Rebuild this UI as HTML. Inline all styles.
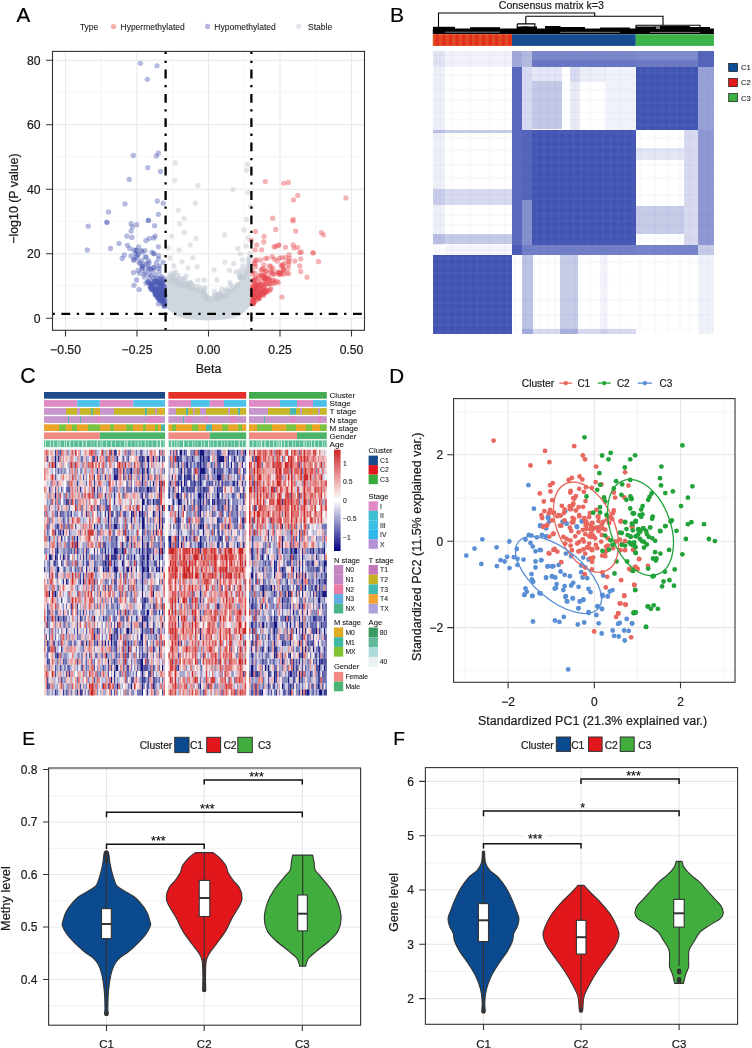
<!DOCTYPE html>
<html><head><meta charset="utf-8"><style>
html,body{margin:0;padding:0;background:#fff;width:752px;height:1048px;overflow:hidden}
svg{display:block;will-change:transform}
</style></head><body>
<svg width="752" height="1048" viewBox="0 0 752 1048" font-family="Liberation Sans, sans-serif">
<rect width="752" height="1048" fill="#fff"/>
<text x="16.4" y="21.5" font-size="20.6" text-anchor="start" fill="#000" stroke="#000" stroke-width="0.2" >A</text>
<text x="389.9" y="21.8" font-size="21" text-anchor="start" fill="#000" stroke="#000" stroke-width="0.2" >B</text>
<text x="20.2" y="382.9" font-size="21.3" text-anchor="start" fill="#000" stroke="#000" stroke-width="0.2" >C</text>
<text x="389.2" y="383" font-size="20.6" text-anchor="start" fill="#000" stroke="#000" stroke-width="0.2" >D</text>
<text x="22.2" y="745.4" font-size="19.2" text-anchor="start" fill="#000" stroke="#000" stroke-width="0.2" >E</text>
<text x="393.2" y="745.4" font-size="19.2" text-anchor="start" fill="#000" stroke="#000" stroke-width="0.2" >F</text>
<path d="M101.2 51.4V330.3M172.8 51.4V330.3M244.2 51.4V330.3M315.8 51.4V330.3M52.5 285.9H364.5M52.5 221.4H364.5M52.5 156.9H364.5M52.5 92.4H364.5" stroke="#efefef" stroke-width="0.6" fill="none"/>
<path d="M65.5 51.4V330.3M137 51.4V330.3M208.5 51.4V330.3M280 51.4V330.3M351.5 51.4V330.3M52.5 318.2H364.5M52.5 253.7H364.5M52.5 189.2H364.5M52.5 124.7H364.5M52.5 60.2H364.5" stroke="#e8e8e8" stroke-width="1.1" fill="none"/>
<text x="79.9" y="29.9" font-size="8.5" text-anchor="start" fill="#1a1a1a" stroke="#1a1a1a" stroke-width="0.08" >Type</text>
<circle cx="113.6" cy="26.6" r="2.6" fill="#f4b0aa"/>
<text x="120.5" y="29.9" font-size="8.5" text-anchor="start" fill="#1a1a1a" stroke="#1a1a1a" stroke-width="0.08" >Hypermethylated</text>
<circle cx="207.6" cy="26.4" r="2.6" fill="#b2b6e0"/>
<text x="214.3" y="29.9" font-size="8.5" text-anchor="start" fill="#1a1a1a" stroke="#1a1a1a" stroke-width="0.08" >Hypomethylated</text>
<circle cx="298.7" cy="26.4" r="2.6" fill="#e2e6ec"/>
<text x="308.1" y="29.9" font-size="8.5" text-anchor="start" fill="#1a1a1a" stroke="#1a1a1a" stroke-width="0.08" >Stable</text>
<clipPath id="clipA"><rect x="52.5" y="51.4" width="312.0" height="278.90000000000003"/></clipPath>
<g clip-path="url(#clipA)">
<polygon points="166,276 175,281 190,286 200,290 208,299 216,298 226,294 236,285 245,273 250.5,258 250.5,306 240,316 225,319.5 208,320.5 190,319.5 176,316 166,308" fill="#cfd6dd"/>
<g fill="#c3ccd6" fill-opacity="0.5"><circle cx="204.5" cy="287.6" r="2.65"/><circle cx="205.6" cy="294.6" r="2.65"/><circle cx="209.2" cy="298.4" r="2.65"/><circle cx="209.5" cy="299.3" r="2.65"/><circle cx="219.3" cy="298.2" r="2.65"/><circle cx="192.2" cy="286.9" r="2.65"/><circle cx="174.5" cy="280.2" r="2.65"/><circle cx="170.5" cy="274" r="2.65"/><circle cx="248.5" cy="259" r="2.65"/><circle cx="218.1" cy="297.7" r="2.65"/><circle cx="180.1" cy="279.2" r="2.65"/><circle cx="171.9" cy="280.8" r="2.65"/><circle cx="182.8" cy="285.5" r="2.65"/><circle cx="205.5" cy="297.1" r="2.65"/><circle cx="203.6" cy="293" r="2.65"/><circle cx="220.1" cy="293.8" r="2.65"/><circle cx="208.5" cy="298.3" r="2.65"/><circle cx="190.1" cy="283.8" r="2.65"/><circle cx="249.8" cy="253.3" r="2.65"/><circle cx="225.7" cy="295.9" r="2.65"/><circle cx="193.2" cy="288.8" r="2.65"/><circle cx="172.8" cy="278.1" r="2.65"/><circle cx="230.6" cy="284.8" r="2.65"/><circle cx="199.1" cy="286.5" r="2.65"/><circle cx="246.5" cy="270.8" r="2.65"/><circle cx="184.4" cy="286" r="2.65"/><circle cx="242.6" cy="265.9" r="2.65"/><circle cx="200" cy="289.6" r="2.65"/><circle cx="173.1" cy="276.6" r="2.65"/><circle cx="189.4" cy="282.1" r="2.65"/><circle cx="174.2" cy="276.8" r="2.65"/><circle cx="229.9" cy="282.4" r="2.65"/><circle cx="176.8" cy="283.6" r="2.65"/><circle cx="172" cy="279.2" r="2.65"/><circle cx="233.2" cy="287" r="2.65"/><circle cx="204.1" cy="291.5" r="2.65"/><circle cx="182.8" cy="285.3" r="2.65"/><circle cx="220.4" cy="295.9" r="2.65"/><circle cx="176.7" cy="280.8" r="2.65"/><circle cx="189.4" cy="286.3" r="2.65"/><circle cx="247.6" cy="266.7" r="2.65"/><circle cx="240.4" cy="277.5" r="2.65"/><circle cx="184.5" cy="279.2" r="2.65"/><circle cx="220.3" cy="292.8" r="2.65"/><circle cx="175.3" cy="280" r="2.65"/><circle cx="188.4" cy="287.3" r="2.65"/><circle cx="231.1" cy="289.6" r="2.65"/><circle cx="173.1" cy="278.6" r="2.65"/><circle cx="174.5" cy="279.8" r="2.65"/><circle cx="216.9" cy="298" r="2.65"/><circle cx="197.9" cy="280.2" r="2.65"/><circle cx="207.1" cy="296.7" r="2.65"/><circle cx="214.7" cy="298.3" r="2.65"/><circle cx="179.8" cy="282.5" r="2.65"/><circle cx="242.4" cy="277.1" r="2.65"/><circle cx="182.8" cy="282.5" r="2.65"/><circle cx="228.4" cy="291.1" r="2.65"/><circle cx="245.9" cy="271.6" r="2.65"/><circle cx="240.2" cy="277.6" r="2.65"/><circle cx="175.6" cy="280.4" r="2.65"/><circle cx="170.2" cy="277.1" r="2.65"/><circle cx="225.5" cy="295.4" r="2.65"/><circle cx="188.3" cy="284.7" r="2.65"/><circle cx="191.4" cy="283.1" r="2.65"/><circle cx="181.6" cy="284.9" r="2.65"/><circle cx="186" cy="285" r="2.65"/><circle cx="213.4" cy="296.6" r="2.65"/><circle cx="190.3" cy="283.1" r="2.65"/><circle cx="243.1" cy="277.2" r="2.65"/><circle cx="189.3" cy="287" r="2.65"/><circle cx="204" cy="293.9" r="2.65"/><circle cx="197.6" cy="290" r="2.65"/><circle cx="214.5" cy="297.3" r="2.65"/><circle cx="240.9" cy="277.3" r="2.65"/><circle cx="248.4" cy="262" r="2.65"/><circle cx="215.5" cy="294.3" r="2.65"/><circle cx="178.6" cy="283.4" r="2.65"/><circle cx="242.5" cy="278.1" r="2.65"/><circle cx="225.2" cy="295.4" r="2.65"/><circle cx="219.8" cy="298.3" r="2.65"/><circle cx="207" cy="299.4" r="2.65"/><circle cx="249.9" cy="257.6" r="2.65"/><circle cx="173.2" cy="275" r="2.65"/><circle cx="241.7" cy="277.3" r="2.65"/><circle cx="228.2" cy="291.7" r="2.65"/><circle cx="242.9" cy="270.1" r="2.65"/><circle cx="196.2" cy="286.6" r="2.65"/><circle cx="239.3" cy="273.7" r="2.65"/><circle cx="201.6" cy="291.6" r="2.65"/><circle cx="214.5" cy="291.5" r="2.65"/><circle cx="218.9" cy="294.5" r="2.65"/><circle cx="217.5" cy="295.4" r="2.65"/><circle cx="173.7" cy="273.1" r="2.65"/><circle cx="240" cy="270.7" r="2.65"/><circle cx="227.4" cy="289.1" r="2.65"/><circle cx="215.2" cy="295.4" r="2.65"/><circle cx="203.6" cy="295" r="2.65"/><circle cx="229.3" cy="291.5" r="2.65"/><circle cx="169.5" cy="275.8" r="2.65"/><circle cx="186.1" cy="283.6" r="2.65"/><circle cx="225" cy="290.2" r="2.65"/><circle cx="243.4" cy="277" r="2.65"/><circle cx="188.2" cy="283.6" r="2.65"/><circle cx="223.3" cy="296.8" r="2.65"/><circle cx="183.8" cy="281.2" r="2.65"/><circle cx="221.8" cy="289.1" r="2.65"/><circle cx="203.7" cy="293" r="2.65"/><circle cx="222.3" cy="295" r="2.65"/><circle cx="183.5" cy="278.4" r="2.65"/><circle cx="242.9" cy="274.4" r="2.65"/><circle cx="240.1" cy="277.1" r="2.65"/><circle cx="193.3" cy="285.4" r="2.65"/><circle cx="178.3" cy="275.5" r="2.65"/><circle cx="237.4" cy="284.9" r="2.65"/><circle cx="226" cy="292.5" r="2.65"/><circle cx="181" cy="283.9" r="2.65"/><circle cx="204.4" cy="296.5" r="2.65"/><circle cx="201.4" cy="290.4" r="2.65"/><circle cx="218.9" cy="294.9" r="2.65"/><circle cx="236.6" cy="286" r="2.65"/><circle cx="248.5" cy="263.7" r="2.65"/><circle cx="169.6" cy="279.5" r="2.65"/><circle cx="239.4" cy="275.6" r="2.65"/><circle cx="214.4" cy="298.4" r="2.65"/><circle cx="192.6" cy="288.8" r="2.65"/><circle cx="178.3" cy="283.2" r="2.65"/><circle cx="204.8" cy="289" r="2.65"/><circle cx="186.7" cy="285.6" r="2.65"/><circle cx="178.7" cy="278.2" r="2.65"/><circle cx="204.1" cy="294.7" r="2.65"/><circle cx="175.3" cy="162.9" r="2.65"/><circle cx="174.8" cy="180.5" r="2.65"/><circle cx="197.9" cy="185.5" r="2.65"/><circle cx="233" cy="189.6" r="2.65"/><circle cx="195.4" cy="203.1" r="2.65"/><circle cx="178.3" cy="210.2" r="2.65"/><circle cx="184" cy="218.3" r="2.65"/><circle cx="179.8" cy="223.7" r="2.65"/><circle cx="184.4" cy="232.4" r="2.65"/><circle cx="171.5" cy="236.2" r="2.65"/><circle cx="195.9" cy="238.5" r="2.65"/><circle cx="190.2" cy="245" r="2.65"/><circle cx="179.1" cy="249.9" r="2.65"/><circle cx="224.6" cy="235" r="2.65"/><circle cx="237.9" cy="248.4" r="2.65"/><circle cx="246.7" cy="219.4" r="2.65"/><circle cx="247.8" cy="164.4" r="2.65"/><circle cx="246.7" cy="170.2" r="2.65"/><circle cx="248.2" cy="192.7" r="2.65"/><circle cx="250.8" cy="206.4" r="2.65"/><circle cx="192.8" cy="257.6" r="2.65"/><circle cx="197.1" cy="266.7" r="2.65"/><circle cx="224.9" cy="262.1" r="2.65"/><circle cx="233.7" cy="263.4" r="2.65"/><circle cx="229.5" cy="270.5" r="2.65"/><circle cx="242.4" cy="259.8" r="2.65"/><circle cx="174" cy="266" r="2.65"/><circle cx="182" cy="262" r="2.65"/><circle cx="188" cy="268" r="2.65"/><circle cx="170" cy="258" r="2.65"/><circle cx="168" cy="248" r="2.65"/><circle cx="214" cy="270" r="2.65"/><circle cx="240" cy="254" r="2.65"/><circle cx="246" cy="246" r="2.65"/><circle cx="244" cy="230" r="2.65"/><circle cx="236" cy="272" r="2.65"/><circle cx="186" cy="276" r="2.65"/><circle cx="204" cy="280" r="2.65"/><circle cx="217" cy="280" r="2.65"/><circle cx="176" cy="272" r="2.65"/><circle cx="248" cy="238" r="2.65"/></g>
<g fill="#4d5bb4" fill-opacity="0.42"><circle cx="133.3" cy="155.5" r="2.65"/><circle cx="156.3" cy="156" r="2.65"/><circle cx="158.4" cy="153.2" r="2.65"/><circle cx="147.7" cy="167.7" r="2.65"/><circle cx="160.5" cy="171.5" r="2.65"/><circle cx="129.2" cy="179.4" r="2.65"/><circle cx="125" cy="203.8" r="2.65"/><circle cx="157.3" cy="201" r="2.65"/><circle cx="163.3" cy="203.2" r="2.65"/><circle cx="108.6" cy="211.9" r="2.65"/><circle cx="158.4" cy="214.3" r="2.65"/><circle cx="106.9" cy="222.3" r="2.65"/><circle cx="106.9" cy="222.3" r="2.65"/><circle cx="88.2" cy="226.2" r="2.65"/><circle cx="148.4" cy="220.4" r="2.65"/><circle cx="148.4" cy="220.4" r="2.65"/><circle cx="131.1" cy="223.6" r="2.65"/><circle cx="136.7" cy="224.7" r="2.65"/><circle cx="154.6" cy="225.7" r="2.65"/><circle cx="132.4" cy="226.8" r="2.65"/><circle cx="131.1" cy="231.1" r="2.65"/><circle cx="126.9" cy="236.2" r="2.65"/><circle cx="149.2" cy="238.5" r="2.65"/><circle cx="153.7" cy="237.9" r="2.65"/><circle cx="155.2" cy="236.2" r="2.65"/><circle cx="119" cy="243.4" r="2.65"/><circle cx="127.5" cy="245.3" r="2.65"/><circle cx="158.4" cy="246.8" r="2.65"/><circle cx="87.3" cy="250" r="2.65"/><circle cx="110.5" cy="248.5" r="2.65"/><circle cx="129.7" cy="248.5" r="2.65"/><circle cx="133.9" cy="250" r="2.65"/><circle cx="141.4" cy="250.6" r="2.65"/><circle cx="145" cy="250.6" r="2.65"/><circle cx="152" cy="252.1" r="2.65"/><circle cx="154.1" cy="253.8" r="2.65"/><circle cx="124.3" cy="254.9" r="2.65"/><circle cx="122.2" cy="258.5" r="2.65"/><circle cx="131.1" cy="256" r="2.65"/><circle cx="137.1" cy="257.7" r="2.65"/><circle cx="145.2" cy="256.8" r="2.65"/><circle cx="133.9" cy="260.2" r="2.65"/><circle cx="139.2" cy="262.3" r="2.65"/><circle cx="146.7" cy="263.4" r="2.65"/><circle cx="156.3" cy="263" r="2.65"/><circle cx="163.1" cy="262.3" r="2.65"/><circle cx="133.5" cy="272.6" r="2.65"/><circle cx="136.5" cy="280" r="2.65"/><circle cx="133.9" cy="285.3" r="2.65"/><circle cx="139.2" cy="289.6" r="2.65"/><circle cx="158.4" cy="303.8" r="2.65"/><circle cx="155.8" cy="294.4" r="2.65"/><circle cx="138.6" cy="247" r="2.65"/><circle cx="152.4" cy="288.3" r="2.65"/><circle cx="159" cy="298" r="2.65"/><circle cx="138.5" cy="254.6" r="2.65"/><circle cx="163.6" cy="278.7" r="2.65"/><circle cx="158.9" cy="299.3" r="2.65"/><circle cx="156.9" cy="277.8" r="2.65"/><circle cx="164.6" cy="304.2" r="2.65"/><circle cx="142" cy="266.5" r="2.65"/><circle cx="151.5" cy="275.6" r="2.65"/><circle cx="163.4" cy="281.9" r="2.65"/><circle cx="155.9" cy="295.4" r="2.65"/><circle cx="146" cy="283" r="2.65"/><circle cx="162.6" cy="294.8" r="2.65"/><circle cx="145.9" cy="240.6" r="2.65"/><circle cx="161.6" cy="284.3" r="2.65"/><circle cx="154.4" cy="289.4" r="2.65"/><circle cx="162.6" cy="282.2" r="2.65"/><circle cx="133.6" cy="259.7" r="2.65"/><circle cx="144.2" cy="277" r="2.65"/><circle cx="163.1" cy="290.9" r="2.65"/><circle cx="163.3" cy="293.1" r="2.65"/><circle cx="156.3" cy="291.2" r="2.65"/><circle cx="164.7" cy="300.7" r="2.65"/><circle cx="161.3" cy="290.1" r="2.65"/><circle cx="149.1" cy="274.2" r="2.65"/><circle cx="158.7" cy="297.8" r="2.65"/><circle cx="153.6" cy="253.7" r="2.65"/><circle cx="164.5" cy="291.9" r="2.65"/><circle cx="152.1" cy="289.5" r="2.65"/><circle cx="150.6" cy="286.9" r="2.65"/><circle cx="160.6" cy="299.9" r="2.65"/><circle cx="164.3" cy="305.4" r="2.65"/><circle cx="162.9" cy="294.8" r="2.65"/><circle cx="151.8" cy="288.1" r="2.65"/><circle cx="140.4" cy="263.5" r="2.65"/><circle cx="160.7" cy="296.9" r="2.65"/><circle cx="157.9" cy="297.3" r="2.65"/><circle cx="152.1" cy="283.9" r="2.65"/><circle cx="150.1" cy="286.1" r="2.65"/><circle cx="138.1" cy="270.6" r="2.65"/><circle cx="163.9" cy="294.3" r="2.65"/><circle cx="141.8" cy="260.6" r="2.65"/><circle cx="160.9" cy="284.9" r="2.65"/><circle cx="161.3" cy="293.8" r="2.65"/><circle cx="161.3" cy="299.8" r="2.65"/><circle cx="163.3" cy="299.5" r="2.65"/><circle cx="154" cy="284.5" r="2.65"/><circle cx="164.3" cy="306.2" r="2.65"/><circle cx="162.3" cy="300.5" r="2.65"/><circle cx="156.5" cy="288.8" r="2.65"/><circle cx="159.7" cy="285.5" r="2.65"/><circle cx="164.2" cy="302.8" r="2.65"/><circle cx="158.5" cy="297.2" r="2.65"/><circle cx="148.1" cy="269.1" r="2.65"/><circle cx="137.4" cy="254.6" r="2.65"/><circle cx="155.6" cy="293.9" r="2.65"/><circle cx="159.5" cy="293.3" r="2.65"/><circle cx="163.3" cy="297.8" r="2.65"/><circle cx="159.2" cy="289.3" r="2.65"/><circle cx="159.2" cy="266.2" r="2.65"/><circle cx="158.6" cy="297" r="2.65"/><circle cx="161.6" cy="285.5" r="2.65"/><circle cx="160" cy="291.9" r="2.65"/><circle cx="135.3" cy="257.7" r="2.65"/><circle cx="161" cy="289.2" r="2.65"/><circle cx="163.9" cy="302.1" r="2.65"/><circle cx="146.3" cy="257.2" r="2.65"/><circle cx="160.6" cy="295.8" r="2.65"/><circle cx="153.9" cy="267.4" r="2.65"/><circle cx="154.8" cy="293.6" r="2.65"/><circle cx="153.6" cy="278.4" r="2.65"/><circle cx="161.7" cy="276.7" r="2.65"/><circle cx="154" cy="291.2" r="2.65"/><circle cx="161.6" cy="281.8" r="2.65"/><circle cx="156.8" cy="289.5" r="2.65"/><circle cx="164.6" cy="295.5" r="2.65"/><circle cx="154.5" cy="290.8" r="2.65"/><circle cx="159.1" cy="290.8" r="2.65"/><circle cx="150.1" cy="268.4" r="2.65"/><circle cx="160.8" cy="286.4" r="2.65"/><circle cx="148.6" cy="267" r="2.65"/><circle cx="160.8" cy="284.8" r="2.65"/><circle cx="154.1" cy="267.6" r="2.65"/><circle cx="157.8" cy="293.3" r="2.65"/><circle cx="163.1" cy="286" r="2.65"/><circle cx="158.8" cy="268.4" r="2.65"/><circle cx="154" cy="288.8" r="2.65"/><circle cx="163" cy="280.2" r="2.65"/><circle cx="150.9" cy="269.7" r="2.65"/><circle cx="159.7" cy="289.6" r="2.65"/><circle cx="155.8" cy="292.4" r="2.65"/><circle cx="153.1" cy="270.7" r="2.65"/><circle cx="164.5" cy="297.6" r="2.65"/><circle cx="155.1" cy="280.9" r="2.65"/><circle cx="162.5" cy="295.5" r="2.65"/><circle cx="164.4" cy="286.3" r="2.65"/><circle cx="158.9" cy="298.9" r="2.65"/><circle cx="163.4" cy="300.2" r="2.65"/><circle cx="161.2" cy="298.3" r="2.65"/><circle cx="164.4" cy="297.3" r="2.65"/><circle cx="159" cy="284.3" r="2.65"/><circle cx="156.6" cy="282.2" r="2.65"/><circle cx="162.3" cy="303.4" r="2.65"/><circle cx="160" cy="300.7" r="2.65"/><circle cx="161.8" cy="296.7" r="2.65"/><circle cx="148.5" cy="282.6" r="2.65"/><circle cx="160.5" cy="280.8" r="2.65"/><circle cx="163.8" cy="301" r="2.65"/><circle cx="157.5" cy="287.1" r="2.65"/><circle cx="135.7" cy="253.6" r="2.65"/><circle cx="149.1" cy="262.8" r="2.65"/><circle cx="155.3" cy="281.4" r="2.65"/><circle cx="160.5" cy="288.6" r="2.65"/><circle cx="157.1" cy="281.3" r="2.65"/><circle cx="135.9" cy="250.4" r="2.65"/><circle cx="160.8" cy="297.8" r="2.65"/><circle cx="144.2" cy="274.1" r="2.65"/><circle cx="157.1" cy="297.4" r="2.65"/><circle cx="156" cy="282.2" r="2.65"/><circle cx="144.4" cy="264.9" r="2.65"/><circle cx="160.4" cy="291.5" r="2.65"/><circle cx="161.6" cy="298.4" r="2.65"/><circle cx="131.9" cy="237.4" r="2.65"/><circle cx="142.3" cy="252" r="2.65"/><circle cx="156.5" cy="293.9" r="2.65"/><circle cx="158.5" cy="255.6" r="2.65"/><circle cx="159.8" cy="282" r="2.65"/><circle cx="158.5" cy="258.8" r="2.65"/><circle cx="161.7" cy="295.3" r="2.65"/><circle cx="155.8" cy="294.7" r="2.65"/><circle cx="159.4" cy="293" r="2.65"/><circle cx="148.7" cy="261" r="2.65"/><circle cx="164.6" cy="294.6" r="2.65"/><circle cx="139.7" cy="273.3" r="2.65"/><circle cx="150.8" cy="289.3" r="2.65"/><circle cx="163.2" cy="292.8" r="2.65"/><circle cx="158.9" cy="279.2" r="2.65"/><circle cx="155.3" cy="274.9" r="2.65"/><circle cx="163.6" cy="290" r="2.65"/><circle cx="151.7" cy="284.7" r="2.65"/><circle cx="161" cy="284.1" r="2.65"/><circle cx="161.5" cy="285.9" r="2.65"/><circle cx="160.6" cy="298.6" r="2.65"/><circle cx="152.2" cy="287.9" r="2.65"/><circle cx="162.1" cy="301.3" r="2.65"/><circle cx="159.2" cy="272" r="2.65"/><circle cx="157.5" cy="281.7" r="2.65"/><circle cx="164.6" cy="303.8" r="2.65"/><circle cx="156.9" cy="281.1" r="2.65"/><circle cx="153.5" cy="281" r="2.65"/><circle cx="142.5" cy="266.2" r="2.65"/><circle cx="160.3" cy="277.8" r="2.65"/><circle cx="162.7" cy="285.4" r="2.65"/><circle cx="161.5" cy="300.2" r="2.65"/><circle cx="148.2" cy="281.4" r="2.65"/><circle cx="153.9" cy="281.8" r="2.65"/><circle cx="150.9" cy="284.5" r="2.65"/><circle cx="142.6" cy="268.5" r="2.65"/><circle cx="157.5" cy="284.1" r="2.65"/><circle cx="158.4" cy="294.8" r="2.65"/><circle cx="156.7" cy="289.1" r="2.65"/><circle cx="149.5" cy="277.8" r="2.65"/><circle cx="149.1" cy="282.8" r="2.65"/><circle cx="150.4" cy="287.3" r="2.65"/><circle cx="153" cy="289.3" r="2.65"/><circle cx="164.3" cy="306.1" r="2.65"/><circle cx="147.9" cy="281.7" r="2.65"/><circle cx="136.9" cy="250.5" r="2.65"/><circle cx="153.3" cy="284.2" r="2.65"/><circle cx="141.9" cy="268.9" r="2.65"/><circle cx="163.3" cy="292.8" r="2.65"/><circle cx="163.1" cy="294.7" r="2.65"/><circle cx="155.8" cy="288.7" r="2.65"/><circle cx="160.4" cy="299.5" r="2.65"/><circle cx="164.1" cy="287.1" r="2.65"/><circle cx="152.3" cy="284.4" r="2.65"/><circle cx="145.5" cy="272.1" r="2.65"/><circle cx="140.5" cy="63.3" r="2.65"/><circle cx="157" cy="65.8" r="2.65"/><circle cx="147.3" cy="79.3" r="2.65"/></g>
<g fill="#e84a52" fill-opacity="0.42"><circle cx="265.3" cy="181.6" r="2.65"/><circle cx="283.7" cy="183.3" r="2.65"/><circle cx="288.2" cy="182.4" r="2.65"/><circle cx="297.8" cy="195.4" r="2.65"/><circle cx="293.5" cy="199.9" r="2.65"/><circle cx="345.9" cy="197.9" r="2.65"/><circle cx="272.7" cy="218.2" r="2.65"/><circle cx="293.2" cy="219.5" r="2.65"/><circle cx="255.5" cy="231.5" r="2.65"/><circle cx="275.7" cy="229.5" r="2.65"/><circle cx="295.7" cy="231.1" r="2.65"/><circle cx="321.4" cy="232.6" r="2.65"/><circle cx="323.6" cy="234.8" r="2.65"/><circle cx="264.1" cy="236.5" r="2.65"/><circle cx="251.3" cy="240.3" r="2.65"/><circle cx="263.8" cy="242" r="2.65"/><circle cx="293.2" cy="244.8" r="2.65"/><circle cx="255" cy="249.8" r="2.65"/><circle cx="261.6" cy="249.8" r="2.65"/><circle cx="275.4" cy="246.4" r="2.65"/><circle cx="278.2" cy="245.6" r="2.65"/><circle cx="313.1" cy="252.8" r="2.65"/><circle cx="313.1" cy="252.8" r="2.65"/><circle cx="260.4" cy="260.1" r="2.65"/><circle cx="267.4" cy="258.1" r="2.65"/><circle cx="279.4" cy="258.1" r="2.65"/><circle cx="289" cy="254.7" r="2.65"/><circle cx="289.5" cy="258.1" r="2.65"/><circle cx="294.9" cy="261.1" r="2.65"/><circle cx="318.6" cy="261.7" r="2.65"/><circle cx="299.8" cy="266" r="2.65"/><circle cx="282.4" cy="266" r="2.65"/><circle cx="300.7" cy="271.4" r="2.65"/><circle cx="307" cy="277.2" r="2.65"/><circle cx="282" cy="297.1" r="2.65"/><circle cx="261.1" cy="291.6" r="2.65"/><circle cx="281.1" cy="274.6" r="2.65"/><circle cx="252.4" cy="270.8" r="2.65"/><circle cx="253.5" cy="303.7" r="2.65"/><circle cx="263.8" cy="292.1" r="2.65"/><circle cx="259.1" cy="296.4" r="2.65"/><circle cx="269.6" cy="265.9" r="2.65"/><circle cx="254.7" cy="295.5" r="2.65"/><circle cx="256.1" cy="287.3" r="2.65"/><circle cx="289.1" cy="261.9" r="2.65"/><circle cx="265" cy="292.1" r="2.65"/><circle cx="271.9" cy="273" r="2.65"/><circle cx="253.8" cy="297.8" r="2.65"/><circle cx="270.8" cy="266.3" r="2.65"/><circle cx="260.1" cy="287.9" r="2.65"/><circle cx="255.6" cy="295.8" r="2.65"/><circle cx="257" cy="297.4" r="2.65"/><circle cx="283.4" cy="269" r="2.65"/><circle cx="282.5" cy="264.9" r="2.65"/><circle cx="261.9" cy="291.8" r="2.65"/><circle cx="252.6" cy="273.8" r="2.65"/><circle cx="254" cy="287.9" r="2.65"/><circle cx="265.2" cy="279" r="2.65"/><circle cx="284.5" cy="263.4" r="2.65"/><circle cx="255.5" cy="295.8" r="2.65"/><circle cx="263.4" cy="295.6" r="2.65"/><circle cx="252.5" cy="288.8" r="2.65"/><circle cx="288.5" cy="265" r="2.65"/><circle cx="260.1" cy="280.3" r="2.65"/><circle cx="253.7" cy="290.4" r="2.65"/><circle cx="264.7" cy="284.5" r="2.65"/><circle cx="297.7" cy="247.3" r="2.65"/><circle cx="253.1" cy="283.9" r="2.65"/><circle cx="254.6" cy="295.9" r="2.65"/><circle cx="256.7" cy="244.8" r="2.65"/><circle cx="254.1" cy="301.9" r="2.65"/><circle cx="269.7" cy="279.2" r="2.65"/><circle cx="265.8" cy="290.3" r="2.65"/><circle cx="252.9" cy="288.7" r="2.65"/><circle cx="265" cy="276.5" r="2.65"/><circle cx="273.6" cy="274.5" r="2.65"/><circle cx="280.8" cy="273.4" r="2.65"/><circle cx="264.8" cy="279.1" r="2.65"/><circle cx="264.5" cy="290" r="2.65"/><circle cx="252.5" cy="300.7" r="2.65"/><circle cx="260.4" cy="284.7" r="2.65"/><circle cx="255.7" cy="289" r="2.65"/><circle cx="253.6" cy="299.3" r="2.65"/><circle cx="266.5" cy="270.8" r="2.65"/><circle cx="252.6" cy="288" r="2.65"/><circle cx="274" cy="280.3" r="2.65"/><circle cx="269.9" cy="272.7" r="2.65"/><circle cx="256.3" cy="300.5" r="2.65"/><circle cx="256" cy="285.2" r="2.65"/><circle cx="299.8" cy="252.4" r="2.65"/><circle cx="280.4" cy="272.4" r="2.65"/><circle cx="258.9" cy="294.8" r="2.65"/><circle cx="278.8" cy="274.3" r="2.65"/><circle cx="256.5" cy="260" r="2.65"/><circle cx="255" cy="289.3" r="2.65"/><circle cx="294.1" cy="247.9" r="2.65"/><circle cx="252.4" cy="303.2" r="2.65"/><circle cx="253.2" cy="300.4" r="2.65"/><circle cx="265.8" cy="278.4" r="2.65"/><circle cx="300.8" cy="258.8" r="2.65"/><circle cx="264.1" cy="288.3" r="2.65"/><circle cx="254.4" cy="285.9" r="2.65"/><circle cx="269.3" cy="280.3" r="2.65"/><circle cx="253.2" cy="280.5" r="2.65"/><circle cx="272.9" cy="280.3" r="2.65"/><circle cx="259.2" cy="292" r="2.65"/><circle cx="270.2" cy="283.7" r="2.65"/><circle cx="273.4" cy="273.7" r="2.65"/><circle cx="253.8" cy="291.2" r="2.65"/><circle cx="253" cy="294.9" r="2.65"/><circle cx="266.5" cy="291.5" r="2.65"/><circle cx="253.5" cy="302.1" r="2.65"/><circle cx="252.4" cy="293.9" r="2.65"/><circle cx="255" cy="283.1" r="2.65"/><circle cx="259.3" cy="293.8" r="2.65"/><circle cx="255" cy="264.2" r="2.65"/><circle cx="263.2" cy="291.6" r="2.65"/><circle cx="292.8" cy="220.9" r="2.65"/><circle cx="283.7" cy="269.6" r="2.65"/><circle cx="263.5" cy="276" r="2.65"/><circle cx="286.6" cy="273.3" r="2.65"/><circle cx="253.2" cy="291.9" r="2.65"/><circle cx="257.4" cy="285.2" r="2.65"/><circle cx="270.7" cy="288.3" r="2.65"/><circle cx="269.5" cy="283.4" r="2.65"/><circle cx="260.9" cy="275.1" r="2.65"/><circle cx="253" cy="303.2" r="2.65"/><circle cx="265.5" cy="271" r="2.65"/><circle cx="256" cy="278.4" r="2.65"/><circle cx="277" cy="281.5" r="2.65"/><circle cx="282.1" cy="257.7" r="2.65"/><circle cx="252.8" cy="286.6" r="2.65"/><circle cx="268.5" cy="278.9" r="2.65"/><circle cx="259.7" cy="289.5" r="2.65"/><circle cx="265.7" cy="289.6" r="2.65"/><circle cx="255.1" cy="289" r="2.65"/><circle cx="261.3" cy="291.6" r="2.65"/><circle cx="263.2" cy="268.5" r="2.65"/><circle cx="258.1" cy="295.9" r="2.65"/><circle cx="274.1" cy="246.9" r="2.65"/><circle cx="265" cy="292.4" r="2.65"/><circle cx="277.8" cy="271.9" r="2.65"/><circle cx="256" cy="292.9" r="2.65"/><circle cx="273.9" cy="282.9" r="2.65"/><circle cx="253.9" cy="293.2" r="2.65"/><circle cx="254.1" cy="263" r="2.65"/><circle cx="258.9" cy="283" r="2.65"/><circle cx="271.6" cy="269.8" r="2.65"/><circle cx="258.9" cy="295.8" r="2.65"/><circle cx="266.7" cy="292" r="2.65"/><circle cx="262.7" cy="284.1" r="2.65"/><circle cx="255.4" cy="266.7" r="2.65"/><circle cx="252.6" cy="290.6" r="2.65"/><circle cx="253.8" cy="302.3" r="2.65"/><circle cx="256.4" cy="296.5" r="2.65"/><circle cx="279.5" cy="273.2" r="2.65"/><circle cx="253.1" cy="297.6" r="2.65"/><circle cx="256.9" cy="292.4" r="2.65"/><circle cx="274.3" cy="259.1" r="2.65"/><circle cx="285.4" cy="247.3" r="2.65"/><circle cx="288.4" cy="260.8" r="2.65"/><circle cx="301.3" cy="252.2" r="2.65"/><circle cx="256.3" cy="294" r="2.65"/><circle cx="265.5" cy="279.2" r="2.65"/><circle cx="278.2" cy="282.6" r="2.65"/><circle cx="259.5" cy="295.8" r="2.65"/><circle cx="261.1" cy="285.3" r="2.65"/><circle cx="265.7" cy="278.1" r="2.65"/><circle cx="255.2" cy="295.6" r="2.65"/><circle cx="259.6" cy="294.6" r="2.65"/><circle cx="263.5" cy="287" r="2.65"/><circle cx="255.2" cy="297.1" r="2.65"/><circle cx="254.4" cy="280.5" r="2.65"/><circle cx="266.3" cy="284.2" r="2.65"/><circle cx="265.6" cy="279.1" r="2.65"/><circle cx="272.8" cy="268.4" r="2.65"/><circle cx="255.7" cy="284.9" r="2.65"/><circle cx="263.4" cy="294.2" r="2.65"/><circle cx="263.8" cy="292.9" r="2.65"/><circle cx="261.4" cy="288" r="2.65"/><circle cx="277.9" cy="273" r="2.65"/><circle cx="262.6" cy="275.8" r="2.65"/><circle cx="257" cy="286.3" r="2.65"/><circle cx="263.2" cy="293.9" r="2.65"/><circle cx="288.6" cy="273.6" r="2.65"/><circle cx="252.9" cy="299.1" r="2.65"/><circle cx="253.7" cy="296.3" r="2.65"/><circle cx="277.1" cy="261" r="2.65"/><circle cx="259.5" cy="298.5" r="2.65"/><circle cx="283.6" cy="270.1" r="2.65"/><circle cx="269" cy="290.8" r="2.65"/><circle cx="258.6" cy="298.2" r="2.65"/><circle cx="259.2" cy="285.4" r="2.65"/><circle cx="255.1" cy="278.2" r="2.65"/><circle cx="264.4" cy="274" r="2.65"/><circle cx="252.4" cy="303.9" r="2.65"/><circle cx="261.6" cy="294.4" r="2.65"/><circle cx="281" cy="265.4" r="2.65"/><circle cx="272.3" cy="256.7" r="2.65"/><circle cx="256.8" cy="290.5" r="2.65"/><circle cx="268.5" cy="277.7" r="2.65"/><circle cx="256" cy="289.1" r="2.65"/><circle cx="258.4" cy="276.8" r="2.65"/><circle cx="265.4" cy="258.6" r="2.65"/><circle cx="252.6" cy="294.5" r="2.65"/><circle cx="255.2" cy="298.5" r="2.65"/><circle cx="253.7" cy="280.5" r="2.65"/><circle cx="254.3" cy="298.6" r="2.65"/><circle cx="285.5" cy="257.6" r="2.65"/><circle cx="255.7" cy="295.2" r="2.65"/><circle cx="260.1" cy="275.2" r="2.65"/><circle cx="279.1" cy="244.8" r="2.65"/><circle cx="270.2" cy="289.8" r="2.65"/><circle cx="262.1" cy="269.8" r="2.65"/><circle cx="259.5" cy="288.2" r="2.65"/><circle cx="261.2" cy="269.7" r="2.65"/><circle cx="263.9" cy="264.8" r="2.65"/><circle cx="288" cy="268.5" r="2.65"/><circle cx="258.5" cy="298.5" r="2.65"/><circle cx="283.6" cy="274.1" r="2.65"/><circle cx="255.2" cy="260.5" r="2.65"/><circle cx="263.1" cy="277.8" r="2.65"/><circle cx="268.1" cy="283.7" r="2.65"/><circle cx="255" cy="273.3" r="2.65"/><circle cx="264.7" cy="283.8" r="2.65"/><circle cx="255.5" cy="296.1" r="2.65"/><circle cx="254.2" cy="292.2" r="2.65"/><circle cx="257.3" cy="285" r="2.65"/><circle cx="273.9" cy="283.3" r="2.65"/><circle cx="260.9" cy="293.4" r="2.65"/></g>
<path d="M165.6 330.3V51.4M251.4 330.3V51.4" stroke="#000" stroke-width="2.3" stroke-dasharray="2.3 6.6 8.8 6.6" fill="none"/>
<path d="M52.5 313.9H364.5" stroke="#000" stroke-width="2.3" stroke-dasharray="2.3 6.6 8.8 6.6" fill="none"/>
</g>
<rect x="52.5" y="51.4" width="312" height="278.9" fill="none" stroke="#333" stroke-width="1.1"/>
<path d="M46 318.2H52.5M46 253.7H52.5M46 189.2H52.5M46 124.7H52.5M46 60.2H52.5M65.5 330.3V336.5M137 330.3V336.5M208.5 330.3V336.5M280 330.3V336.5M351.5 330.3V336.5" stroke="#333" stroke-width="1.1" fill="none"/>
<text x="40.5" y="322.6" font-size="12.2" text-anchor="end" fill="#1a1a1a" stroke="#1a1a1a" stroke-width="0.2" >0</text>
<text x="40.5" y="258.1" font-size="12.2" text-anchor="end" fill="#1a1a1a" stroke="#1a1a1a" stroke-width="0.2" >20</text>
<text x="40.5" y="193.6" font-size="12.2" text-anchor="end" fill="#1a1a1a" stroke="#1a1a1a" stroke-width="0.2" >40</text>
<text x="40.5" y="129.1" font-size="12.2" text-anchor="end" fill="#1a1a1a" stroke="#1a1a1a" stroke-width="0.2" >60</text>
<text x="40.5" y="64.6" font-size="12.2" text-anchor="end" fill="#1a1a1a" stroke="#1a1a1a" stroke-width="0.2" >80</text>
<text x="65.5" y="353.9" font-size="12.2" text-anchor="middle" fill="#1a1a1a" stroke="#1a1a1a" stroke-width="0.2" >−0.50</text>
<text x="137" y="353.9" font-size="12.2" text-anchor="middle" fill="#1a1a1a" stroke="#1a1a1a" stroke-width="0.2" >−0.25</text>
<text x="208.5" y="353.9" font-size="12.2" text-anchor="middle" fill="#1a1a1a" stroke="#1a1a1a" stroke-width="0.2" >0.00</text>
<text x="280" y="353.9" font-size="12.2" text-anchor="middle" fill="#1a1a1a" stroke="#1a1a1a" stroke-width="0.2" >0.25</text>
<text x="351.5" y="353.9" font-size="12.2" text-anchor="middle" fill="#1a1a1a" stroke="#1a1a1a" stroke-width="0.2" >0.50</text>
<text x="208.5" y="372.6" font-size="12.5" text-anchor="middle" fill="#1a1a1a" stroke="#1a1a1a" stroke-width="0.2" >Beta</text>
<text transform="translate(17.6 198.6) rotate(-90)" font-size="12.4" text-anchor="middle" fill="#1a1a1a" stroke="#1a1a1a" stroke-width="0.22">−log10 (P value)</text>
<text x="498.8" y="9.2" font-size="10.6" text-anchor="start" fill="#1a1a1a" stroke="#1a1a1a" stroke-width="0.2" >Consensus matrix k=3</text>
<rect x="432.8" y="34.2" width="79.2" height="11.7" fill="#e04a22"/>
<g fill="#e61c1c" opacity="0.6"><rect x="435.8" y="34.2" width="3" height="11.7"/><rect x="442.4" y="34.2" width="3" height="11.7"/><rect x="449" y="34.2" width="3" height="11.7"/><rect x="455.6" y="34.2" width="3" height="11.7"/><rect x="462.2" y="34.2" width="3" height="11.7"/><rect x="468.8" y="34.2" width="3" height="11.7"/><rect x="475.4" y="34.2" width="3" height="11.7"/><rect x="482" y="34.2" width="3" height="11.7"/><rect x="488.6" y="34.2" width="3" height="11.7"/><rect x="495.2" y="34.2" width="3" height="11.7"/><rect x="501.8" y="34.2" width="3" height="11.7"/><rect x="508.4" y="34.2" width="3" height="11.7"/></g>
<rect x="512" y="34.2" width="123.8" height="11.7" fill="#174d90"/>
<rect x="635.8" y="34.2" width="78.1" height="11.7" fill="#3db34a"/>
<g fill="#4354b4" shape-rendering="crispEdges"><rect x="433" y="255" width="79" height="79" fill-opacity="1.0"/><rect x="532" y="130" width="104" height="115" fill-opacity="1.0"/><rect x="522" y="130" width="10" height="70" fill-opacity="0.9"/><rect x="522" y="200" width="10" height="45" fill-opacity="0.65"/><rect x="636" y="67" width="62" height="63" fill-opacity="1.0"/><rect x="512" y="67" width="10" height="178" fill-opacity="0.88"/><rect x="512" y="51" width="10" height="16" fill-opacity="0.5"/><rect x="522" y="51" width="10" height="16" fill-opacity="0.4"/><rect x="532" y="51" width="104" height="9" fill-opacity="0.7"/><rect x="532" y="60" width="104" height="7" fill-opacity="0.8"/><rect x="636" y="51" width="62" height="9" fill-opacity="0.68"/><rect x="636" y="60" width="62" height="7" fill-opacity="0.78"/><rect x="698" y="51" width="16" height="16" fill-opacity="0.9"/><rect x="698" y="67" width="16" height="63" fill-opacity="0.55"/><rect x="698" y="130" width="16" height="115" fill-opacity="0.6"/><rect x="698" y="245" width="16" height="10" fill-opacity="0.3"/><rect x="512" y="245" width="10" height="10" fill-opacity="0.95"/><rect x="522" y="245" width="114" height="10" fill-opacity="0.75"/><rect x="636" y="245" width="62" height="10" fill-opacity="0.72"/><rect x="433" y="130" width="79" height="3" fill-opacity="0.3"/><rect x="532" y="81" width="30" height="48" fill-opacity="0.32"/><rect x="532" y="67" width="30" height="14" fill-opacity="0.15"/><rect x="522" y="67" width="10" height="63" fill-opacity="0.22"/><rect x="570" y="67" width="10" height="63" fill-opacity="0.12"/><rect x="606" y="67" width="30" height="63" fill-opacity="0.08"/><rect x="570" y="67" width="36" height="15" fill-opacity="0.1"/><rect x="636" y="206" width="48" height="28" fill-opacity="0.3"/><rect x="636" y="148" width="48" height="12" fill-opacity="0.15"/><rect x="684" y="130" width="14" height="115" fill-opacity="0.22"/><rect x="433" y="51" width="12" height="194" fill-opacity="0.09"/><rect x="433" y="189" width="79" height="16" fill-opacity="0.22"/><rect x="433" y="234" width="79" height="10" fill-opacity="0.3"/><rect x="522" y="255" width="11" height="79" fill-opacity="0.35"/><rect x="560" y="255" width="18" height="79" fill-opacity="0.3"/><rect x="522" y="329" width="114" height="5" fill-opacity="0.22"/><rect x="433" y="51" width="79" height="16" fill-opacity="0.07"/><rect x="445" y="245" width="67" height="10" fill-opacity="0.05"/><rect x="698" y="255" width="16" height="79" fill-opacity="0.08"/><rect x="600" y="255" width="8" height="79" fill-opacity="0.06"/></g>
<pattern id="gridB" width="7.4" height="7.4" patternUnits="userSpaceOnUse" x="433" y="51"><rect width="7.4" height="7.4" fill="#6a74c4" fill-opacity="0.2"/><rect x="1.2" y="1.2" width="5" height="5" fill="#2a46a6" fill-opacity="0.35"/></pattern>
<rect x="433" y="255" width="79" height="79" fill="url(#gridB)"/>
<rect x="532" y="130" width="104" height="115" fill="url(#gridB)"/>
<rect x="636" y="67" width="62" height="63" fill="url(#gridB)"/>
<path d="M436 51V334M440 51V334M452 51V334M470 51V334M490 51V334M505 51V334M515 51V334M525 51V334M540 51V334M548 51V334M555 51V334M575 51V334M590 51V334M605 51V334M620 51V334M640 51V334M655 51V334M668 51V334M680 51V334M690 51V334M702 51V334M708 51V334M433 55H714M433 62H714M433 75H714M433 90H714M433 100H714M433 112H714M433 120H714M433 138H714M433 150H714M433 165H714M433 178H714M433 195H714M433 215H714M433 225H714M433 238H714M433 250H714M433 262H714M433 280H714M433 300H714M433 315H714M433 328H714" stroke="#4354b4" stroke-opacity="0.07" stroke-width="0.8" fill="none"/>
<path d="M438.5 29V13.05H594.7V16.3M525.8 16.3H663V25.2M525.8 16.3V23.9M517.2 23.9H534.9V29M517.2 23.9V29M635.9 25.2H700V29M635.9 25.2V29M522 27H528V29M545 26.5H560V29M655 27H676V29M690 27.5H708V29" stroke="#000" stroke-width="1.1" fill="none"/>
<rect x="432.8" y="28.5" width="281.1" height="5.5" fill="#000"/>
<path d="M445 32.2H500M560 32.3H620M650 32.4H700" stroke="#fff" stroke-width="0.8" stroke-opacity="0.6"/>
<g fill="#000"><rect x="433" y="26.8" width="22" height="2.2"/><rect x="470" y="27.2" width="30" height="1.8"/><rect x="517" y="26.5" width="20" height="2.5"/><rect x="545" y="27" width="40" height="2"/><rect x="600" y="27.5" width="30" height="1.5"/><rect x="636" y="26.5" width="20" height="2.5"/><rect x="660" y="26" width="30" height="3"/><rect x="690" y="27" width="20" height="2"/></g>
<rect x="728.7" y="63.4" width="8.8" height="8.1" fill="#0a4c96" stroke="#111" stroke-width="0.7"/>
<text x="741" y="70.3" font-size="7.6" text-anchor="start" fill="#1a1a1a" stroke="#1a1a1a" stroke-width="0.08" >C1</text>
<rect x="728.7" y="78.5" width="8.8" height="8.1" fill="#e41a1c" stroke="#111" stroke-width="0.7"/>
<text x="741" y="85.4" font-size="7.6" text-anchor="start" fill="#1a1a1a" stroke="#1a1a1a" stroke-width="0.08" >C2</text>
<rect x="728.7" y="93.6" width="8.8" height="8.1" fill="#3cb043" stroke="#111" stroke-width="0.7"/>
<text x="741" y="100.5" font-size="7.6" text-anchor="start" fill="#1a1a1a" stroke="#1a1a1a" stroke-width="0.08" >C3</text>
<g transform="translate(44.0 449.65) scale(1.55128 6.14625)"><path fill="#161880" d="M62 0h1v1h-1zM7 1h1v1h-1zM63 1h1v1h-1zM66 1h2v1h-2zM70 1h1v1h-1zM74 1h1v1h-1zM7 2h1v1h-1zM51 3h1v1h-1zM56 3h1v1h-1zM63 3h1v1h-1zM66 3h1v1h-1zM45 4h2v1h-2zM63 4h1v1h-1zM63 5h1v1h-1zM70 5h1v1h-1zM32 6h1v1h-1zM66 6h2v1h-2zM74 6h1v1h-1zM7 7h1v1h-1zM45 7h1v1h-1zM63 7h1v1h-1zM15 8h1v1h-1zM63 8h2v1h-2zM70 8h1v1h-1zM63 9h1v1h-1zM76 9h1v1h-1zM17 10h1v1h-1zM41 10h1v1h-1zM56 10h1v1h-1zM61 10h1v1h-1zM63 10h1v1h-1zM70 10h1v1h-1zM74 10h1v1h-1zM41 11h1v1h-1zM56 11h1v1h-1zM63 11h2v1h-2zM74 11h1v1h-1zM32 12h1v1h-1zM45 12h2v1h-2zM63 12h2v1h-2zM74 12h1v1h-1zM76 12h1v1h-1zM12 13h1v1h-1zM11 14h1v1h-1zM21 14h1v1h-1zM46 14h1v1h-1zM63 14h1v1h-1zM21 15h1v1h-1zM50 15h1v1h-1zM63 15h1v1h-1zM66 15h1v1h-1zM8 16h1v1h-1zM39 16h1v1h-1zM45 16h2v1h-2zM50 16h1v1h-1zM61 16h1v1h-1zM63 16h1v1h-1zM66 16h1v1h-1zM74 16h1v1h-1zM76 16h1v1h-1zM3 17h2v1h-2zM7 17h1v1h-1zM12 17h1v1h-1zM15 17h1v1h-1zM41 17h1v1h-1zM44 17h1v1h-1zM58 17h1v1h-1zM66 17h2v1h-2zM70 17h1v1h-1zM74 17h1v1h-1zM6 18h1v1h-1zM39 18h1v1h-1zM45 18h1v1h-1zM50 18h1v1h-1zM63 18h1v1h-1zM66 18h1v1h-1zM71 18h1v1h-1zM9 19h1v1h-1zM27 19h1v1h-1zM32 19h1v1h-1zM38 19h1v1h-1zM41 19h1v1h-1zM45 19h2v1h-2zM53 19h2v1h-2zM56 19h1v1h-1zM63 19h2v1h-2zM66 19h2v1h-2zM72 19h1v1h-1zM74 19h1v1h-1zM76 19h1v1h-1zM46 20h1v1h-1zM63 20h1v1h-1zM14 21h1v1h-1zM25 21h1v1h-1zM63 21h1v1h-1zM63 22h1v1h-1zM3 23h1v1h-1zM7 23h1v1h-1zM63 23h1v1h-1zM70 23h1v1h-1zM63 25h1v1h-1zM64 26h1v1h-1zM66 26h2v1h-2zM2 27h1v1h-1zM9 27h1v1h-1zM32 27h1v1h-1zM53 27h1v1h-1zM63 27h1v1h-1zM66 27h1v1h-1zM63 28h1v1h-1zM66 28h1v1h-1zM46 29h1v1h-1zM53 29h2v1h-2zM63 29h1v1h-1zM70 29h1v1h-1zM32 30h1v1h-1zM43 30h1v1h-1zM62 30h2v1h-2zM2 31h1v1h-1zM6 31h1v1h-1zM24 31h1v1h-1zM39 31h1v1h-1zM43 31h1v1h-1zM46 31h1v1h-1zM63 31h1v1h-1zM11 32h1v1h-1zM46 32h1v1h-1zM54 32h1v1h-1zM8 33h1v1h-1zM40 33h1v1h-1zM66 33h1v1h-1zM2 34h1v1h-1zM41 34h1v1h-1zM62 34h2v1h-2zM24 35h1v1h-1zM46 35h2v1h-2zM62 35h2v1h-2zM76 35h1v1h-1zM45 36h1v1h-1zM63 36h1v1h-1zM43 37h1v1h-1zM64 37h1v1h-1zM2 38h1v1h-1zM47 38h1v1h-1zM56 38h1v1h-1zM63 38h1v1h-1zM70 38h1v1h-1zM24 39h1v1h-1zM63 39h1v1h-1zM66 39h1v1h-1z"/><path fill="#333590" d="M7 0h1v1h-1zM45 0h2v1h-2zM2 1h1v1h-1zM9 1h1v1h-1zM24 1h1v1h-1zM34 1h1v1h-1zM47 1h1v1h-1zM64 1h1v1h-1zM62 2h1v1h-1zM67 2h1v1h-1zM34 3h1v1h-1zM45 3h1v1h-1zM47 3h1v1h-1zM55 3h1v1h-1zM64 3h1v1h-1zM32 4h1v1h-1zM39 4h1v1h-1zM47 4h1v1h-1zM51 4h1v1h-1zM67 4h1v1h-1zM71 4h1v1h-1zM21 5h1v1h-1zM32 5h1v1h-1zM53 5h1v1h-1zM74 5h1v1h-1zM3 6h1v1h-1zM15 6h1v1h-1zM23 6h1v1h-1zM53 6h1v1h-1zM62 6h1v1h-1zM39 7h1v1h-1zM74 7h1v1h-1zM14 8h1v1h-1zM45 8h1v1h-1zM66 8h1v1h-1zM34 9h1v1h-1zM8 10h1v1h-1zM15 10h1v1h-1zM24 10h1v1h-1zM27 10h1v1h-1zM39 10h1v1h-1zM57 10h1v1h-1zM15 11h1v1h-1zM76 11h1v1h-1zM8 12h1v1h-1zM34 12h1v1h-1zM53 12h1v1h-1zM7 13h1v1h-1zM10 13h1v1h-1zM51 13h1v1h-1zM63 13h1v1h-1zM72 13h1v1h-1zM3 14h1v1h-1zM53 14h2v1h-2zM71 14h1v1h-1zM8 15h1v1h-1zM46 15h1v1h-1zM53 15h1v1h-1zM56 15h1v1h-1zM21 16h1v1h-1zM27 16h1v1h-1zM32 16h1v1h-1zM47 16h1v1h-1zM51 16h1v1h-1zM8 17h1v1h-1zM25 17h1v1h-1zM27 17h1v1h-1zM40 17h1v1h-1zM43 17h1v1h-1zM45 17h2v1h-2zM51 17h1v1h-1zM63 17h2v1h-2zM76 17h1v1h-1zM11 18h1v1h-1zM41 18h1v1h-1zM51 18h1v1h-1zM74 18h1v1h-1zM0 19h1v1h-1zM8 19h1v1h-1zM13 19h1v1h-1zM24 19h1v1h-1zM40 19h1v1h-1zM47 19h1v1h-1zM51 19h1v1h-1zM59 19h1v1h-1zM8 20h1v1h-1zM25 20h1v1h-1zM51 20h1v1h-1zM67 20h1v1h-1zM12 21h1v1h-1zM23 21h1v1h-1zM32 21h1v1h-1zM11 24h1v1h-1zM64 24h2v1h-2zM2 25h1v1h-1zM17 25h1v1h-1zM21 25h1v1h-1zM64 25h1v1h-1zM71 25h1v1h-1zM2 26h1v1h-1zM25 26h1v1h-1zM74 26h1v1h-1zM76 26h1v1h-1zM12 27h1v1h-1zM23 27h1v1h-1zM38 27h1v1h-1zM59 27h1v1h-1zM64 27h2v1h-2zM2 28h1v1h-1zM47 28h1v1h-1zM56 28h1v1h-1zM76 28h1v1h-1zM14 29h1v1h-1zM21 29h1v1h-1zM34 29h1v1h-1zM56 29h1v1h-1zM47 30h1v1h-1zM27 31h1v1h-1zM34 31h1v1h-1zM37 31h1v1h-1zM41 31h1v1h-1zM45 31h1v1h-1zM51 31h1v1h-1zM54 31h1v1h-1zM66 31h1v1h-1zM70 32h1v1h-1zM74 32h1v1h-1zM33 33h1v1h-1zM46 33h1v1h-1zM51 33h1v1h-1zM53 33h1v1h-1zM63 33h1v1h-1zM45 34h1v1h-1zM15 35h1v1h-1zM16 36h1v1h-1zM2 37h1v1h-1zM11 37h1v1h-1zM45 37h1v1h-1zM63 37h1v1h-1zM7 39h1v1h-1zM12 39h1v1h-1zM21 39h1v1h-1zM23 39h1v1h-1zM71 39h1v1h-1z"/><path fill="#5052a0" d="M10 0h1v1h-1zM43 0h1v1h-1zM55 0h1v1h-1zM74 0h1v1h-1zM31 1h2v1h-2zM40 1h1v1h-1zM51 1h1v1h-1zM54 1h1v1h-1zM61 1h2v1h-2zM76 1h1v1h-1zM63 2h1v1h-1zM9 3h1v1h-1zM46 3h1v1h-1zM53 3h1v1h-1zM67 3h1v1h-1zM7 4h1v1h-1zM25 4h1v1h-1zM54 4h1v1h-1zM56 4h1v1h-1zM15 5h1v1h-1zM46 5h1v1h-1zM76 5h1v1h-1zM7 6h1v1h-1zM11 6h1v1h-1zM16 6h1v1h-1zM34 6h1v1h-1zM45 6h1v1h-1zM51 6h1v1h-1zM56 6h1v1h-1zM59 6h1v1h-1zM61 6h1v1h-1zM68 6h2v1h-2zM24 7h1v1h-1zM34 7h1v1h-1zM51 7h1v1h-1zM62 7h1v1h-1zM66 7h1v1h-1zM4 8h1v1h-1zM17 8h1v1h-1zM20 8h1v1h-1zM40 8h1v1h-1zM67 8h1v1h-1zM72 8h3v1h-3zM24 9h1v1h-1zM35 9h1v1h-1zM40 9h2v1h-2zM49 9h1v1h-1zM74 9h1v1h-1zM10 10h1v1h-1zM43 10h2v1h-2zM47 10h1v1h-1zM51 10h2v1h-2zM62 10h1v1h-1zM64 10h1v1h-1zM71 10h1v1h-1zM12 11h1v1h-1zM45 11h1v1h-1zM47 11h1v1h-1zM61 11h1v1h-1zM2 12h1v1h-1zM9 12h1v1h-1zM15 12h1v1h-1zM20 12h1v1h-1zM41 12h1v1h-1zM72 12h1v1h-1zM2 13h1v1h-1zM9 13h1v1h-1zM16 13h1v1h-1zM64 13h1v1h-1zM70 13h1v1h-1zM19 14h1v1h-1zM60 14h1v1h-1zM76 14h1v1h-1zM15 15h1v1h-1zM38 15h2v1h-2zM44 15h1v1h-1zM67 15h1v1h-1zM77 15h1v1h-1zM7 16h1v1h-1zM15 16h1v1h-1zM17 16h1v1h-1zM19 16h1v1h-1zM37 16h1v1h-1zM41 16h1v1h-1zM64 16h1v1h-1zM67 16h2v1h-2zM70 16h1v1h-1zM13 17h1v1h-1zM32 17h1v1h-1zM39 17h1v1h-1zM49 17h1v1h-1zM54 17h1v1h-1zM56 17h1v1h-1zM62 17h1v1h-1zM3 18h1v1h-1zM7 18h1v1h-1zM15 18h1v1h-1zM21 18h1v1h-1zM25 18h1v1h-1zM27 18h2v1h-2zM38 18h1v1h-1zM40 18h1v1h-1zM43 18h1v1h-1zM59 18h1v1h-1zM62 18h1v1h-1zM64 18h1v1h-1zM67 18h1v1h-1zM72 18h1v1h-1zM3 19h1v1h-1zM17 19h1v1h-1zM20 19h1v1h-1zM22 19h1v1h-1zM73 19h1v1h-1zM3 20h1v1h-1zM23 20h1v1h-1zM33 20h1v1h-1zM53 20h1v1h-1zM66 20h1v1h-1zM15 21h1v1h-1zM45 21h2v1h-2zM59 21h1v1h-1zM76 21h1v1h-1zM39 22h1v1h-1zM41 22h1v1h-1zM46 22h1v1h-1zM54 22h1v1h-1zM73 22h1v1h-1zM6 23h1v1h-1zM36 23h1v1h-1zM53 23h1v1h-1zM56 23h1v1h-1zM43 24h1v1h-1zM63 24h1v1h-1zM66 24h1v1h-1zM44 25h1v1h-1zM47 25h1v1h-1zM70 25h1v1h-1zM76 25h1v1h-1zM3 26h1v1h-1zM12 26h1v1h-1zM15 26h1v1h-1zM17 26h1v1h-1zM21 26h1v1h-1zM47 26h1v1h-1zM49 26h1v1h-1zM54 26h1v1h-1zM7 27h1v1h-1zM13 27h1v1h-1zM24 27h1v1h-1zM26 27h1v1h-1zM40 27h1v1h-1zM45 27h1v1h-1zM51 27h1v1h-1zM56 27h1v1h-1zM13 28h1v1h-1zM21 28h1v1h-1zM45 28h1v1h-1zM62 28h1v1h-1zM70 28h1v1h-1zM27 29h1v1h-1zM35 29h1v1h-1zM45 29h1v1h-1zM47 29h1v1h-1zM49 29h1v1h-1zM68 29h1v1h-1zM74 29h1v1h-1zM1 30h1v1h-1zM3 30h1v1h-1zM45 30h1v1h-1zM72 30h1v1h-1zM17 31h1v1h-1zM32 31h1v1h-1zM56 31h1v1h-1zM61 31h2v1h-2zM70 31h1v1h-1zM2 32h2v1h-2zM7 32h1v1h-1zM51 32h1v1h-1zM63 32h1v1h-1zM66 32h1v1h-1zM71 32h1v1h-1zM2 33h1v1h-1zM7 33h1v1h-1zM22 33h1v1h-1zM24 33h1v1h-1zM27 33h1v1h-1zM29 33h1v1h-1zM37 33h1v1h-1zM54 33h1v1h-1zM61 33h1v1h-1zM64 33h1v1h-1zM74 33h1v1h-1zM3 34h1v1h-1zM12 34h1v1h-1zM21 34h1v1h-1zM24 34h1v1h-1zM51 34h1v1h-1zM66 34h1v1h-1zM7 35h1v1h-1zM10 35h1v1h-1zM13 35h1v1h-1zM32 35h1v1h-1zM38 35h1v1h-1zM41 35h1v1h-1zM43 35h1v1h-1zM51 35h1v1h-1zM53 35h2v1h-2zM60 35h1v1h-1zM64 35h3v1h-3zM70 35h1v1h-1zM7 36h1v1h-1zM14 36h1v1h-1zM41 36h1v1h-1zM59 36h1v1h-1zM67 36h2v1h-2zM32 37h1v1h-1zM53 37h1v1h-1zM56 37h2v1h-2zM67 37h1v1h-1zM70 37h2v1h-2zM3 38h1v1h-1zM23 38h1v1h-1zM41 38h1v1h-1zM66 38h2v1h-2zM71 38h1v1h-1zM14 39h1v1h-1zM43 39h1v1h-1zM45 39h1v1h-1zM60 39h1v1h-1zM76 39h1v1h-1z"/><path fill="#6d6fb0" d="M9 0h1v1h-1zM15 0h1v1h-1zM33 0h1v1h-1zM54 0h1v1h-1zM59 0h1v1h-1zM76 0h1v1h-1zM46 1h1v1h-1zM53 1h1v1h-1zM77 1h1v1h-1zM11 3h1v1h-1zM13 3h1v1h-1zM37 3h1v1h-1zM61 3h1v1h-1zM71 3h1v1h-1zM77 3h1v1h-1zM36 4h1v1h-1zM64 4h1v1h-1zM74 4h1v1h-1zM4 5h1v1h-1zM8 5h1v1h-1zM27 5h1v1h-1zM41 5h1v1h-1zM56 5h1v1h-1zM68 5h1v1h-1zM14 6h1v1h-1zM36 6h1v1h-1zM44 6h1v1h-1zM54 6h2v1h-2zM58 6h1v1h-1zM63 6h2v1h-2zM71 6h1v1h-1zM13 7h1v1h-1zM16 7h1v1h-1zM32 7h1v1h-1zM65 7h1v1h-1zM2 8h1v1h-1zM7 8h1v1h-1zM13 8h1v1h-1zM36 8h1v1h-1zM39 8h1v1h-1zM68 8h1v1h-1zM71 8h1v1h-1zM3 9h1v1h-1zM16 9h1v1h-1zM32 9h1v1h-1zM39 9h1v1h-1zM46 9h1v1h-1zM59 9h1v1h-1zM7 10h1v1h-1zM11 10h2v1h-2zM34 10h1v1h-1zM36 10h1v1h-1zM46 10h1v1h-1zM48 10h1v1h-1zM66 10h1v1h-1zM76 10h1v1h-1zM3 11h1v1h-1zM13 11h1v1h-1zM36 11h1v1h-1zM46 11h1v1h-1zM66 11h1v1h-1zM68 11h1v1h-1zM70 11h1v1h-1zM77 11h1v1h-1zM3 12h1v1h-1zM7 12h1v1h-1zM12 12h2v1h-2zM16 12h1v1h-1zM40 12h1v1h-1zM43 12h1v1h-1zM47 12h1v1h-1zM51 12h1v1h-1zM57 12h1v1h-1zM23 13h1v1h-1zM34 13h2v1h-2zM44 13h2v1h-2zM54 13h1v1h-1zM66 13h2v1h-2zM76 13h1v1h-1zM8 14h1v1h-1zM13 14h1v1h-1zM15 14h2v1h-2zM34 14h1v1h-1zM43 14h2v1h-2zM56 14h1v1h-1zM67 14h1v1h-1zM16 15h1v1h-1zM19 15h1v1h-1zM33 15h1v1h-1zM36 15h1v1h-1zM43 15h1v1h-1zM64 15h1v1h-1zM71 15h1v1h-1zM73 15h2v1h-2zM13 16h1v1h-1zM16 16h1v1h-1zM22 16h1v1h-1zM25 16h1v1h-1zM28 16h1v1h-1zM34 16h1v1h-1zM36 16h1v1h-1zM43 16h1v1h-1zM59 16h1v1h-1zM10 17h1v1h-1zM21 17h1v1h-1zM23 17h1v1h-1zM30 17h2v1h-2zM34 17h1v1h-1zM37 17h1v1h-1zM53 17h1v1h-1zM2 18h1v1h-1zM8 18h1v1h-1zM32 18h2v1h-2zM37 18h1v1h-1zM55 18h2v1h-2zM33 19h2v1h-2zM39 19h1v1h-1zM44 19h1v1h-1zM65 19h1v1h-1zM7 20h1v1h-1zM13 20h1v1h-1zM27 20h1v1h-1zM68 20h1v1h-1zM71 20h1v1h-1zM2 21h1v1h-1zM22 21h1v1h-1zM34 21h1v1h-1zM39 21h2v1h-2zM43 21h1v1h-1zM51 21h1v1h-1zM74 21h1v1h-1zM9 22h1v1h-1zM21 22h1v1h-1zM32 22h1v1h-1zM45 22h1v1h-1zM70 22h1v1h-1zM72 22h1v1h-1zM15 23h1v1h-1zM21 23h1v1h-1zM48 23h1v1h-1zM50 23h1v1h-1zM15 24h1v1h-1zM37 24h1v1h-1zM45 24h3v1h-3zM55 24h1v1h-1zM76 24h1v1h-1zM14 25h1v1h-1zM32 25h1v1h-1zM34 25h1v1h-1zM36 25h1v1h-1zM40 25h1v1h-1zM43 25h1v1h-1zM68 25h1v1h-1zM7 26h2v1h-2zM23 26h1v1h-1zM29 26h1v1h-1zM31 26h1v1h-1zM45 26h1v1h-1zM53 26h1v1h-1zM57 26h1v1h-1zM62 26h2v1h-2zM70 26h3v1h-3zM14 27h1v1h-1zM21 27h1v1h-1zM44 27h1v1h-1zM46 27h1v1h-1zM49 27h2v1h-2zM60 27h1v1h-1zM77 27h1v1h-1zM43 28h1v1h-1zM51 28h1v1h-1zM61 28h1v1h-1zM71 28h1v1h-1zM3 29h1v1h-1zM11 29h1v1h-1zM19 29h1v1h-1zM32 29h1v1h-1zM65 29h3v1h-3zM73 29h1v1h-1zM7 30h1v1h-1zM21 30h1v1h-1zM37 30h1v1h-1zM44 30h1v1h-1zM46 30h1v1h-1zM51 30h1v1h-1zM53 30h1v1h-1zM60 30h1v1h-1zM71 30h1v1h-1zM9 31h1v1h-1zM16 31h1v1h-1zM19 31h2v1h-2zM25 31h1v1h-1zM33 31h1v1h-1zM53 31h1v1h-1zM74 31h1v1h-1zM76 31h1v1h-1zM25 32h1v1h-1zM43 32h1v1h-1zM45 32h1v1h-1zM59 32h1v1h-1zM61 32h1v1h-1zM9 33h1v1h-1zM13 33h1v1h-1zM48 33h1v1h-1zM70 33h1v1h-1zM8 34h1v1h-1zM13 34h2v1h-2zM27 34h1v1h-1zM32 34h1v1h-1zM44 34h1v1h-1zM46 34h1v1h-1zM53 34h1v1h-1zM56 34h1v1h-1zM60 34h2v1h-2zM67 34h1v1h-1zM3 35h1v1h-1zM16 35h1v1h-1zM27 35h1v1h-1zM56 35h1v1h-1zM68 35h1v1h-1zM71 35h1v1h-1zM74 35h1v1h-1zM34 36h1v1h-1zM36 36h1v1h-1zM49 36h1v1h-1zM53 36h2v1h-2zM70 36h1v1h-1zM13 37h1v1h-1zM21 37h1v1h-1zM62 37h1v1h-1zM65 37h1v1h-1zM72 37h1v1h-1zM74 37h1v1h-1zM76 37h1v1h-1zM15 38h1v1h-1zM37 38h1v1h-1zM54 38h1v1h-1zM64 38h1v1h-1zM2 39h1v1h-1zM8 39h1v1h-1zM15 39h1v1h-1zM17 39h1v1h-1zM26 39h1v1h-1zM28 39h1v1h-1zM53 39h1v1h-1zM61 39h2v1h-2z"/><path fill="#8a8cc0" d="M23 0h1v1h-1zM38 0h1v1h-1zM53 0h1v1h-1zM63 0h1v1h-1zM66 0h1v1h-1zM27 1h1v1h-1zM39 1h1v1h-1zM45 1h1v1h-1zM50 1h1v1h-1zM73 1h1v1h-1zM19 2h1v1h-1zM24 2h1v1h-1zM40 2h1v1h-1zM51 2h1v1h-1zM56 2h1v1h-1zM64 2h1v1h-1zM7 3h1v1h-1zM16 3h1v1h-1zM21 3h1v1h-1zM23 3h2v1h-2zM44 3h1v1h-1zM54 3h1v1h-1zM62 3h1v1h-1zM76 3h1v1h-1zM27 4h1v1h-1zM60 4h2v1h-2zM66 4h1v1h-1zM40 5h1v1h-1zM62 5h1v1h-1zM64 5h1v1h-1zM66 5h1v1h-1zM4 6h1v1h-1zM9 6h1v1h-1zM21 6h1v1h-1zM40 6h1v1h-1zM46 6h2v1h-2zM65 6h1v1h-1zM70 6h1v1h-1zM4 7h1v1h-1zM9 7h1v1h-1zM43 7h1v1h-1zM50 7h1v1h-1zM9 8h2v1h-2zM21 8h1v1h-1zM27 8h1v1h-1zM38 8h1v1h-1zM56 8h1v1h-1zM7 9h1v1h-1zM11 9h1v1h-1zM21 9h1v1h-1zM27 9h1v1h-1zM65 9h2v1h-2zM0 10h1v1h-1zM2 10h1v1h-1zM13 10h1v1h-1zM19 10h1v1h-1zM59 10h1v1h-1zM4 11h1v1h-1zM25 11h1v1h-1zM43 11h1v1h-1zM51 11h1v1h-1zM53 11h1v1h-1zM36 12h2v1h-2zM39 12h1v1h-1zM44 12h1v1h-1zM48 12h1v1h-1zM61 12h1v1h-1zM66 12h1v1h-1zM70 12h1v1h-1zM11 13h1v1h-1zM53 13h1v1h-1zM59 13h1v1h-1zM68 13h1v1h-1zM2 14h1v1h-1zM38 14h1v1h-1zM40 14h1v1h-1zM45 14h1v1h-1zM47 14h1v1h-1zM61 14h1v1h-1zM68 14h1v1h-1zM73 14h2v1h-2zM77 14h1v1h-1zM3 15h1v1h-1zM14 15h1v1h-1zM25 15h1v1h-1zM27 15h1v1h-1zM41 15h1v1h-1zM45 15h1v1h-1zM51 15h1v1h-1zM70 15h1v1h-1zM72 15h1v1h-1zM76 15h1v1h-1zM0 16h2v1h-2zM3 16h1v1h-1zM9 16h1v1h-1zM12 16h1v1h-1zM24 16h1v1h-1zM44 16h1v1h-1zM48 16h2v1h-2zM55 16h2v1h-2zM69 16h1v1h-1zM77 16h1v1h-1zM5 17h1v1h-1zM16 17h1v1h-1zM47 17h1v1h-1zM55 17h1v1h-1zM75 17h1v1h-1zM0 18h1v1h-1zM12 18h1v1h-1zM16 18h2v1h-2zM34 18h1v1h-1zM36 18h1v1h-1zM46 18h2v1h-2zM2 19h1v1h-1zM12 19h1v1h-1zM16 19h1v1h-1zM21 19h1v1h-1zM62 19h1v1h-1zM69 19h2v1h-2zM45 20h1v1h-1zM48 20h1v1h-1zM56 20h1v1h-1zM64 20h1v1h-1zM8 21h1v1h-1zM41 21h1v1h-1zM54 21h1v1h-1zM62 21h1v1h-1zM64 21h1v1h-1zM66 21h1v1h-1zM4 22h1v1h-1zM8 22h1v1h-1zM27 22h1v1h-1zM30 22h1v1h-1zM34 22h1v1h-1zM51 22h1v1h-1zM56 22h1v1h-1zM59 22h1v1h-1zM67 22h1v1h-1zM71 22h1v1h-1zM8 23h1v1h-1zM34 23h1v1h-1zM45 23h1v1h-1zM55 23h1v1h-1zM8 24h1v1h-1zM16 24h1v1h-1zM32 24h1v1h-1zM39 24h1v1h-1zM56 24h2v1h-2zM62 24h1v1h-1zM67 24h1v1h-1zM70 24h1v1h-1zM8 25h1v1h-1zM12 25h1v1h-1zM41 25h1v1h-1zM46 25h1v1h-1zM48 25h1v1h-1zM53 25h1v1h-1zM65 25h1v1h-1zM27 26h1v1h-1zM36 26h1v1h-1zM40 26h3v1h-3zM44 26h1v1h-1zM51 26h1v1h-1zM55 26h1v1h-1zM58 26h2v1h-2zM3 27h2v1h-2zM8 27h1v1h-1zM10 27h2v1h-2zM30 27h1v1h-1zM35 27h1v1h-1zM39 27h1v1h-1zM41 27h1v1h-1zM70 27h1v1h-1zM3 28h1v1h-1zM7 28h1v1h-1zM12 28h1v1h-1zM15 28h2v1h-2zM27 28h1v1h-1zM37 28h1v1h-1zM67 28h1v1h-1zM0 29h1v1h-1zM4 29h1v1h-1zM7 29h1v1h-1zM9 29h1v1h-1zM33 29h1v1h-1zM39 29h1v1h-1zM44 29h1v1h-1zM55 29h1v1h-1zM62 29h1v1h-1zM64 29h1v1h-1zM77 29h1v1h-1zM10 30h1v1h-1zM14 30h1v1h-1zM16 30h1v1h-1zM22 30h2v1h-2zM40 30h1v1h-1zM67 30h1v1h-1zM69 30h1v1h-1zM74 30h1v1h-1zM0 31h1v1h-1zM3 31h1v1h-1zM10 31h1v1h-1zM15 31h1v1h-1zM44 31h1v1h-1zM55 31h1v1h-1zM60 31h1v1h-1zM15 32h1v1h-1zM24 32h1v1h-1zM32 32h1v1h-1zM44 32h1v1h-1zM53 32h1v1h-1zM56 32h1v1h-1zM62 32h1v1h-1zM1 33h1v1h-1zM11 33h1v1h-1zM14 33h1v1h-1zM34 33h1v1h-1zM43 33h1v1h-1zM47 33h1v1h-1zM57 33h1v1h-1zM59 33h1v1h-1zM65 33h1v1h-1zM31 34h1v1h-1zM37 34h1v1h-1zM43 34h1v1h-1zM76 34h1v1h-1zM2 35h1v1h-1zM8 35h1v1h-1zM11 35h1v1h-1zM21 35h1v1h-1zM28 35h1v1h-1zM34 35h1v1h-1zM37 35h1v1h-1zM39 35h1v1h-1zM45 35h1v1h-1zM58 35h1v1h-1zM67 35h1v1h-1zM27 36h1v1h-1zM35 36h1v1h-1zM48 36h1v1h-1zM55 36h1v1h-1zM57 36h1v1h-1zM62 36h1v1h-1zM64 36h1v1h-1zM9 37h1v1h-1zM28 37h1v1h-1zM47 37h1v1h-1zM66 37h1v1h-1zM73 37h1v1h-1zM6 38h1v1h-1zM8 38h1v1h-1zM12 38h1v1h-1zM17 38h1v1h-1zM25 38h1v1h-1zM27 38h1v1h-1zM34 38h1v1h-1zM45 38h2v1h-2zM55 38h1v1h-1zM62 38h1v1h-1zM5 39h1v1h-1zM20 39h1v1h-1zM34 39h1v1h-1zM47 39h1v1h-1zM51 39h1v1h-1zM54 39h1v1h-1zM56 39h2v1h-2z"/><path fill="#a8a8cf" d="M39 0h1v1h-1zM51 0h1v1h-1zM6 1h1v1h-1zM8 1h1v1h-1zM21 1h1v1h-1zM23 1h1v1h-1zM28 1h1v1h-1zM43 1h1v1h-1zM71 1h1v1h-1zM4 2h1v1h-1zM12 2h1v1h-1zM15 2h2v1h-2zM27 2h1v1h-1zM39 2h1v1h-1zM45 2h1v1h-1zM66 2h1v1h-1zM70 2h1v1h-1zM5 3h1v1h-1zM8 3h1v1h-1zM10 3h1v1h-1zM12 3h1v1h-1zM19 3h1v1h-1zM27 3h1v1h-1zM29 3h1v1h-1zM33 3h1v1h-1zM36 3h1v1h-1zM41 3h1v1h-1zM57 3h1v1h-1zM59 3h1v1h-1zM68 3h1v1h-1zM73 3h1v1h-1zM19 4h1v1h-1zM22 4h1v1h-1zM37 4h1v1h-1zM41 4h1v1h-1zM44 4h1v1h-1zM53 4h1v1h-1zM2 5h1v1h-1zM22 5h1v1h-1zM54 5h1v1h-1zM58 5h1v1h-1zM71 5h1v1h-1zM24 6h1v1h-1zM30 6h1v1h-1zM35 6h1v1h-1zM37 6h1v1h-1zM49 6h2v1h-2zM60 6h1v1h-1zM76 6h1v1h-1zM2 7h1v1h-1zM12 7h1v1h-1zM15 7h1v1h-1zM33 7h1v1h-1zM41 7h1v1h-1zM67 7h1v1h-1zM71 7h1v1h-1zM12 8h1v1h-1zM37 8h1v1h-1zM60 8h1v1h-1zM2 9h1v1h-1zM8 9h1v1h-1zM15 9h1v1h-1zM44 9h2v1h-2zM47 9h1v1h-1zM70 9h1v1h-1zM6 10h1v1h-1zM14 10h1v1h-1zM16 10h1v1h-1zM20 10h2v1h-2zM29 10h2v1h-2zM35 10h1v1h-1zM53 10h2v1h-2zM73 10h1v1h-1zM8 11h1v1h-1zM11 11h1v1h-1zM23 11h1v1h-1zM40 11h1v1h-1zM55 11h1v1h-1zM62 11h1v1h-1zM69 11h1v1h-1zM24 12h1v1h-1zM33 12h1v1h-1zM50 12h1v1h-1zM58 12h1v1h-1zM67 12h2v1h-2zM3 13h1v1h-1zM17 13h1v1h-1zM38 13h1v1h-1zM41 13h1v1h-1zM56 13h2v1h-2zM4 14h1v1h-1zM17 14h1v1h-1zM20 14h1v1h-1zM32 14h1v1h-1zM39 14h1v1h-1zM41 14h1v1h-1zM50 14h1v1h-1zM64 14h3v1h-3zM9 15h1v1h-1zM11 15h1v1h-1zM26 15h1v1h-1zM40 15h1v1h-1zM42 15h1v1h-1zM47 15h1v1h-1zM54 15h1v1h-1zM57 15h1v1h-1zM2 16h1v1h-1zM11 16h1v1h-1zM14 16h1v1h-1zM18 16h1v1h-1zM38 16h1v1h-1zM54 16h1v1h-1zM60 16h1v1h-1zM62 16h1v1h-1zM65 16h1v1h-1zM73 16h1v1h-1zM19 17h1v1h-1zM28 17h1v1h-1zM33 17h1v1h-1zM35 17h2v1h-2zM57 17h1v1h-1zM61 17h1v1h-1zM65 17h1v1h-1zM68 17h1v1h-1zM19 18h1v1h-1zM22 18h1v1h-1zM24 18h1v1h-1zM35 18h1v1h-1zM44 18h1v1h-1zM57 18h1v1h-1zM61 18h1v1h-1zM65 18h1v1h-1zM68 18h3v1h-3zM76 18h2v1h-2zM7 19h1v1h-1zM19 19h1v1h-1zM29 19h1v1h-1zM50 19h1v1h-1zM61 19h1v1h-1zM17 20h1v1h-1zM21 20h1v1h-1zM59 20h1v1h-1zM62 20h1v1h-1zM65 20h1v1h-1zM27 21h1v1h-1zM38 21h1v1h-1zM53 21h1v1h-1zM71 21h1v1h-1zM3 22h1v1h-1zM20 22h1v1h-1zM22 22h1v1h-1zM37 22h1v1h-1zM60 22h1v1h-1zM64 22h1v1h-1zM66 22h1v1h-1zM74 22h1v1h-1zM12 23h1v1h-1zM24 23h2v1h-2zM32 23h1v1h-1zM60 23h1v1h-1zM65 23h1v1h-1zM24 24h1v1h-1zM34 24h1v1h-1zM41 24h1v1h-1zM59 24h1v1h-1zM71 24h1v1h-1zM23 25h1v1h-1zM25 25h1v1h-1zM45 25h1v1h-1zM57 25h2v1h-2zM67 25h1v1h-1zM22 26h1v1h-1zM38 26h1v1h-1zM43 26h1v1h-1zM60 26h1v1h-1zM16 27h1v1h-1zM29 27h1v1h-1zM67 27h2v1h-2zM71 27h1v1h-1zM74 27h1v1h-1zM31 28h1v1h-1zM34 28h1v1h-1zM39 28h1v1h-1zM41 28h1v1h-1zM50 28h1v1h-1zM53 28h1v1h-1zM55 28h1v1h-1zM73 28h1v1h-1zM15 29h1v1h-1zM25 29h1v1h-1zM37 29h1v1h-1zM41 29h1v1h-1zM50 29h1v1h-1zM58 29h1v1h-1zM60 29h1v1h-1zM71 29h1v1h-1zM76 29h1v1h-1zM13 30h1v1h-1zM19 30h1v1h-1zM26 30h2v1h-2zM34 30h1v1h-1zM54 30h1v1h-1zM57 30h1v1h-1zM68 30h1v1h-1zM70 30h1v1h-1zM8 31h1v1h-1zM13 31h1v1h-1zM28 31h1v1h-1zM57 31h1v1h-1zM68 31h1v1h-1zM23 32h1v1h-1zM39 32h1v1h-1zM48 32h1v1h-1zM67 32h1v1h-1zM12 33h1v1h-1zM15 33h1v1h-1zM21 33h1v1h-1zM36 33h1v1h-1zM41 33h2v1h-2zM45 33h1v1h-1zM56 33h1v1h-1zM62 33h1v1h-1zM72 33h1v1h-1zM77 33h1v1h-1zM7 34h1v1h-1zM10 34h1v1h-1zM15 34h1v1h-1zM26 34h1v1h-1zM47 34h1v1h-1zM59 34h1v1h-1zM70 34h1v1h-1zM74 34h1v1h-1zM17 35h1v1h-1zM26 35h1v1h-1zM36 35h1v1h-1zM61 35h1v1h-1zM12 36h1v1h-1zM26 36h1v1h-1zM43 36h1v1h-1zM51 36h1v1h-1zM72 36h1v1h-1zM6 37h1v1h-1zM12 37h1v1h-1zM24 37h1v1h-1zM29 37h1v1h-1zM33 37h1v1h-1zM37 37h1v1h-1zM39 37h1v1h-1zM41 37h1v1h-1zM61 37h1v1h-1zM14 38h1v1h-1zM21 38h1v1h-1zM26 38h1v1h-1zM32 38h1v1h-1zM50 38h1v1h-1zM72 38h1v1h-1zM74 38h1v1h-1zM76 38h1v1h-1zM3 39h1v1h-1zM13 39h1v1h-1zM36 39h1v1h-1zM38 39h2v1h-2zM72 39h1v1h-1z"/><path fill="#c5c5df" d="M13 0h1v1h-1zM16 0h1v1h-1zM19 0h1v1h-1zM34 0h2v1h-2zM41 0h1v1h-1zM50 0h1v1h-1zM58 0h1v1h-1zM60 0h2v1h-2zM64 0h1v1h-1zM4 1h1v1h-1zM11 1h1v1h-1zM16 1h1v1h-1zM20 1h1v1h-1zM25 1h1v1h-1zM2 2h1v1h-1zM8 2h1v1h-1zM23 2h1v1h-1zM44 2h1v1h-1zM53 2h1v1h-1zM57 2h1v1h-1zM72 2h1v1h-1zM74 2h1v1h-1zM4 3h1v1h-1zM14 3h1v1h-1zM28 3h1v1h-1zM32 3h1v1h-1zM40 3h1v1h-1zM70 3h1v1h-1zM74 3h1v1h-1zM8 4h1v1h-1zM10 4h1v1h-1zM17 4h1v1h-1zM21 4h1v1h-1zM43 4h1v1h-1zM58 4h1v1h-1zM76 4h1v1h-1zM14 5h1v1h-1zM19 5h1v1h-1zM25 5h2v1h-2zM34 5h1v1h-1zM38 5h2v1h-2zM12 6h1v1h-1zM19 6h1v1h-1zM28 6h1v1h-1zM41 6h1v1h-1zM21 7h1v1h-1zM44 7h1v1h-1zM46 7h1v1h-1zM56 7h1v1h-1zM61 7h1v1h-1zM77 7h1v1h-1zM3 8h1v1h-1zM41 8h1v1h-1zM44 8h1v1h-1zM50 8h1v1h-1zM69 8h1v1h-1zM6 9h1v1h-1zM37 9h1v1h-1zM48 9h1v1h-1zM54 9h1v1h-1zM71 9h1v1h-1zM3 10h1v1h-1zM37 10h1v1h-1zM50 10h1v1h-1zM77 10h1v1h-1zM7 11h1v1h-1zM17 11h1v1h-1zM24 11h1v1h-1zM26 11h2v1h-2zM30 11h1v1h-1zM37 11h2v1h-2zM44 11h1v1h-1zM50 11h1v1h-1zM54 11h1v1h-1zM57 11h1v1h-1zM59 11h2v1h-2zM6 12h1v1h-1zM28 12h1v1h-1zM35 12h1v1h-1zM59 12h1v1h-1zM62 12h1v1h-1zM65 12h1v1h-1zM69 12h1v1h-1zM1 13h1v1h-1zM8 13h1v1h-1zM18 13h3v1h-3zM27 13h1v1h-1zM32 13h1v1h-1zM55 13h1v1h-1zM5 14h1v1h-1zM7 14h1v1h-1zM22 14h1v1h-1zM37 14h1v1h-1zM7 15h1v1h-1zM12 15h1v1h-1zM24 15h1v1h-1zM52 15h1v1h-1zM59 15h1v1h-1zM10 16h1v1h-1zM23 16h1v1h-1zM29 16h1v1h-1zM40 16h1v1h-1zM42 16h1v1h-1zM53 16h1v1h-1zM57 16h2v1h-2zM22 17h1v1h-1zM26 17h1v1h-1zM50 17h1v1h-1zM59 17h1v1h-1zM71 17h3v1h-3zM4 18h1v1h-1zM26 18h1v1h-1zM30 18h1v1h-1zM60 18h1v1h-1zM1 19h1v1h-1zM6 19h1v1h-1zM14 19h2v1h-2zM25 19h1v1h-1zM30 19h1v1h-1zM37 19h1v1h-1zM43 19h1v1h-1zM49 19h1v1h-1zM52 19h1v1h-1zM71 19h1v1h-1zM1 20h1v1h-1zM11 20h1v1h-1zM19 20h1v1h-1zM24 20h1v1h-1zM32 20h1v1h-1zM34 20h2v1h-2zM41 20h1v1h-1zM43 20h1v1h-1zM70 20h1v1h-1zM74 20h1v1h-1zM11 21h1v1h-1zM24 21h1v1h-1zM60 21h2v1h-2zM7 22h1v1h-1zM24 22h1v1h-1zM33 22h1v1h-1zM44 22h1v1h-1zM47 22h1v1h-1zM53 22h1v1h-1zM61 22h2v1h-2zM75 22h1v1h-1zM18 23h1v1h-1zM47 23h1v1h-1zM54 23h1v1h-1zM57 23h1v1h-1zM66 23h1v1h-1zM76 23h1v1h-1zM9 24h1v1h-1zM53 24h1v1h-1zM3 25h1v1h-1zM11 25h1v1h-1zM19 25h1v1h-1zM27 25h1v1h-1zM39 25h1v1h-1zM59 25h1v1h-1zM66 25h1v1h-1zM74 25h1v1h-1zM6 26h1v1h-1zM24 26h1v1h-1zM30 26h1v1h-1zM32 26h1v1h-1zM65 26h1v1h-1zM73 26h1v1h-1zM1 27h1v1h-1zM15 27h1v1h-1zM19 27h2v1h-2zM25 27h1v1h-1zM33 27h1v1h-1zM36 27h2v1h-2zM57 27h1v1h-1zM72 27h1v1h-1zM0 28h1v1h-1zM11 28h1v1h-1zM17 28h1v1h-1zM65 28h1v1h-1zM2 29h1v1h-1zM6 29h1v1h-1zM8 29h1v1h-1zM17 29h1v1h-1zM23 29h2v1h-2zM48 29h1v1h-1zM51 29h1v1h-1zM72 29h1v1h-1zM6 30h1v1h-1zM9 30h1v1h-1zM39 30h1v1h-1zM66 30h1v1h-1zM7 31h1v1h-1zM21 31h1v1h-1zM47 31h1v1h-1zM71 31h1v1h-1zM8 32h2v1h-2zM12 32h1v1h-1zM22 32h1v1h-1zM35 32h1v1h-1zM64 32h1v1h-1zM72 32h1v1h-1zM6 33h1v1h-1zM19 33h2v1h-2zM23 33h1v1h-1zM32 33h1v1h-1zM68 33h1v1h-1zM1 34h1v1h-1zM34 34h1v1h-1zM49 34h1v1h-1zM54 34h1v1h-1zM57 34h1v1h-1zM9 35h1v1h-1zM12 35h1v1h-1zM14 35h1v1h-1zM20 35h1v1h-1zM23 35h1v1h-1zM40 35h1v1h-1zM77 35h1v1h-1zM8 36h1v1h-1zM11 36h1v1h-1zM19 36h1v1h-1zM21 36h1v1h-1zM32 36h1v1h-1zM39 36h1v1h-1zM46 36h1v1h-1zM56 36h1v1h-1zM73 36h1v1h-1zM4 37h1v1h-1zM7 37h1v1h-1zM16 37h1v1h-1zM18 37h1v1h-1zM38 37h1v1h-1zM46 37h1v1h-1zM48 37h1v1h-1zM51 37h1v1h-1zM55 37h1v1h-1zM7 38h1v1h-1zM13 38h1v1h-1zM49 38h1v1h-1zM53 38h1v1h-1zM68 38h1v1h-1zM73 38h1v1h-1zM1 39h1v1h-1zM4 39h1v1h-1zM6 39h1v1h-1zM9 39h1v1h-1zM18 39h1v1h-1zM49 39h1v1h-1zM58 39h1v1h-1zM67 39h1v1h-1z"/><path fill="#e2e2ef" d="M6 0h1v1h-1zM24 0h2v1h-2zM65 0h1v1h-1zM67 0h1v1h-1zM19 1h1v1h-1zM56 1h1v1h-1zM75 1h1v1h-1zM1 2h1v1h-1zM75 2h1v1h-1zM3 3h1v1h-1zM15 3h1v1h-1zM22 3h1v1h-1zM25 3h1v1h-1zM39 3h1v1h-1zM3 4h1v1h-1zM15 4h1v1h-1zM24 4h1v1h-1zM3 5h1v1h-1zM12 5h1v1h-1zM31 5h1v1h-1zM51 5h1v1h-1zM67 5h1v1h-1zM10 6h1v1h-1zM73 6h1v1h-1zM11 7h1v1h-1zM38 7h1v1h-1zM70 7h1v1h-1zM1 8h1v1h-1zM31 8h1v1h-1zM47 8h1v1h-1zM51 8h1v1h-1zM53 8h2v1h-2zM62 8h1v1h-1zM65 8h1v1h-1zM10 9h1v1h-1zM17 9h1v1h-1zM19 9h1v1h-1zM56 9h1v1h-1zM64 9h1v1h-1zM4 10h1v1h-1zM18 10h1v1h-1zM22 10h2v1h-2zM40 10h1v1h-1zM45 10h1v1h-1zM67 10h1v1h-1zM1 11h1v1h-1zM14 11h1v1h-1zM49 11h1v1h-1zM21 12h2v1h-2zM38 12h1v1h-1zM49 12h1v1h-1zM54 12h1v1h-1zM15 13h1v1h-1zM46 13h1v1h-1zM58 13h1v1h-1zM61 13h1v1h-1zM12 14h1v1h-1zM24 14h1v1h-1zM30 14h1v1h-1zM48 14h1v1h-1zM2 15h1v1h-1zM23 15h1v1h-1zM48 15h1v1h-1zM62 15h1v1h-1zM4 16h1v1h-1zM30 16h1v1h-1zM0 17h1v1h-1zM2 17h1v1h-1zM60 17h1v1h-1zM77 17h1v1h-1zM1 18h1v1h-1zM9 18h1v1h-1zM13 18h1v1h-1zM48 18h2v1h-2zM53 18h1v1h-1zM11 19h1v1h-1zM18 19h1v1h-1zM36 20h1v1h-1zM47 20h1v1h-1zM50 20h1v1h-1zM54 20h1v1h-1zM58 20h1v1h-1zM73 20h1v1h-1zM76 20h1v1h-1zM6 21h1v1h-1zM21 21h1v1h-1zM42 21h1v1h-1zM67 21h1v1h-1zM15 22h2v1h-2zM19 22h1v1h-1zM23 22h1v1h-1zM65 22h1v1h-1zM76 22h1v1h-1zM13 23h2v1h-2zM20 23h1v1h-1zM31 23h1v1h-1zM43 23h1v1h-1zM61 23h1v1h-1zM71 23h1v1h-1zM75 23h1v1h-1zM10 24h1v1h-1zM13 24h2v1h-2zM25 24h1v1h-1zM33 24h1v1h-1zM1 25h1v1h-1zM22 25h1v1h-1zM49 25h1v1h-1zM1 26h1v1h-1zM34 26h1v1h-1zM39 26h1v1h-1zM46 26h1v1h-1zM75 26h1v1h-1zM17 27h1v1h-1zM47 27h1v1h-1zM55 27h1v1h-1zM58 27h1v1h-1zM4 28h1v1h-1zM9 28h1v1h-1zM19 28h1v1h-1zM25 28h1v1h-1zM1 29h1v1h-1zM13 29h1v1h-1zM18 29h1v1h-1zM20 29h1v1h-1zM28 29h1v1h-1zM38 30h1v1h-1zM56 30h1v1h-1zM64 30h1v1h-1zM22 31h1v1h-1zM1 32h1v1h-1zM21 32h1v1h-1zM49 32h1v1h-1zM76 32h1v1h-1zM16 33h2v1h-2zM28 33h1v1h-1zM55 34h1v1h-1zM64 34h1v1h-1zM71 34h1v1h-1zM75 34h1v1h-1zM6 35h1v1h-1zM18 35h1v1h-1zM22 35h1v1h-1zM48 35h1v1h-1zM72 35h1v1h-1zM3 36h1v1h-1zM24 36h1v1h-1zM58 36h1v1h-1zM71 36h1v1h-1zM8 37h1v1h-1zM36 37h1v1h-1zM50 37h1v1h-1zM75 37h1v1h-1zM0 38h1v1h-1zM19 38h1v1h-1zM27 39h1v1h-1zM35 39h1v1h-1zM44 39h1v1h-1zM74 39h1v1h-1z"/><path fill="#ffffff" d="M72 0h1v1h-1zM3 1h1v1h-1zM14 2h1v1h-1zM46 2h1v1h-1zM6 3h1v1h-1zM28 4h1v1h-1zM33 4h1v1h-1zM13 5h1v1h-1zM52 5h1v1h-1zM57 5h1v1h-1zM13 6h1v1h-1zM11 8h1v1h-1zM30 8h1v1h-1zM43 8h1v1h-1zM57 8h1v1h-1zM43 9h1v1h-1zM32 10h1v1h-1zM38 10h1v1h-1zM32 11h1v1h-1zM4 13h1v1h-1zM62 13h1v1h-1zM14 14h1v1h-1zM51 14h1v1h-1zM72 14h1v1h-1zM31 16h1v1h-1zM9 17h1v1h-1zM17 17h1v1h-1zM10 18h1v1h-1zM75 18h1v1h-1zM36 19h1v1h-1zM60 19h1v1h-1zM10 21h1v1h-1zM35 21h1v1h-1zM73 21h1v1h-1zM12 24h1v1h-1zM61 24h1v1h-1zM10 25h1v1h-1zM62 25h1v1h-1zM16 26h1v1h-1zM19 26h1v1h-1zM61 26h1v1h-1zM34 27h1v1h-1zM43 27h1v1h-1zM24 28h1v1h-1zM38 28h1v1h-1zM10 29h1v1h-1zM2 30h1v1h-1zM8 30h1v1h-1zM36 30h1v1h-1zM61 30h1v1h-1zM67 31h1v1h-1zM10 32h1v1h-1zM3 33h1v1h-1zM57 35h1v1h-1zM20 36h1v1h-1zM42 36h1v1h-1zM61 36h1v1h-1zM26 37h1v1h-1zM51 38h1v1h-1zM48 39h1v1h-1zM50 39h1v1h-1zM64 39h1v1h-1zM75 39h1v1h-1z"/><path fill="#f9e4e4" d="M3 0h1v1h-1zM21 0h1v1h-1zM36 0h1v1h-1zM47 0h1v1h-1zM49 0h1v1h-1zM73 0h1v1h-1zM13 1h1v1h-1zM29 1h1v1h-1zM35 1h1v1h-1zM48 1h2v1h-2zM52 1h1v1h-1zM57 1h1v1h-1zM9 2h1v1h-1zM32 2h1v1h-1zM34 2h1v1h-1zM36 2h1v1h-1zM41 2h1v1h-1zM68 2h1v1h-1zM77 2h1v1h-1zM43 3h1v1h-1zM69 3h1v1h-1zM72 3h1v1h-1zM9 4h1v1h-1zM13 4h1v1h-1zM50 4h1v1h-1zM70 4h1v1h-1zM0 5h2v1h-2zM28 5h1v1h-1zM43 5h1v1h-1zM45 5h1v1h-1zM47 5h1v1h-1zM69 5h1v1h-1zM2 6h1v1h-1zM6 6h1v1h-1zM25 6h1v1h-1zM27 6h1v1h-1zM38 6h2v1h-2zM57 6h1v1h-1zM0 7h1v1h-1zM47 7h1v1h-1zM0 8h1v1h-1zM34 8h2v1h-2zM76 8h1v1h-1zM18 9h1v1h-1zM51 9h1v1h-1zM62 9h1v1h-1zM69 9h1v1h-1zM25 10h1v1h-1zM33 10h1v1h-1zM55 10h1v1h-1zM68 10h2v1h-2zM28 11h1v1h-1zM65 11h1v1h-1zM72 11h1v1h-1zM4 12h1v1h-1zM19 12h1v1h-1zM31 12h1v1h-1zM55 12h1v1h-1zM77 12h1v1h-1zM25 13h1v1h-1zM77 13h1v1h-1zM25 14h1v1h-1zM31 14h1v1h-1zM35 14h1v1h-1zM49 14h1v1h-1zM32 15h1v1h-1zM33 16h1v1h-1zM35 16h1v1h-1zM20 17h1v1h-1zM52 17h1v1h-1zM5 18h1v1h-1zM52 18h1v1h-1zM10 19h1v1h-1zM26 19h1v1h-1zM68 19h1v1h-1zM0 20h1v1h-1zM2 20h1v1h-1zM6 20h1v1h-1zM37 20h1v1h-1zM60 20h1v1h-1zM72 20h1v1h-1zM1 21h1v1h-1zM7 21h1v1h-1zM13 21h1v1h-1zM16 21h1v1h-1zM50 21h1v1h-1zM72 21h1v1h-1zM11 22h1v1h-1zM14 22h1v1h-1zM36 22h1v1h-1zM4 23h1v1h-1zM9 23h1v1h-1zM40 23h1v1h-1zM62 23h1v1h-1zM64 23h1v1h-1zM3 24h1v1h-1zM51 24h1v1h-1zM54 24h1v1h-1zM60 24h1v1h-1zM73 24h2v1h-2zM77 24h1v1h-1zM6 25h1v1h-1zM13 25h1v1h-1zM15 25h1v1h-1zM50 25h1v1h-1zM60 25h1v1h-1zM11 26h1v1h-1zM28 26h1v1h-1zM35 26h1v1h-1zM68 26h1v1h-1zM27 27h1v1h-1zM5 28h1v1h-1zM33 28h1v1h-1zM35 28h2v1h-2zM44 28h1v1h-1zM52 28h1v1h-1zM69 28h1v1h-1zM72 28h1v1h-1zM74 28h1v1h-1zM26 29h1v1h-1zM40 29h1v1h-1zM61 29h1v1h-1zM29 30h1v1h-1zM41 30h1v1h-1zM58 30h1v1h-1zM76 30h1v1h-1zM49 31h1v1h-1zM64 31h1v1h-1zM33 32h1v1h-1zM57 32h2v1h-2zM60 32h1v1h-1zM60 33h1v1h-1zM71 33h1v1h-1zM4 34h1v1h-1zM25 34h1v1h-1zM33 34h1v1h-1zM38 34h1v1h-1zM33 35h1v1h-1zM75 35h1v1h-1zM4 36h1v1h-1zM44 36h1v1h-1zM47 36h1v1h-1zM60 36h1v1h-1zM65 36h2v1h-2zM3 37h1v1h-1zM19 37h1v1h-1zM49 37h1v1h-1zM54 37h1v1h-1zM9 38h1v1h-1zM36 38h1v1h-1zM57 38h1v1h-1zM59 38h2v1h-2zM65 38h1v1h-1zM11 39h1v1h-1zM25 39h1v1h-1zM41 39h1v1h-1zM59 39h1v1h-1zM65 39h1v1h-1z"/><path fill="#f2c9c9" d="M28 0h1v1h-1zM70 0h1v1h-1zM15 1h1v1h-1zM55 1h1v1h-1zM58 1h1v1h-1zM65 1h1v1h-1zM0 2h1v1h-1zM13 2h1v1h-1zM59 2h1v1h-1zM73 2h1v1h-1zM42 3h1v1h-1zM1 4h2v1h-2zM14 4h1v1h-1zM26 4h1v1h-1zM38 4h1v1h-1zM57 4h1v1h-1zM77 4h1v1h-1zM10 5h2v1h-2zM23 5h2v1h-2zM37 5h1v1h-1zM50 5h1v1h-1zM73 5h1v1h-1zM33 6h1v1h-1zM52 6h1v1h-1zM5 7h1v1h-1zM23 7h1v1h-1zM27 7h1v1h-1zM49 7h1v1h-1zM54 7h1v1h-1zM59 7h1v1h-1zM64 7h1v1h-1zM68 7h1v1h-1zM72 7h1v1h-1zM6 8h1v1h-1zM19 8h1v1h-1zM26 8h1v1h-1zM28 8h1v1h-1zM46 8h1v1h-1zM52 8h1v1h-1zM59 8h1v1h-1zM61 8h1v1h-1zM77 8h1v1h-1zM4 9h2v1h-2zM12 9h2v1h-2zM26 9h1v1h-1zM29 9h1v1h-1zM50 9h1v1h-1zM67 9h1v1h-1zM9 10h1v1h-1zM60 10h1v1h-1zM6 11h1v1h-1zM9 11h1v1h-1zM20 11h1v1h-1zM33 11h1v1h-1zM48 11h1v1h-1zM71 12h1v1h-1zM73 12h1v1h-1zM13 13h1v1h-1zM21 13h1v1h-1zM39 13h2v1h-2zM49 13h1v1h-1zM74 13h1v1h-1zM10 14h1v1h-1zM62 14h1v1h-1zM0 15h1v1h-1zM68 15h1v1h-1zM6 16h1v1h-1zM6 17h1v1h-1zM11 17h1v1h-1zM14 17h1v1h-1zM24 17h1v1h-1zM38 17h1v1h-1zM69 17h1v1h-1zM23 18h1v1h-1zM31 18h1v1h-1zM73 18h1v1h-1zM28 19h1v1h-1zM31 19h1v1h-1zM48 19h1v1h-1zM57 19h2v1h-2zM75 19h1v1h-1zM77 19h1v1h-1zM9 20h2v1h-2zM39 20h1v1h-1zM44 20h1v1h-1zM75 20h1v1h-1zM9 21h1v1h-1zM47 21h1v1h-1zM57 21h1v1h-1zM70 21h1v1h-1zM13 22h1v1h-1zM52 22h1v1h-1zM11 23h1v1h-1zM19 23h1v1h-1zM27 23h1v1h-1zM37 23h2v1h-2zM46 23h1v1h-1zM67 23h1v1h-1zM73 23h1v1h-1zM0 24h1v1h-1zM2 24h1v1h-1zM19 24h1v1h-1zM28 24h1v1h-1zM35 24h1v1h-1zM42 24h1v1h-1zM44 24h1v1h-1zM68 24h1v1h-1zM16 25h1v1h-1zM31 25h1v1h-1zM37 25h1v1h-1zM42 25h1v1h-1zM51 25h2v1h-2zM54 25h1v1h-1zM61 25h1v1h-1zM69 25h1v1h-1zM9 26h1v1h-1zM14 26h1v1h-1zM33 26h1v1h-1zM56 26h1v1h-1zM22 27h1v1h-1zM52 27h1v1h-1zM61 27h2v1h-2zM69 27h1v1h-1zM73 27h1v1h-1zM76 27h1v1h-1zM18 28h1v1h-1zM22 28h1v1h-1zM30 28h1v1h-1zM46 28h1v1h-1zM57 28h1v1h-1zM68 28h1v1h-1zM12 29h1v1h-1zM16 29h1v1h-1zM22 29h1v1h-1zM36 29h1v1h-1zM38 29h1v1h-1zM43 29h1v1h-1zM52 29h1v1h-1zM57 29h1v1h-1zM59 29h1v1h-1zM20 30h1v1h-1zM25 30h1v1h-1zM48 30h1v1h-1zM50 30h1v1h-1zM59 30h1v1h-1zM77 30h1v1h-1zM14 31h1v1h-1zM18 31h1v1h-1zM36 31h1v1h-1zM40 31h1v1h-1zM42 31h1v1h-1zM27 32h1v1h-1zM31 32h1v1h-1zM34 32h1v1h-1zM36 32h1v1h-1zM73 32h1v1h-1zM77 32h1v1h-1zM4 33h1v1h-1zM25 33h1v1h-1zM31 33h1v1h-1zM55 33h1v1h-1zM67 33h1v1h-1zM76 33h1v1h-1zM0 34h1v1h-1zM19 34h1v1h-1zM29 34h1v1h-1zM36 34h1v1h-1zM40 34h1v1h-1zM68 34h1v1h-1zM72 34h1v1h-1zM44 35h1v1h-1zM59 35h1v1h-1zM0 36h1v1h-1zM13 36h1v1h-1zM28 36h1v1h-1zM74 36h1v1h-1zM0 37h1v1h-1zM15 37h1v1h-1zM23 37h1v1h-1zM30 37h1v1h-1zM44 37h1v1h-1zM60 37h1v1h-1zM24 38h1v1h-1zM28 38h1v1h-1zM52 38h1v1h-1zM0 39h1v1h-1zM10 39h1v1h-1zM19 39h1v1h-1zM40 39h1v1h-1zM55 39h1v1h-1zM68 39h1v1h-1z"/><path fill="#ecaeae" d="M0 0h1v1h-1zM4 0h2v1h-2zM27 0h1v1h-1zM56 0h2v1h-2zM0 1h1v1h-1zM14 1h1v1h-1zM26 1h1v1h-1zM30 1h1v1h-1zM37 1h1v1h-1zM60 1h1v1h-1zM68 1h1v1h-1zM10 2h1v1h-1zM22 2h1v1h-1zM26 2h1v1h-1zM43 2h1v1h-1zM61 2h1v1h-1zM65 2h1v1h-1zM71 2h1v1h-1zM1 3h2v1h-2zM50 3h1v1h-1zM52 3h1v1h-1zM65 3h1v1h-1zM6 4h1v1h-1zM11 4h1v1h-1zM30 4h1v1h-1zM62 4h1v1h-1zM65 4h1v1h-1zM6 5h2v1h-2zM20 5h1v1h-1zM33 5h1v1h-1zM48 5h1v1h-1zM60 5h1v1h-1zM1 6h1v1h-1zM5 6h1v1h-1zM8 6h1v1h-1zM22 6h1v1h-1zM48 6h1v1h-1zM72 6h1v1h-1zM1 7h1v1h-1zM19 7h2v1h-2zM25 7h1v1h-1zM55 7h1v1h-1zM60 7h1v1h-1zM69 7h1v1h-1zM76 7h1v1h-1zM24 8h1v1h-1zM58 8h1v1h-1zM25 9h1v1h-1zM28 9h1v1h-1zM33 9h1v1h-1zM52 9h2v1h-2zM58 9h1v1h-1zM68 9h1v1h-1zM72 9h1v1h-1zM75 9h1v1h-1zM26 10h1v1h-1zM72 10h1v1h-1zM0 11h1v1h-1zM10 11h1v1h-1zM16 11h1v1h-1zM19 11h1v1h-1zM67 11h1v1h-1zM0 12h1v1h-1zM5 12h1v1h-1zM10 12h1v1h-1zM23 12h1v1h-1zM60 12h1v1h-1zM33 13h1v1h-1zM43 13h1v1h-1zM47 13h1v1h-1zM50 13h1v1h-1zM69 13h1v1h-1zM9 14h1v1h-1zM23 14h1v1h-1zM26 14h1v1h-1zM33 14h1v1h-1zM36 14h1v1h-1zM55 14h1v1h-1zM58 14h2v1h-2zM70 14h1v1h-1zM1 15h1v1h-1zM22 15h1v1h-1zM29 15h1v1h-1zM34 15h1v1h-1zM61 15h1v1h-1zM65 15h1v1h-1zM26 16h1v1h-1zM71 16h1v1h-1zM29 18h1v1h-1zM54 18h1v1h-1zM5 19h1v1h-1zM35 19h1v1h-1zM55 19h1v1h-1zM14 20h1v1h-1zM55 20h1v1h-1zM61 20h1v1h-1zM69 20h1v1h-1zM3 21h1v1h-1zM19 21h2v1h-2zM36 21h2v1h-2zM48 21h1v1h-1zM55 21h2v1h-2zM68 21h1v1h-1zM2 22h1v1h-1zM10 22h1v1h-1zM26 22h1v1h-1zM29 22h1v1h-1zM40 22h1v1h-1zM0 23h1v1h-1zM17 23h1v1h-1zM29 23h1v1h-1zM33 23h1v1h-1zM51 23h1v1h-1zM68 23h1v1h-1zM72 23h1v1h-1zM74 23h1v1h-1zM4 24h1v1h-1zM6 24h2v1h-2zM21 24h1v1h-1zM27 24h1v1h-1zM50 24h1v1h-1zM69 24h1v1h-1zM0 25h1v1h-1zM24 25h1v1h-1zM28 25h1v1h-1zM13 26h1v1h-1zM26 26h1v1h-1zM37 26h1v1h-1zM50 26h1v1h-1zM48 27h1v1h-1zM8 28h1v1h-1zM14 28h1v1h-1zM20 28h1v1h-1zM54 28h1v1h-1zM77 28h1v1h-1zM17 30h1v1h-1zM24 30h1v1h-1zM28 30h1v1h-1zM73 30h1v1h-1zM4 31h1v1h-1zM12 31h1v1h-1zM23 31h1v1h-1zM26 31h1v1h-1zM31 31h1v1h-1zM38 31h1v1h-1zM48 31h1v1h-1zM50 31h1v1h-1zM59 31h1v1h-1zM69 31h1v1h-1zM13 32h1v1h-1zM18 32h1v1h-1zM20 32h1v1h-1zM26 32h1v1h-1zM38 32h1v1h-1zM40 32h2v1h-2zM47 32h1v1h-1zM65 32h1v1h-1zM0 33h1v1h-1zM26 33h1v1h-1zM35 33h1v1h-1zM38 33h1v1h-1zM44 33h1v1h-1zM49 33h1v1h-1zM69 33h1v1h-1zM6 34h1v1h-1zM11 34h1v1h-1zM16 34h1v1h-1zM18 34h1v1h-1zM23 34h1v1h-1zM39 34h1v1h-1zM42 34h1v1h-1zM50 34h1v1h-1zM73 34h1v1h-1zM0 35h1v1h-1zM4 35h2v1h-2zM19 35h1v1h-1zM29 35h1v1h-1zM50 35h1v1h-1zM52 35h1v1h-1zM55 35h1v1h-1zM9 36h1v1h-1zM23 36h1v1h-1zM37 36h1v1h-1zM40 36h1v1h-1zM76 36h2v1h-2zM5 37h1v1h-1zM14 37h1v1h-1zM25 37h1v1h-1zM58 37h1v1h-1zM69 37h1v1h-1zM35 38h1v1h-1zM43 38h1v1h-1zM61 38h1v1h-1zM16 39h1v1h-1zM22 39h1v1h-1zM37 39h1v1h-1zM70 39h1v1h-1z"/><path fill="#e69292" d="M12 0h1v1h-1zM14 0h1v1h-1zM17 0h1v1h-1zM22 0h1v1h-1zM26 0h1v1h-1zM40 0h1v1h-1zM44 0h1v1h-1zM77 0h1v1h-1zM5 1h1v1h-1zM12 1h1v1h-1zM18 1h1v1h-1zM22 1h1v1h-1zM38 1h1v1h-1zM59 1h1v1h-1zM11 2h1v1h-1zM21 2h1v1h-1zM54 2h2v1h-2zM17 3h2v1h-2zM30 3h1v1h-1zM35 3h1v1h-1zM75 3h1v1h-1zM4 4h1v1h-1zM16 4h1v1h-1zM23 4h1v1h-1zM40 4h1v1h-1zM48 4h1v1h-1zM59 4h1v1h-1zM68 4h2v1h-2zM72 4h2v1h-2zM75 4h1v1h-1zM9 5h1v1h-1zM18 5h1v1h-1zM44 5h1v1h-1zM49 5h1v1h-1zM55 5h1v1h-1zM59 5h1v1h-1zM72 5h1v1h-1zM17 6h1v1h-1zM20 6h1v1h-1zM29 6h1v1h-1zM43 6h1v1h-1zM6 7h1v1h-1zM8 7h1v1h-1zM17 7h1v1h-1zM30 7h1v1h-1zM36 7h2v1h-2zM40 7h1v1h-1zM53 7h1v1h-1zM57 7h2v1h-2zM22 8h2v1h-2zM25 8h1v1h-1zM32 8h2v1h-2zM48 8h2v1h-2zM55 8h1v1h-1zM0 9h2v1h-2zM14 9h1v1h-1zM22 9h1v1h-1zM38 9h1v1h-1zM65 10h1v1h-1zM75 10h1v1h-1zM34 11h1v1h-1zM39 11h1v1h-1zM42 11h1v1h-1zM71 11h1v1h-1zM73 11h1v1h-1zM26 12h2v1h-2zM75 12h1v1h-1zM14 13h1v1h-1zM22 13h1v1h-1zM24 13h1v1h-1zM37 13h1v1h-1zM65 13h1v1h-1zM71 13h1v1h-1zM27 14h1v1h-1zM52 14h1v1h-1zM57 14h1v1h-1zM4 15h1v1h-1zM10 15h1v1h-1zM17 15h1v1h-1zM37 15h1v1h-1zM49 15h1v1h-1zM55 15h1v1h-1zM60 15h1v1h-1zM75 15h1v1h-1zM5 16h1v1h-1zM72 16h1v1h-1zM18 17h1v1h-1zM42 17h1v1h-1zM48 17h1v1h-1zM14 18h1v1h-1zM4 19h1v1h-1zM23 19h1v1h-1zM42 19h1v1h-1zM4 20h1v1h-1zM12 20h1v1h-1zM15 20h2v1h-2zM26 20h1v1h-1zM38 20h1v1h-1zM40 20h1v1h-1zM42 20h1v1h-1zM57 20h1v1h-1zM0 21h1v1h-1zM17 21h1v1h-1zM44 21h1v1h-1zM65 21h1v1h-1zM69 21h1v1h-1zM75 21h1v1h-1zM77 21h1v1h-1zM0 22h2v1h-2zM17 22h2v1h-2zM25 22h1v1h-1zM28 22h1v1h-1zM49 22h1v1h-1zM58 22h1v1h-1zM68 22h1v1h-1zM23 23h1v1h-1zM35 23h1v1h-1zM59 23h1v1h-1zM1 24h1v1h-1zM17 24h1v1h-1zM23 24h1v1h-1zM36 24h1v1h-1zM38 24h1v1h-1zM40 24h1v1h-1zM48 24h1v1h-1zM4 25h2v1h-2zM9 25h1v1h-1zM20 25h1v1h-1zM30 25h1v1h-1zM33 25h1v1h-1zM35 25h1v1h-1zM38 25h1v1h-1zM55 25h2v1h-2zM73 25h1v1h-1zM4 26h1v1h-1zM10 26h1v1h-1zM20 26h1v1h-1zM48 26h1v1h-1zM69 26h1v1h-1zM6 27h1v1h-1zM28 27h1v1h-1zM6 28h1v1h-1zM28 28h1v1h-1zM40 28h1v1h-1zM42 28h1v1h-1zM59 28h2v1h-2zM64 28h1v1h-1zM75 28h1v1h-1zM30 29h1v1h-1zM75 29h1v1h-1zM0 30h1v1h-1zM4 30h1v1h-1zM15 30h1v1h-1zM18 30h1v1h-1zM55 30h1v1h-1zM65 30h1v1h-1zM1 31h1v1h-1zM30 31h1v1h-1zM35 31h1v1h-1zM65 31h1v1h-1zM14 32h1v1h-1zM16 32h1v1h-1zM19 32h1v1h-1zM28 32h1v1h-1zM30 32h1v1h-1zM5 33h1v1h-1zM50 33h1v1h-1zM73 33h1v1h-1zM9 34h1v1h-1zM17 34h1v1h-1zM28 34h1v1h-1zM48 34h1v1h-1zM58 34h1v1h-1zM69 34h1v1h-1zM77 34h1v1h-1zM1 35h1v1h-1zM25 35h1v1h-1zM35 35h1v1h-1zM6 36h1v1h-1zM10 36h1v1h-1zM17 36h2v1h-2zM22 36h1v1h-1zM30 36h1v1h-1zM10 37h1v1h-1zM17 37h1v1h-1zM20 37h1v1h-1zM40 37h1v1h-1zM68 37h1v1h-1zM77 37h1v1h-1zM4 38h1v1h-1zM10 38h1v1h-1zM16 38h1v1h-1zM22 38h1v1h-1zM40 38h1v1h-1zM33 39h1v1h-1zM73 39h1v1h-1z"/><path fill="#e07777" d="M2 0h1v1h-1zM8 0h1v1h-1zM32 0h1v1h-1zM48 0h1v1h-1zM68 0h2v1h-2zM71 0h1v1h-1zM75 0h1v1h-1zM1 1h1v1h-1zM10 1h1v1h-1zM17 1h1v1h-1zM33 1h1v1h-1zM36 1h1v1h-1zM44 1h1v1h-1zM69 1h1v1h-1zM72 1h1v1h-1zM18 2h1v1h-1zM25 2h1v1h-1zM29 2h2v1h-2zM37 2h1v1h-1zM49 2h1v1h-1zM60 2h1v1h-1zM69 2h1v1h-1zM76 2h1v1h-1zM0 3h1v1h-1zM20 3h1v1h-1zM26 3h1v1h-1zM31 3h1v1h-1zM38 3h1v1h-1zM48 3h1v1h-1zM58 3h1v1h-1zM0 4h1v1h-1zM12 4h1v1h-1zM20 4h1v1h-1zM31 4h1v1h-1zM34 4h2v1h-2zM49 4h1v1h-1zM52 4h1v1h-1zM5 5h1v1h-1zM16 5h1v1h-1zM30 5h1v1h-1zM36 5h1v1h-1zM61 5h1v1h-1zM65 5h1v1h-1zM0 6h1v1h-1zM18 6h1v1h-1zM26 6h1v1h-1zM77 6h1v1h-1zM3 7h1v1h-1zM18 7h1v1h-1zM22 7h1v1h-1zM42 7h1v1h-1zM52 7h1v1h-1zM73 7h1v1h-1zM8 8h1v1h-1zM16 8h1v1h-1zM29 8h1v1h-1zM23 9h1v1h-1zM31 9h1v1h-1zM36 9h1v1h-1zM57 9h1v1h-1zM61 9h1v1h-1zM5 10h1v1h-1zM28 10h1v1h-1zM31 10h1v1h-1zM42 10h1v1h-1zM49 10h1v1h-1zM58 10h1v1h-1zM5 11h1v1h-1zM31 11h1v1h-1zM58 11h1v1h-1zM75 11h1v1h-1zM1 12h1v1h-1zM14 12h1v1h-1zM17 12h2v1h-2zM25 12h1v1h-1zM30 12h1v1h-1zM42 12h1v1h-1zM56 12h1v1h-1zM0 13h1v1h-1zM36 13h1v1h-1zM48 13h1v1h-1zM0 14h2v1h-2zM6 14h1v1h-1zM42 14h1v1h-1zM69 14h1v1h-1zM75 14h1v1h-1zM5 15h2v1h-2zM13 15h1v1h-1zM28 15h1v1h-1zM30 15h2v1h-2zM69 15h1v1h-1zM20 16h1v1h-1zM29 17h1v1h-1zM18 18h1v1h-1zM28 20h2v1h-2zM49 20h1v1h-1zM5 21h1v1h-1zM28 21h1v1h-1zM30 21h1v1h-1zM33 21h1v1h-1zM49 21h1v1h-1zM58 21h1v1h-1zM5 22h2v1h-2zM35 22h1v1h-1zM38 22h1v1h-1zM42 22h2v1h-2zM48 22h1v1h-1zM55 22h1v1h-1zM10 23h1v1h-1zM39 23h1v1h-1zM41 23h1v1h-1zM44 23h1v1h-1zM52 23h1v1h-1zM58 23h1v1h-1zM77 23h1v1h-1zM75 24h1v1h-1zM26 25h1v1h-1zM0 26h1v1h-1zM5 26h1v1h-1zM18 26h1v1h-1zM77 26h1v1h-1zM18 27h1v1h-1zM54 27h1v1h-1zM29 28h1v1h-1zM32 28h1v1h-1zM49 28h1v1h-1zM58 28h1v1h-1zM29 29h1v1h-1zM42 29h1v1h-1zM11 30h1v1h-1zM30 30h1v1h-1zM33 30h1v1h-1zM35 30h1v1h-1zM52 30h1v1h-1zM5 31h1v1h-1zM58 31h1v1h-1zM72 31h2v1h-2zM0 32h1v1h-1zM17 32h1v1h-1zM29 32h1v1h-1zM52 32h1v1h-1zM68 32h2v1h-2zM75 32h1v1h-1zM18 33h1v1h-1zM30 33h1v1h-1zM20 34h1v1h-1zM22 34h1v1h-1zM35 34h1v1h-1zM30 35h1v1h-1zM42 35h1v1h-1zM49 35h1v1h-1zM69 35h1v1h-1zM73 35h1v1h-1zM2 36h1v1h-1zM15 36h1v1h-1zM31 36h1v1h-1zM50 36h1v1h-1zM69 36h1v1h-1zM1 37h1v1h-1zM27 37h1v1h-1zM31 37h1v1h-1zM35 37h1v1h-1zM59 37h1v1h-1zM1 38h1v1h-1zM5 38h1v1h-1zM20 38h1v1h-1zM77 38h1v1h-1zM29 39h1v1h-1zM32 39h1v1h-1zM42 39h1v1h-1zM46 39h1v1h-1zM52 39h1v1h-1zM69 39h1v1h-1z"/><path fill="#da5c5c" d="M1 0h1v1h-1zM11 0h1v1h-1zM18 0h1v1h-1zM29 0h1v1h-1zM31 0h1v1h-1zM52 0h1v1h-1zM41 1h2v1h-2zM3 2h1v1h-1zM6 2h1v1h-1zM28 2h1v1h-1zM33 2h1v1h-1zM38 2h1v1h-1zM42 2h1v1h-1zM47 2h1v1h-1zM50 2h1v1h-1zM49 3h1v1h-1zM29 4h1v1h-1zM42 4h1v1h-1zM55 4h1v1h-1zM17 5h1v1h-1zM29 5h1v1h-1zM42 6h1v1h-1zM14 7h1v1h-1zM28 7h1v1h-1zM35 7h1v1h-1zM48 7h1v1h-1zM5 8h1v1h-1zM42 8h1v1h-1zM9 9h1v1h-1zM73 9h1v1h-1zM1 10h1v1h-1zM2 11h1v1h-1zM21 11h2v1h-2zM29 11h1v1h-1zM11 12h1v1h-1zM29 12h1v1h-1zM52 12h1v1h-1zM5 13h2v1h-2zM26 13h1v1h-1zM73 13h1v1h-1zM18 14h1v1h-1zM28 14h1v1h-1zM1 17h1v1h-1zM22 20h1v1h-1zM52 20h1v1h-1zM26 21h1v1h-1zM31 21h1v1h-1zM12 22h1v1h-1zM31 22h1v1h-1zM50 22h1v1h-1zM69 22h1v1h-1zM77 22h1v1h-1zM2 23h1v1h-1zM16 23h1v1h-1zM26 23h1v1h-1zM49 23h1v1h-1zM22 24h1v1h-1zM26 24h1v1h-1zM29 24h3v1h-3zM49 24h1v1h-1zM52 24h1v1h-1zM58 24h1v1h-1zM72 24h1v1h-1zM29 25h1v1h-1zM72 25h1v1h-1zM75 25h1v1h-1zM0 27h1v1h-1zM31 27h1v1h-1zM42 27h1v1h-1zM75 27h1v1h-1zM1 28h1v1h-1zM10 28h1v1h-1zM23 28h1v1h-1zM26 28h1v1h-1zM5 29h1v1h-1zM69 29h1v1h-1zM5 30h1v1h-1zM12 30h1v1h-1zM31 30h1v1h-1zM49 30h1v1h-1zM75 31h1v1h-1zM4 32h2v1h-2zM37 32h1v1h-1zM42 32h1v1h-1zM50 32h1v1h-1zM10 33h1v1h-1zM39 33h1v1h-1zM58 33h1v1h-1zM75 33h1v1h-1zM5 34h1v1h-1zM30 34h1v1h-1zM31 35h1v1h-1zM25 36h1v1h-1zM33 36h1v1h-1zM38 36h1v1h-1zM52 36h1v1h-1zM75 36h1v1h-1zM22 37h1v1h-1zM34 37h1v1h-1zM42 37h1v1h-1zM52 37h1v1h-1zM11 38h1v1h-1zM18 38h1v1h-1zM33 38h1v1h-1zM39 38h1v1h-1zM48 38h1v1h-1zM69 38h1v1h-1zM75 38h1v1h-1zM77 39h1v1h-1z"/><path fill="#d34141" d="M30 0h1v1h-1zM35 2h1v1h-1zM58 2h1v1h-1zM60 3h1v1h-1zM18 4h1v1h-1zM35 5h1v1h-1zM77 5h1v1h-1zM31 6h1v1h-1zM10 7h1v1h-1zM26 7h1v1h-1zM29 7h1v1h-1zM31 7h1v1h-1zM18 8h1v1h-1zM30 9h1v1h-1zM55 9h1v1h-1zM77 9h1v1h-1zM18 11h1v1h-1zM35 11h1v1h-1zM52 11h1v1h-1zM28 13h3v1h-3zM60 13h1v1h-1zM29 14h1v1h-1zM35 15h1v1h-1zM58 15h1v1h-1zM20 18h1v1h-1zM58 18h1v1h-1zM20 20h1v1h-1zM31 20h1v1h-1zM77 20h1v1h-1zM52 21h1v1h-1zM57 22h1v1h-1zM1 23h1v1h-1zM22 23h1v1h-1zM28 23h1v1h-1zM42 23h1v1h-1zM69 23h1v1h-1zM20 24h1v1h-1zM7 25h1v1h-1zM18 25h1v1h-1zM77 25h1v1h-1zM48 28h1v1h-1zM31 29h1v1h-1zM42 30h1v1h-1zM75 30h1v1h-1zM11 31h1v1h-1zM29 31h1v1h-1zM77 31h1v1h-1zM6 32h1v1h-1zM55 32h1v1h-1zM52 33h1v1h-1zM65 34h1v1h-1zM1 36h1v1h-1zM29 36h1v1h-1zM30 38h1v1h-1zM44 38h1v1h-1z"/><path fill="#cd2626" d="M20 0h1v1h-1zM37 0h1v1h-1zM42 0h1v1h-1zM5 2h1v1h-1zM17 2h1v1h-1zM20 2h1v1h-1zM31 2h1v1h-1zM48 2h1v1h-1zM52 2h1v1h-1zM5 4h1v1h-1zM42 5h1v1h-1zM75 5h1v1h-1zM75 6h1v1h-1zM75 7h1v1h-1zM75 8h1v1h-1zM20 9h1v1h-1zM42 9h1v1h-1zM60 9h1v1h-1zM31 13h1v1h-1zM42 13h1v1h-1zM52 13h1v1h-1zM75 13h1v1h-1zM18 15h1v1h-1zM20 15h1v1h-1zM52 16h1v1h-1zM75 16h1v1h-1zM42 18h1v1h-1zM5 20h1v1h-1zM18 20h1v1h-1zM30 20h1v1h-1zM4 21h1v1h-1zM18 21h1v1h-1zM29 21h1v1h-1zM5 23h1v1h-1zM30 23h1v1h-1zM5 24h1v1h-1zM18 24h1v1h-1zM52 26h1v1h-1zM5 27h1v1h-1zM52 31h1v1h-1zM52 34h1v1h-1zM5 36h1v1h-1zM29 38h1v1h-1zM31 38h1v1h-1zM38 38h1v1h-1zM42 38h1v1h-1zM58 38h1v1h-1zM30 39h2v1h-2z"/></g>
<g transform="translate(168.4 449.65) scale(1.55600 6.14625)"><path fill="#161880" d="M5 0h1v1h-1zM7 0h2v1h-2zM20 0h3v1h-3zM32 0h1v1h-1zM38 0h1v1h-1zM44 0h1v1h-1zM49 0h1v1h-1zM20 1h1v1h-1zM22 1h1v1h-1zM25 1h1v1h-1zM32 1h4v1h-4zM42 1h1v1h-1zM48 1h1v1h-1zM6 2h1v1h-1zM14 2h1v1h-1zM20 2h1v1h-1zM32 2h1v1h-1zM40 2h1v1h-1zM8 3h1v1h-1zM20 3h4v1h-4zM29 3h1v1h-1zM48 3h1v1h-1zM7 4h1v1h-1zM10 4h1v1h-1zM14 4h1v1h-1zM16 4h1v1h-1zM20 4h1v1h-1zM31 4h3v1h-3zM6 5h1v1h-1zM8 5h1v1h-1zM10 5h1v1h-1zM14 5h1v1h-1zM16 5h1v1h-1zM20 5h1v1h-1zM32 5h1v1h-1zM34 5h1v1h-1zM44 5h1v1h-1zM8 6h1v1h-1zM16 6h1v1h-1zM23 6h1v1h-1zM31 6h1v1h-1zM34 6h1v1h-1zM48 6h1v1h-1zM0 7h1v1h-1zM5 7h2v1h-2zM19 7h2v1h-2zM31 7h2v1h-2zM41 7h1v1h-1zM3 8h1v1h-1zM6 8h2v1h-2zM16 8h1v1h-1zM20 8h1v1h-1zM28 8h1v1h-1zM32 8h1v1h-1zM48 8h1v1h-1zM0 9h1v1h-1zM10 9h1v1h-1zM20 9h1v1h-1zM32 9h1v1h-1zM34 9h1v1h-1zM6 10h1v1h-1zM20 10h1v1h-1zM6 11h1v1h-1zM32 11h1v1h-1zM48 11h1v1h-1zM14 12h1v1h-1zM20 12h1v1h-1zM22 12h1v1h-1zM38 12h1v1h-1zM22 13h1v1h-1zM32 13h1v1h-1zM0 14h2v1h-2zM6 14h1v1h-1zM11 14h1v1h-1zM16 14h1v1h-1zM20 14h1v1h-1zM32 14h1v1h-1zM34 14h1v1h-1zM1 15h1v1h-1zM8 15h1v1h-1zM20 15h1v1h-1zM32 15h1v1h-1zM44 15h1v1h-1zM48 15h1v1h-1zM20 23h1v1h-1zM6 27h1v1h-1zM20 30h1v1h-1zM20 38h1v1h-1z"/><path fill="#333590" d="M10 0h1v1h-1zM16 0h1v1h-1zM31 0h1v1h-1zM41 0h1v1h-1zM5 1h2v1h-2zM15 1h1v1h-1zM31 1h1v1h-1zM38 1h1v1h-1zM11 2h2v1h-2zM47 2h1v1h-1zM14 3h1v1h-1zM31 3h1v1h-1zM34 3h1v1h-1zM39 3h1v1h-1zM2 4h1v1h-1zM6 4h1v1h-1zM12 4h2v1h-2zM25 4h1v1h-1zM48 4h1v1h-1zM1 5h1v1h-1zM5 5h1v1h-1zM26 5h1v1h-1zM41 5h2v1h-2zM47 5h1v1h-1zM0 6h1v1h-1zM3 6h1v1h-1zM9 6h1v1h-1zM12 6h1v1h-1zM14 6h1v1h-1zM20 6h1v1h-1zM22 6h1v1h-1zM25 6h1v1h-1zM22 7h1v1h-1zM24 7h1v1h-1zM34 7h1v1h-1zM46 7h1v1h-1zM48 7h1v1h-1zM12 8h1v1h-1zM22 8h1v1h-1zM29 8h1v1h-1zM31 8h1v1h-1zM36 8h1v1h-1zM38 8h1v1h-1zM16 9h1v1h-1zM21 9h1v1h-1zM38 9h1v1h-1zM41 9h1v1h-1zM43 9h1v1h-1zM34 10h1v1h-1zM5 11h1v1h-1zM7 11h1v1h-1zM31 11h1v1h-1zM44 11h1v1h-1zM47 11h1v1h-1zM6 12h1v1h-1zM21 12h1v1h-1zM48 12h1v1h-1zM6 13h1v1h-1zM14 13h1v1h-1zM34 13h1v1h-1zM33 14h1v1h-1zM6 15h1v1h-1zM14 15h1v1h-1zM19 15h1v1h-1zM21 15h1v1h-1zM31 15h1v1h-1zM20 16h1v1h-1zM34 22h1v1h-1zM6 24h1v1h-1zM20 24h1v1h-1zM31 25h2v1h-2zM20 27h1v1h-1zM20 29h1v1h-1zM6 31h1v1h-1zM6 33h1v1h-1zM6 35h1v1h-1zM48 36h1v1h-1zM25 38h1v1h-1z"/><path fill="#5052a0" d="M3 0h1v1h-1zM14 0h1v1h-1zM19 0h1v1h-1zM25 0h1v1h-1zM33 0h1v1h-1zM39 0h1v1h-1zM48 0h1v1h-1zM3 1h1v1h-1zM7 1h2v1h-2zM12 1h1v1h-1zM21 1h1v1h-1zM23 1h1v1h-1zM26 1h1v1h-1zM16 2h1v1h-1zM18 2h2v1h-2zM22 2h2v1h-2zM27 2h1v1h-1zM38 2h1v1h-1zM44 2h1v1h-1zM7 3h1v1h-1zM10 3h1v1h-1zM12 3h2v1h-2zM32 3h2v1h-2zM42 3h3v1h-3zM8 4h1v1h-1zM11 4h1v1h-1zM19 4h1v1h-1zM34 4h1v1h-1zM38 4h1v1h-1zM44 4h1v1h-1zM11 5h1v1h-1zM17 5h1v1h-1zM19 5h1v1h-1zM21 5h1v1h-1zM28 5h1v1h-1zM30 5h1v1h-1zM36 5h1v1h-1zM6 6h1v1h-1zM11 6h1v1h-1zM13 6h1v1h-1zM15 6h1v1h-1zM24 6h1v1h-1zM32 6h2v1h-2zM44 6h1v1h-1zM8 7h1v1h-1zM14 7h1v1h-1zM21 7h1v1h-1zM8 8h1v1h-1zM19 8h1v1h-1zM25 8h2v1h-2zM34 8h1v1h-1zM41 8h1v1h-1zM6 9h1v1h-1zM14 9h1v1h-1zM19 9h1v1h-1zM44 9h1v1h-1zM19 10h1v1h-1zM28 10h1v1h-1zM38 10h1v1h-1zM44 10h1v1h-1zM12 11h1v1h-1zM20 11h3v1h-3zM3 12h1v1h-1zM5 12h1v1h-1zM7 12h1v1h-1zM19 12h1v1h-1zM29 12h1v1h-1zM31 12h2v1h-2zM36 12h1v1h-1zM43 12h1v1h-1zM16 13h1v1h-1zM29 13h1v1h-1zM5 14h1v1h-1zM9 14h1v1h-1zM21 14h1v1h-1zM23 14h1v1h-1zM0 15h1v1h-1zM5 15h1v1h-1zM24 15h1v1h-1zM34 15h1v1h-1zM37 15h2v1h-2zM32 16h1v1h-1zM31 21h1v1h-1zM16 23h1v1h-1zM14 25h1v1h-1zM20 26h1v1h-1zM16 27h1v1h-1zM6 28h1v1h-1zM8 31h1v1h-1zM48 31h1v1h-1zM22 33h1v1h-1zM32 34h1v1h-1zM5 35h1v1h-1zM22 39h1v1h-1zM34 39h1v1h-1zM43 39h1v1h-1z"/><path fill="#6d6fb0" d="M1 0h1v1h-1zM11 0h1v1h-1zM23 0h1v1h-1zM26 0h1v1h-1zM40 0h1v1h-1zM42 0h1v1h-1zM11 1h1v1h-1zM14 1h1v1h-1zM16 1h1v1h-1zM24 1h1v1h-1zM43 1h1v1h-1zM45 1h1v1h-1zM47 1h1v1h-1zM1 2h1v1h-1zM3 2h1v1h-1zM8 2h1v1h-1zM10 2h1v1h-1zM21 2h1v1h-1zM24 2h1v1h-1zM29 2h1v1h-1zM31 2h1v1h-1zM33 2h1v1h-1zM35 2h1v1h-1zM37 2h1v1h-1zM42 2h2v1h-2zM16 3h1v1h-1zM19 3h1v1h-1zM38 3h1v1h-1zM40 3h1v1h-1zM49 3h1v1h-1zM21 4h3v1h-3zM45 4h1v1h-1zM0 5h1v1h-1zM15 5h1v1h-1zM24 5h2v1h-2zM27 5h1v1h-1zM37 5h2v1h-2zM49 5h1v1h-1zM19 6h1v1h-1zM21 6h1v1h-1zM29 6h1v1h-1zM43 6h1v1h-1zM45 6h1v1h-1zM7 7h1v1h-1zM11 7h2v1h-2zM16 7h1v1h-1zM42 7h1v1h-1zM47 7h1v1h-1zM14 8h1v1h-1zM24 8h1v1h-1zM33 8h1v1h-1zM44 8h1v1h-1zM3 9h1v1h-1zM13 9h1v1h-1zM22 9h1v1h-1zM24 9h1v1h-1zM31 9h1v1h-1zM35 9h1v1h-1zM12 10h1v1h-1zM14 10h1v1h-1zM16 10h1v1h-1zM29 10h1v1h-1zM40 10h2v1h-2zM43 10h1v1h-1zM48 10h1v1h-1zM11 11h1v1h-1zM14 11h1v1h-1zM33 11h2v1h-2zM41 11h3v1h-3zM1 12h1v1h-1zM12 12h1v1h-1zM16 12h1v1h-1zM25 12h1v1h-1zM42 12h1v1h-1zM44 12h1v1h-1zM47 12h1v1h-1zM8 13h1v1h-1zM19 13h1v1h-1zM27 13h1v1h-1zM31 13h1v1h-1zM40 13h1v1h-1zM45 13h1v1h-1zM13 14h2v1h-2zM26 14h1v1h-1zM30 14h1v1h-1zM38 14h1v1h-1zM43 14h1v1h-1zM3 15h1v1h-1zM22 15h1v1h-1zM45 15h1v1h-1zM48 21h1v1h-1zM20 22h1v1h-1zM42 22h1v1h-1zM6 23h1v1h-1zM13 24h2v1h-2zM22 24h1v1h-1zM8 25h1v1h-1zM19 25h1v1h-1zM22 26h1v1h-1zM41 26h1v1h-1zM32 28h1v1h-1zM32 32h1v1h-1zM40 32h1v1h-1zM32 33h1v1h-1zM20 34h1v1h-1zM21 35h1v1h-1zM34 36h1v1h-1zM41 36h1v1h-1zM20 37h1v1h-1zM42 37h1v1h-1zM19 38h1v1h-1zM30 38h1v1h-1zM20 39h1v1h-1z"/><path fill="#8a8cc0" d="M15 0h1v1h-1zM24 0h1v1h-1zM45 0h2v1h-2zM13 1h1v1h-1zM37 1h1v1h-1zM40 1h2v1h-2zM5 2h1v1h-1zM28 2h1v1h-1zM3 3h1v1h-1zM6 3h1v1h-1zM24 3h2v1h-2zM28 3h1v1h-1zM30 3h1v1h-1zM35 3h1v1h-1zM0 4h1v1h-1zM28 4h3v1h-3zM42 4h1v1h-1zM7 5h1v1h-1zM18 5h1v1h-1zM35 5h1v1h-1zM39 5h1v1h-1zM43 5h1v1h-1zM2 6h1v1h-1zM10 6h1v1h-1zM18 6h1v1h-1zM42 6h1v1h-1zM2 7h2v1h-2zM26 7h1v1h-1zM28 7h1v1h-1zM30 7h1v1h-1zM38 7h1v1h-1zM43 7h1v1h-1zM2 8h1v1h-1zM5 8h1v1h-1zM18 8h1v1h-1zM21 8h1v1h-1zM30 8h1v1h-1zM35 8h1v1h-1zM39 8h1v1h-1zM42 8h2v1h-2zM8 9h1v1h-1zM12 9h1v1h-1zM23 9h1v1h-1zM26 9h1v1h-1zM28 9h1v1h-1zM33 9h1v1h-1zM39 9h1v1h-1zM47 9h1v1h-1zM13 10h1v1h-1zM18 10h1v1h-1zM22 10h1v1h-1zM30 10h1v1h-1zM32 10h1v1h-1zM35 10h1v1h-1zM37 10h1v1h-1zM42 10h1v1h-1zM46 10h1v1h-1zM26 12h1v1h-1zM28 12h1v1h-1zM5 13h1v1h-1zM13 13h1v1h-1zM18 13h1v1h-1zM44 13h1v1h-1zM48 13h1v1h-1zM8 14h1v1h-1zM22 14h1v1h-1zM28 14h1v1h-1zM36 14h1v1h-1zM39 14h1v1h-1zM48 14h1v1h-1zM17 15h1v1h-1zM42 15h1v1h-1zM14 17h1v1h-1zM6 18h1v1h-1zM28 19h1v1h-1zM14 21h1v1h-1zM31 22h1v1h-1zM38 22h1v1h-1zM14 23h1v1h-1zM21 23h1v1h-1zM32 23h1v1h-1zM44 23h1v1h-1zM32 24h1v1h-1zM12 25h1v1h-1zM44 25h2v1h-2zM6 26h1v1h-1zM12 26h1v1h-1zM32 26h1v1h-1zM32 27h1v1h-1zM41 27h1v1h-1zM31 28h1v1h-1zM6 30h1v1h-1zM22 30h1v1h-1zM41 30h1v1h-1zM48 30h1v1h-1zM11 31h2v1h-2zM22 32h1v1h-1zM44 32h1v1h-1zM47 32h1v1h-1zM20 33h1v1h-1zM25 33h1v1h-1zM43 33h2v1h-2zM3 34h1v1h-1zM19 34h1v1h-1zM11 35h1v1h-1zM20 35h1v1h-1zM30 35h1v1h-1zM7 36h1v1h-1zM21 36h1v1h-1zM6 37h1v1h-1zM23 37h1v1h-1zM38 37h1v1h-1zM6 38h1v1h-1zM16 38h1v1h-1zM31 38h1v1h-1zM44 38h1v1h-1z"/><path fill="#a8a8cf" d="M9 0h1v1h-1zM27 0h1v1h-1zM29 0h2v1h-2zM34 0h1v1h-1zM43 0h1v1h-1zM0 1h1v1h-1zM10 1h1v1h-1zM19 1h1v1h-1zM29 1h1v1h-1zM46 1h1v1h-1zM49 1h1v1h-1zM0 2h1v1h-1zM17 2h1v1h-1zM49 2h1v1h-1zM0 3h1v1h-1zM11 3h1v1h-1zM27 3h1v1h-1zM37 3h1v1h-1zM41 3h1v1h-1zM46 3h1v1h-1zM36 4h2v1h-2zM40 4h1v1h-1zM47 4h1v1h-1zM3 5h1v1h-1zM31 5h1v1h-1zM40 5h1v1h-1zM48 5h1v1h-1zM1 6h1v1h-1zM30 6h1v1h-1zM18 7h1v1h-1zM23 7h1v1h-1zM29 7h1v1h-1zM37 7h1v1h-1zM40 7h1v1h-1zM10 8h1v1h-1zM17 8h1v1h-1zM46 8h1v1h-1zM1 9h1v1h-1zM7 9h1v1h-1zM42 9h1v1h-1zM3 10h1v1h-1zM7 10h2v1h-2zM11 10h1v1h-1zM23 10h1v1h-1zM26 10h1v1h-1zM47 10h1v1h-1zM1 11h1v1h-1zM25 11h1v1h-1zM28 11h1v1h-1zM40 11h1v1h-1zM10 12h1v1h-1zM30 12h1v1h-1zM41 12h1v1h-1zM1 13h1v1h-1zM7 13h1v1h-1zM12 13h1v1h-1zM23 13h1v1h-1zM26 13h1v1h-1zM35 13h1v1h-1zM38 13h1v1h-1zM47 13h1v1h-1zM12 14h1v1h-1zM24 14h1v1h-1zM29 14h1v1h-1zM31 14h1v1h-1zM40 14h1v1h-1zM42 14h1v1h-1zM47 14h1v1h-1zM10 15h1v1h-1zM16 15h1v1h-1zM18 15h1v1h-1zM26 15h1v1h-1zM28 15h1v1h-1zM47 15h1v1h-1zM34 16h1v1h-1zM22 17h1v1h-1zM26 18h1v1h-1zM20 19h1v1h-1zM20 20h1v1h-1zM34 20h1v1h-1zM6 21h1v1h-1zM11 21h1v1h-1zM18 21h1v1h-1zM20 21h1v1h-1zM29 21h1v1h-1zM8 22h1v1h-1zM27 22h1v1h-1zM30 22h1v1h-1zM26 23h1v1h-1zM48 23h1v1h-1zM19 24h1v1h-1zM20 25h1v1h-1zM22 25h1v1h-1zM24 25h1v1h-1zM26 25h1v1h-1zM34 25h1v1h-1zM42 25h1v1h-1zM3 26h1v1h-1zM14 26h1v1h-1zM21 26h1v1h-1zM12 27h1v1h-1zM48 27h1v1h-1zM14 28h1v1h-1zM31 30h1v1h-1zM18 31h1v1h-1zM32 31h1v1h-1zM35 31h1v1h-1zM41 31h1v1h-1zM6 32h1v1h-1zM19 32h2v1h-2zM18 33h1v1h-1zM48 33h1v1h-1zM6 34h1v1h-1zM38 34h1v1h-1zM15 35h1v1h-1zM28 35h1v1h-1zM35 35h1v1h-1zM8 36h3v1h-3zM13 36h1v1h-1zM20 36h1v1h-1zM26 36h1v1h-1zM32 36h1v1h-1zM40 36h1v1h-1zM11 37h1v1h-1zM22 37h1v1h-1zM30 37h1v1h-1zM12 38h1v1h-1zM29 38h1v1h-1zM33 38h1v1h-1zM35 38h1v1h-1zM42 38h1v1h-1zM46 38h1v1h-1zM6 39h1v1h-1zM12 39h1v1h-1zM21 39h1v1h-1zM29 39h1v1h-1zM32 39h1v1h-1z"/><path fill="#c5c5df" d="M9 1h1v1h-1zM17 1h2v1h-2zM7 2h1v1h-1zM13 2h1v1h-1zM15 2h1v1h-1zM26 2h1v1h-1zM39 2h1v1h-1zM36 3h1v1h-1zM5 4h1v1h-1zM26 4h1v1h-1zM41 4h1v1h-1zM12 5h1v1h-1zM22 5h1v1h-1zM49 6h1v1h-1zM1 7h1v1h-1zM17 7h1v1h-1zM35 7h1v1h-1zM39 7h1v1h-1zM9 8h1v1h-1zM45 8h1v1h-1zM47 8h1v1h-1zM25 9h1v1h-1zM27 9h1v1h-1zM30 9h1v1h-1zM48 9h1v1h-1zM5 10h1v1h-1zM15 10h1v1h-1zM2 11h1v1h-1zM8 11h1v1h-1zM23 11h2v1h-2zM35 11h1v1h-1zM37 11h1v1h-1zM4 12h1v1h-1zM17 12h1v1h-1zM0 13h1v1h-1zM17 13h1v1h-1zM27 14h1v1h-1zM44 14h1v1h-1zM11 15h1v1h-1zM15 15h1v1h-1zM23 15h1v1h-1zM25 15h1v1h-1zM35 15h1v1h-1zM41 15h1v1h-1zM43 15h1v1h-1zM6 17h1v1h-1zM12 18h1v1h-1zM48 18h1v1h-1zM38 19h1v1h-1zM8 20h1v1h-1zM32 20h1v1h-1zM22 22h1v1h-1zM47 22h2v1h-2zM39 23h1v1h-1zM41 23h1v1h-1zM12 24h1v1h-1zM23 24h1v1h-1zM31 24h1v1h-1zM42 24h1v1h-1zM3 25h1v1h-1zM6 25h1v1h-1zM16 25h1v1h-1zM28 25h2v1h-2zM48 26h1v1h-1zM13 27h2v1h-2zM47 27h1v1h-1zM7 28h2v1h-2zM36 28h1v1h-1zM40 28h1v1h-1zM42 28h1v1h-1zM18 29h1v1h-1zM31 29h1v1h-1zM41 29h1v1h-1zM0 30h1v1h-1zM12 30h1v1h-1zM16 30h1v1h-1zM43 30h1v1h-1zM49 30h1v1h-1zM20 31h1v1h-1zM38 31h1v1h-1zM43 31h1v1h-1zM34 32h1v1h-1zM42 32h1v1h-1zM8 33h1v1h-1zM35 34h1v1h-1zM48 34h1v1h-1zM12 35h1v1h-1zM32 35h1v1h-1zM16 36h1v1h-1zM18 36h1v1h-1zM29 36h2v1h-2zM43 36h1v1h-1zM5 37h1v1h-1zM31 37h1v1h-1zM13 38h1v1h-1zM22 38h1v1h-1zM5 39h1v1h-1zM25 39h1v1h-1z"/><path fill="#e2e2ef" d="M0 0h1v1h-1zM12 0h1v1h-1zM34 2h1v1h-1zM48 2h1v1h-1zM2 3h1v1h-1zM5 3h1v1h-1zM9 4h1v1h-1zM43 4h1v1h-1zM23 5h1v1h-1zM37 6h2v1h-2zM41 6h1v1h-1zM0 8h1v1h-1zM4 8h1v1h-1zM0 10h1v1h-1zM31 10h1v1h-1zM0 11h1v1h-1zM16 11h1v1h-1zM49 12h1v1h-1zM2 13h2v1h-2zM9 13h3v1h-3zM20 13h2v1h-2zM41 13h1v1h-1zM46 13h1v1h-1zM30 15h1v1h-1zM16 19h1v1h-1zM6 20h1v1h-1zM8 21h1v1h-1zM44 21h1v1h-1zM47 21h1v1h-1zM6 22h1v1h-1zM19 23h1v1h-1zM25 23h1v1h-1zM42 23h1v1h-1zM5 25h1v1h-1zM27 25h1v1h-1zM31 27h1v1h-1zM42 27h1v1h-1zM20 28h1v1h-1zM23 28h1v1h-1zM40 29h1v1h-1zM28 30h1v1h-1zM45 30h1v1h-1zM9 31h1v1h-1zM10 33h1v1h-1zM19 33h1v1h-1zM21 34h1v1h-1zM44 34h1v1h-1zM8 35h1v1h-1zM13 35h1v1h-1zM25 35h1v1h-1zM11 36h1v1h-1zM14 36h1v1h-1zM22 36h2v1h-2zM25 36h1v1h-1zM31 36h1v1h-1zM42 36h1v1h-1zM19 37h1v1h-1zM37 37h1v1h-1zM41 37h1v1h-1zM43 38h1v1h-1zM8 39h1v1h-1zM26 39h1v1h-1zM28 39h1v1h-1z"/><path fill="#ffffff" d="M6 0h1v1h-1zM27 1h1v1h-1zM39 1h1v1h-1zM13 5h1v1h-1zM7 6h1v1h-1zM33 7h1v1h-1zM1 8h1v1h-1zM13 8h1v1h-1zM27 8h1v1h-1zM40 8h1v1h-1zM4 9h1v1h-1zM10 10h1v1h-1zM10 11h1v1h-1zM45 11h1v1h-1zM2 12h1v1h-1zM35 14h1v1h-1zM44 17h1v1h-1zM32 18h1v1h-1zM3 21h1v1h-1zM28 21h1v1h-1zM35 22h1v1h-1zM40 22h1v1h-1zM24 24h1v1h-1zM38 26h1v1h-1zM21 28h1v1h-1zM24 28h1v1h-1zM38 28h1v1h-1zM48 28h1v1h-1zM16 29h1v1h-1zM19 30h1v1h-1zM36 31h1v1h-1zM43 32h1v1h-1zM8 34h1v1h-1zM16 34h1v1h-1zM17 35h1v1h-1zM27 36h1v1h-1zM39 39h1v1h-1z"/><path fill="#f9e4e4" d="M13 0h1v1h-1zM37 0h1v1h-1zM44 1h1v1h-1zM41 2h1v1h-1zM15 3h1v1h-1zM26 3h1v1h-1zM47 3h1v1h-1zM17 4h1v1h-1zM9 5h1v1h-1zM27 6h2v1h-2zM35 6h1v1h-1zM46 6h1v1h-1zM9 7h1v1h-1zM13 7h1v1h-1zM15 7h1v1h-1zM27 7h1v1h-1zM44 7h1v1h-1zM5 9h1v1h-1zM45 9h1v1h-1zM25 10h1v1h-1zM36 10h1v1h-1zM26 11h1v1h-1zM30 11h1v1h-1zM8 12h1v1h-1zM15 12h1v1h-1zM33 12h1v1h-1zM30 13h1v1h-1zM33 13h1v1h-1zM43 13h1v1h-1zM19 14h1v1h-1zM46 14h1v1h-1zM12 15h1v1h-1zM33 15h1v1h-1zM36 15h1v1h-1zM31 16h1v1h-1zM43 16h1v1h-1zM18 18h1v1h-1zM38 18h1v1h-1zM43 18h1v1h-1zM16 20h1v1h-1zM34 21h1v1h-1zM3 22h1v1h-1zM8 24h1v1h-1zM44 24h1v1h-1zM0 25h1v1h-1zM18 26h1v1h-1zM28 26h1v1h-1zM7 27h1v1h-1zM38 27h1v1h-1zM39 28h1v1h-1zM8 30h1v1h-1zM34 30h1v1h-1zM38 30h1v1h-1zM1 31h1v1h-1zM31 31h1v1h-1zM0 32h1v1h-1zM7 32h1v1h-1zM30 32h2v1h-2zM38 32h1v1h-1zM12 33h1v1h-1zM14 33h1v1h-1zM24 33h1v1h-1zM26 33h1v1h-1zM41 33h1v1h-1zM34 34h1v1h-1zM19 35h1v1h-1zM22 35h2v1h-2zM42 35h1v1h-1zM48 35h2v1h-2zM3 36h1v1h-1zM6 36h1v1h-1zM19 36h1v1h-1zM35 36h1v1h-1zM3 37h1v1h-1zM8 37h1v1h-1zM32 37h1v1h-1zM17 38h1v1h-1zM21 38h1v1h-1zM16 39h1v1h-1z"/><path fill="#f2c9c9" d="M36 2h1v1h-1zM45 2h1v1h-1zM1 3h1v1h-1zM4 3h1v1h-1zM9 3h1v1h-1zM1 4h1v1h-1zM3 4h1v1h-1zM15 4h1v1h-1zM49 4h1v1h-1zM29 5h1v1h-1zM33 5h1v1h-1zM45 5h2v1h-2zM5 6h1v1h-1zM17 6h1v1h-1zM39 6h1v1h-1zM47 6h1v1h-1zM11 8h1v1h-1zM15 8h1v1h-1zM11 9h1v1h-1zM40 9h1v1h-1zM46 9h1v1h-1zM49 9h1v1h-1zM21 10h1v1h-1zM45 10h1v1h-1zM3 11h1v1h-1zM27 11h1v1h-1zM29 11h1v1h-1zM38 11h1v1h-1zM0 12h1v1h-1zM9 12h1v1h-1zM23 12h1v1h-1zM27 12h1v1h-1zM4 13h1v1h-1zM24 13h2v1h-2zM37 13h1v1h-1zM42 13h1v1h-1zM7 14h1v1h-1zM25 14h1v1h-1zM45 14h1v1h-1zM7 15h1v1h-1zM39 15h2v1h-2zM8 16h1v1h-1zM49 16h1v1h-1zM8 17h1v1h-1zM32 17h1v1h-1zM0 18h1v1h-1zM31 18h1v1h-1zM8 19h1v1h-1zM14 19h1v1h-1zM25 19h1v1h-1zM27 19h1v1h-1zM49 19h1v1h-1zM41 20h1v1h-1zM49 20h1v1h-1zM12 21h1v1h-1zM16 21h2v1h-2zM37 21h1v1h-1zM41 21h2v1h-2zM5 22h1v1h-1zM11 22h1v1h-1zM16 22h1v1h-1zM23 22h1v1h-1zM26 22h1v1h-1zM43 22h1v1h-1zM17 23h1v1h-1zM28 23h1v1h-1zM34 24h1v1h-1zM36 24h1v1h-1zM48 24h1v1h-1zM9 25h1v1h-1zM1 26h1v1h-1zM35 26h1v1h-1zM5 27h1v1h-1zM19 27h1v1h-1zM24 27h1v1h-1zM34 27h1v1h-1zM37 27h1v1h-1zM5 28h1v1h-1zM16 28h1v1h-1zM30 28h1v1h-1zM37 28h1v1h-1zM47 28h1v1h-1zM6 29h1v1h-1zM23 29h1v1h-1zM34 29h1v1h-1zM44 29h1v1h-1zM29 30h1v1h-1zM0 31h1v1h-1zM14 31h1v1h-1zM21 31h1v1h-1zM23 31h1v1h-1zM27 31h1v1h-1zM42 31h1v1h-1zM44 31h1v1h-1zM47 31h1v1h-1zM8 32h1v1h-1zM48 32h1v1h-1zM1 33h1v1h-1zM31 33h1v1h-1zM34 33h1v1h-1zM42 33h1v1h-1zM23 34h1v1h-1zM0 35h1v1h-1zM26 35h1v1h-1zM43 35h1v1h-1zM2 36h1v1h-1zM39 36h1v1h-1zM0 37h1v1h-1zM14 37h1v1h-1zM26 37h1v1h-1zM1 38h1v1h-1z"/><path fill="#ecaeae" d="M2 0h1v1h-1zM35 0h2v1h-2zM30 1h1v1h-1zM4 2h1v1h-1zM25 2h1v1h-1zM46 2h1v1h-1zM18 4h1v1h-1zM24 4h1v1h-1zM27 4h1v1h-1zM26 6h1v1h-1zM25 7h1v1h-1zM36 7h1v1h-1zM45 7h1v1h-1zM23 8h1v1h-1zM37 8h1v1h-1zM49 8h1v1h-1zM17 9h1v1h-1zM37 9h1v1h-1zM24 10h1v1h-1zM27 10h1v1h-1zM9 11h1v1h-1zM11 12h1v1h-1zM13 12h1v1h-1zM18 12h1v1h-1zM40 12h1v1h-1zM45 12h1v1h-1zM36 13h1v1h-1zM39 13h1v1h-1zM2 14h1v1h-1zM10 14h1v1h-1zM15 14h1v1h-1zM41 14h1v1h-1zM49 14h1v1h-1zM13 15h1v1h-1zM29 15h1v1h-1zM46 15h1v1h-1zM49 15h1v1h-1zM6 16h1v1h-1zM14 16h1v1h-1zM35 16h1v1h-1zM41 16h1v1h-1zM44 16h1v1h-1zM0 17h1v1h-1zM20 17h1v1h-1zM48 17h1v1h-1zM36 18h1v1h-1zM45 18h1v1h-1zM6 19h1v1h-1zM22 19h1v1h-1zM31 19h1v1h-1zM21 20h1v1h-1zM31 20h1v1h-1zM47 20h1v1h-1zM5 21h1v1h-1zM15 21h1v1h-1zM38 21h1v1h-1zM2 22h1v1h-1zM9 22h1v1h-1zM12 22h1v1h-1zM18 22h1v1h-1zM0 23h2v1h-2zM11 23h1v1h-1zM18 23h1v1h-1zM22 23h1v1h-1zM24 23h1v1h-1zM31 23h1v1h-1zM35 23h1v1h-1zM38 23h1v1h-1zM46 23h1v1h-1zM5 24h1v1h-1zM7 24h1v1h-1zM33 24h1v1h-1zM38 24h1v1h-1zM43 24h1v1h-1zM23 25h1v1h-1zM35 25h1v1h-1zM38 25h1v1h-1zM48 25h1v1h-1zM9 26h1v1h-1zM11 26h1v1h-1zM19 26h1v1h-1zM47 26h1v1h-1zM18 27h1v1h-1zM22 27h1v1h-1zM26 27h1v1h-1zM49 27h1v1h-1zM12 28h1v1h-1zM19 28h1v1h-1zM34 28h1v1h-1zM41 28h1v1h-1zM44 28h1v1h-1zM7 29h1v1h-1zM10 29h1v1h-1zM22 29h1v1h-1zM27 29h1v1h-1zM15 30h1v1h-1zM18 30h1v1h-1zM23 30h1v1h-1zM30 30h1v1h-1zM32 30h1v1h-1zM44 30h1v1h-1zM13 31h1v1h-1zM16 31h1v1h-1zM25 31h1v1h-1zM23 32h1v1h-1zM35 32h1v1h-1zM4 33h2v1h-2zM0 34h1v1h-1zM11 34h1v1h-1zM29 34h1v1h-1zM7 35h1v1h-1zM9 35h1v1h-1zM16 35h1v1h-1zM18 35h1v1h-1zM31 35h1v1h-1zM41 35h1v1h-1zM5 36h1v1h-1zM44 36h1v1h-1zM15 37h1v1h-1zM21 37h1v1h-1zM48 37h1v1h-1zM0 38h1v1h-1zM9 38h1v1h-1zM18 38h1v1h-1zM23 38h1v1h-1zM28 38h1v1h-1zM41 38h1v1h-1zM45 38h1v1h-1zM48 38h1v1h-1zM10 39h2v1h-2zM14 39h1v1h-1zM19 39h1v1h-1zM31 39h1v1h-1zM38 39h1v1h-1z"/><path fill="#e69292" d="M4 0h1v1h-1zM28 0h1v1h-1zM2 1h1v1h-1zM28 1h1v1h-1zM36 1h1v1h-1zM9 2h1v1h-1zM30 2h1v1h-1zM39 4h1v1h-1zM46 4h1v1h-1zM2 5h1v1h-1zM4 6h1v1h-1zM4 7h1v1h-1zM9 9h1v1h-1zM18 9h1v1h-1zM29 9h1v1h-1zM2 10h1v1h-1zM49 10h1v1h-1zM15 11h1v1h-1zM17 11h2v1h-2zM46 11h1v1h-1zM24 12h1v1h-1zM35 12h1v1h-1zM37 12h1v1h-1zM15 13h1v1h-1zM49 13h1v1h-1zM3 14h1v1h-1zM27 15h1v1h-1zM16 16h1v1h-1zM21 16h1v1h-1zM26 16h1v1h-1zM48 16h1v1h-1zM1 17h1v1h-1zM11 17h1v1h-1zM15 17h1v1h-1zM38 17h1v1h-1zM42 17h1v1h-1zM19 18h1v1h-1zM21 18h1v1h-1zM33 18h1v1h-1zM41 18h1v1h-1zM1 19h1v1h-1zM7 19h1v1h-1zM19 19h1v1h-1zM42 19h1v1h-1zM24 20h1v1h-1zM44 20h1v1h-1zM46 20h1v1h-1zM2 21h1v1h-1zM13 21h1v1h-1zM22 21h1v1h-1zM26 21h2v1h-2zM30 21h1v1h-1zM32 21h1v1h-1zM45 21h2v1h-2zM0 22h1v1h-1zM14 22h1v1h-1zM19 22h1v1h-1zM21 22h1v1h-1zM32 22h1v1h-1zM41 22h1v1h-1zM44 22h1v1h-1zM5 23h1v1h-1zM7 23h1v1h-1zM9 23h1v1h-1zM29 23h2v1h-2zM49 23h1v1h-1zM0 24h1v1h-1zM16 24h1v1h-1zM21 24h1v1h-1zM25 24h2v1h-2zM28 24h3v1h-3zM40 24h1v1h-1zM11 25h1v1h-1zM21 25h1v1h-1zM33 25h1v1h-1zM41 25h1v1h-1zM43 25h1v1h-1zM46 25h2v1h-2zM5 26h1v1h-1zM13 26h1v1h-1zM25 26h1v1h-1zM33 26h1v1h-1zM37 26h1v1h-1zM40 26h1v1h-1zM43 26h1v1h-1zM0 27h1v1h-1zM2 27h1v1h-1zM23 27h1v1h-1zM25 27h1v1h-1zM40 27h1v1h-1zM43 27h1v1h-1zM1 28h1v1h-1zM3 28h1v1h-1zM10 28h2v1h-2zM27 28h1v1h-1zM43 28h1v1h-1zM8 29h1v1h-1zM12 29h2v1h-2zM24 29h1v1h-1zM29 29h1v1h-1zM32 29h1v1h-1zM35 29h1v1h-1zM46 29h1v1h-1zM10 30h2v1h-2zM13 30h1v1h-1zM21 30h1v1h-1zM25 30h1v1h-1zM36 30h1v1h-1zM42 30h1v1h-1zM47 30h1v1h-1zM3 31h1v1h-1zM10 31h1v1h-1zM29 31h1v1h-1zM45 31h2v1h-2zM4 32h1v1h-1zM9 32h2v1h-2zM14 32h1v1h-1zM24 32h2v1h-2zM28 32h2v1h-2zM41 32h1v1h-1zM45 32h1v1h-1zM9 33h1v1h-1zM13 33h1v1h-1zM16 33h1v1h-1zM21 33h1v1h-1zM38 33h1v1h-1zM49 33h1v1h-1zM12 34h1v1h-1zM15 34h1v1h-1zM27 34h1v1h-1zM31 34h1v1h-1zM37 34h1v1h-1zM42 34h1v1h-1zM3 35h1v1h-1zM10 35h1v1h-1zM27 35h1v1h-1zM29 35h1v1h-1zM44 35h2v1h-2zM47 35h1v1h-1zM12 36h1v1h-1zM17 36h1v1h-1zM37 36h2v1h-2zM45 36h1v1h-1zM7 37h1v1h-1zM25 37h1v1h-1zM35 37h1v1h-1zM40 37h1v1h-1zM44 37h1v1h-1zM49 37h1v1h-1zM8 38h1v1h-1zM15 38h1v1h-1zM32 38h1v1h-1zM47 38h1v1h-1zM0 39h1v1h-1zM3 39h1v1h-1zM24 39h1v1h-1zM30 39h1v1h-1zM36 39h1v1h-1zM45 39h1v1h-1z"/><path fill="#e07777" d="M17 0h2v1h-2zM47 0h1v1h-1zM2 2h1v1h-1zM45 3h1v1h-1zM4 4h1v1h-1zM35 4h1v1h-1zM40 6h1v1h-1zM10 7h1v1h-1zM49 7h1v1h-1zM15 9h1v1h-1zM36 9h1v1h-1zM1 10h1v1h-1zM17 10h1v1h-1zM39 10h1v1h-1zM19 11h1v1h-1zM36 11h1v1h-1zM46 12h1v1h-1zM18 14h1v1h-1zM2 15h1v1h-1zM9 15h1v1h-1zM25 16h1v1h-1zM37 16h1v1h-1zM42 16h1v1h-1zM12 17h1v1h-1zM24 17h1v1h-1zM26 17h1v1h-1zM28 17h1v1h-1zM31 17h1v1h-1zM33 17h1v1h-1zM35 17h1v1h-1zM43 17h1v1h-1zM49 17h1v1h-1zM5 18h1v1h-1zM16 18h1v1h-1zM20 18h1v1h-1zM24 18h1v1h-1zM28 18h1v1h-1zM34 18h1v1h-1zM42 18h1v1h-1zM44 18h1v1h-1zM23 19h1v1h-1zM26 19h1v1h-1zM32 19h1v1h-1zM40 19h1v1h-1zM45 19h1v1h-1zM0 20h1v1h-1zM29 20h1v1h-1zM36 20h1v1h-1zM10 21h1v1h-1zM19 21h1v1h-1zM21 21h1v1h-1zM36 21h1v1h-1zM40 21h1v1h-1zM29 22h1v1h-1zM36 22h2v1h-2zM12 23h2v1h-2zM27 23h1v1h-1zM33 23h2v1h-2zM3 24h1v1h-1zM47 24h1v1h-1zM1 25h1v1h-1zM7 25h1v1h-1zM10 25h1v1h-1zM13 25h1v1h-1zM15 25h1v1h-1zM18 25h1v1h-1zM36 25h1v1h-1zM40 25h1v1h-1zM7 26h2v1h-2zM10 26h1v1h-1zM24 26h1v1h-1zM26 26h1v1h-1zM34 26h1v1h-1zM39 26h1v1h-1zM42 26h1v1h-1zM3 27h2v1h-2zM11 27h1v1h-1zM15 27h1v1h-1zM21 27h1v1h-1zM28 27h1v1h-1zM46 27h1v1h-1zM18 28h1v1h-1zM22 28h1v1h-1zM28 28h2v1h-2zM33 28h1v1h-1zM35 28h1v1h-1zM11 29h1v1h-1zM14 29h1v1h-1zM19 29h1v1h-1zM21 29h1v1h-1zM30 29h1v1h-1zM36 29h1v1h-1zM38 29h1v1h-1zM42 29h1v1h-1zM47 29h1v1h-1zM2 30h1v1h-1zM7 30h1v1h-1zM9 30h1v1h-1zM26 30h1v1h-1zM35 30h1v1h-1zM40 30h1v1h-1zM5 31h1v1h-1zM24 31h1v1h-1zM34 31h1v1h-1zM37 31h1v1h-1zM3 32h1v1h-1zM5 32h1v1h-1zM13 32h1v1h-1zM15 32h1v1h-1zM18 32h1v1h-1zM21 32h1v1h-1zM33 32h1v1h-1zM3 33h1v1h-1zM11 33h1v1h-1zM28 33h2v1h-2zM33 33h1v1h-1zM36 33h1v1h-1zM47 33h1v1h-1zM9 34h1v1h-1zM14 34h1v1h-1zM25 34h1v1h-1zM41 34h1v1h-1zM43 34h1v1h-1zM24 35h1v1h-1zM34 35h1v1h-1zM36 35h1v1h-1zM38 35h1v1h-1zM40 35h1v1h-1zM1 36h1v1h-1zM28 36h1v1h-1zM33 36h1v1h-1zM47 36h1v1h-1zM9 37h2v1h-2zM12 37h2v1h-2zM33 37h1v1h-1zM46 37h2v1h-2zM2 38h2v1h-2zM5 38h1v1h-1zM7 38h1v1h-1zM14 38h1v1h-1zM24 38h1v1h-1zM34 38h1v1h-1zM2 39h1v1h-1zM7 39h1v1h-1zM9 39h1v1h-1zM13 39h1v1h-1zM18 39h1v1h-1zM27 39h1v1h-1zM33 39h1v1h-1zM41 39h1v1h-1zM44 39h1v1h-1zM48 39h2v1h-2z"/><path fill="#da5c5c" d="M1 1h1v1h-1zM18 3h1v1h-1zM4 5h1v1h-1zM36 6h1v1h-1zM2 9h1v1h-1zM4 10h1v1h-1zM33 10h1v1h-1zM39 11h1v1h-1zM49 11h1v1h-1zM34 12h1v1h-1zM39 12h1v1h-1zM28 13h1v1h-1zM17 14h1v1h-1zM37 14h1v1h-1zM5 16h1v1h-1zM7 16h1v1h-1zM18 16h1v1h-1zM22 16h1v1h-1zM28 16h1v1h-1zM30 16h1v1h-1zM3 17h1v1h-1zM5 17h1v1h-1zM13 17h1v1h-1zM19 17h1v1h-1zM25 17h1v1h-1zM45 17h1v1h-1zM47 17h1v1h-1zM2 18h1v1h-1zM7 18h2v1h-2zM14 18h1v1h-1zM23 18h1v1h-1zM27 18h1v1h-1zM35 18h1v1h-1zM3 19h1v1h-1zM17 19h2v1h-2zM24 19h1v1h-1zM39 19h1v1h-1zM41 19h1v1h-1zM44 19h1v1h-1zM48 19h1v1h-1zM1 20h2v1h-2zM7 20h1v1h-1zM12 20h1v1h-1zM19 20h1v1h-1zM25 20h3v1h-3zM42 20h1v1h-1zM48 20h1v1h-1zM1 21h1v1h-1zM7 21h1v1h-1zM9 21h1v1h-1zM33 21h1v1h-1zM35 21h1v1h-1zM10 22h1v1h-1zM17 22h1v1h-1zM25 22h1v1h-1zM28 22h1v1h-1zM33 22h1v1h-1zM45 22h1v1h-1zM49 22h1v1h-1zM2 23h3v1h-3zM8 23h1v1h-1zM10 23h1v1h-1zM23 23h1v1h-1zM36 23h1v1h-1zM40 23h1v1h-1zM43 23h1v1h-1zM47 23h1v1h-1zM1 24h1v1h-1zM18 24h1v1h-1zM27 24h1v1h-1zM35 24h1v1h-1zM39 24h1v1h-1zM45 24h2v1h-2zM30 25h1v1h-1zM37 25h1v1h-1zM49 25h1v1h-1zM16 26h1v1h-1zM23 26h1v1h-1zM29 26h1v1h-1zM31 26h1v1h-1zM44 26h1v1h-1zM9 27h1v1h-1zM27 27h1v1h-1zM36 27h1v1h-1zM45 27h1v1h-1zM0 28h1v1h-1zM13 28h1v1h-1zM25 28h1v1h-1zM0 29h1v1h-1zM3 29h1v1h-1zM5 29h1v1h-1zM37 29h1v1h-1zM1 30h1v1h-1zM3 30h1v1h-1zM5 30h1v1h-1zM14 30h1v1h-1zM24 30h1v1h-1zM37 30h1v1h-1zM7 31h1v1h-1zM15 31h1v1h-1zM17 31h1v1h-1zM19 31h1v1h-1zM26 31h1v1h-1zM28 31h1v1h-1zM1 32h1v1h-1zM12 32h1v1h-1zM16 32h1v1h-1zM36 32h2v1h-2zM49 32h1v1h-1zM2 33h1v1h-1zM7 33h1v1h-1zM15 33h1v1h-1zM27 33h1v1h-1zM35 33h1v1h-1zM37 33h1v1h-1zM39 33h1v1h-1zM45 33h2v1h-2zM4 34h2v1h-2zM10 34h1v1h-1zM13 34h1v1h-1zM18 34h1v1h-1zM24 34h1v1h-1zM26 34h1v1h-1zM28 34h1v1h-1zM40 34h1v1h-1zM14 35h1v1h-1zM37 35h1v1h-1zM39 35h1v1h-1zM0 36h1v1h-1zM46 36h1v1h-1zM49 36h1v1h-1zM2 37h1v1h-1zM16 37h1v1h-1zM34 37h1v1h-1zM10 38h1v1h-1zM26 38h2v1h-2zM36 38h1v1h-1zM38 38h3v1h-3zM17 39h1v1h-1zM35 39h1v1h-1zM37 39h1v1h-1zM40 39h1v1h-1zM47 39h1v1h-1z"/><path fill="#d34141" d="M9 10h1v1h-1zM4 11h1v1h-1zM4 15h1v1h-1zM0 16h1v1h-1zM4 16h1v1h-1zM9 16h4v1h-4zM24 16h1v1h-1zM33 16h1v1h-1zM38 16h1v1h-1zM2 17h1v1h-1zM4 17h1v1h-1zM9 17h1v1h-1zM27 17h1v1h-1zM39 17h3v1h-3zM3 18h1v1h-1zM9 18h2v1h-2zM15 18h1v1h-1zM22 18h1v1h-1zM25 18h1v1h-1zM29 18h1v1h-1zM39 18h1v1h-1zM47 18h1v1h-1zM9 19h1v1h-1zM11 19h1v1h-1zM29 19h1v1h-1zM34 19h2v1h-2zM46 19h1v1h-1zM3 20h1v1h-1zM5 20h1v1h-1zM14 20h1v1h-1zM23 20h1v1h-1zM30 20h1v1h-1zM35 20h1v1h-1zM38 20h1v1h-1zM43 20h1v1h-1zM0 21h1v1h-1zM24 21h2v1h-2zM39 21h1v1h-1zM43 21h1v1h-1zM49 21h1v1h-1zM1 22h1v1h-1zM4 22h1v1h-1zM7 22h1v1h-1zM13 22h1v1h-1zM15 23h1v1h-1zM45 23h1v1h-1zM11 24h1v1h-1zM49 24h1v1h-1zM4 25h1v1h-1zM17 25h1v1h-1zM25 25h1v1h-1zM27 26h1v1h-1zM30 26h1v1h-1zM36 26h1v1h-1zM1 27h1v1h-1zM8 27h1v1h-1zM29 27h2v1h-2zM35 27h1v1h-1zM39 27h1v1h-1zM44 27h1v1h-1zM2 28h1v1h-1zM26 28h1v1h-1zM1 29h1v1h-1zM15 29h1v1h-1zM26 29h1v1h-1zM28 29h1v1h-1zM33 29h1v1h-1zM43 29h1v1h-1zM17 30h1v1h-1zM27 30h1v1h-1zM4 31h1v1h-1zM22 31h1v1h-1zM30 31h1v1h-1zM39 31h2v1h-2zM17 32h1v1h-1zM26 32h2v1h-2zM0 33h1v1h-1zM17 33h1v1h-1zM23 33h1v1h-1zM40 33h1v1h-1zM1 34h1v1h-1zM7 34h1v1h-1zM22 34h1v1h-1zM36 34h1v1h-1zM47 34h1v1h-1zM1 35h2v1h-2zM4 35h1v1h-1zM33 35h1v1h-1zM46 35h1v1h-1zM24 36h1v1h-1zM36 36h1v1h-1zM18 37h1v1h-1zM24 37h1v1h-1zM27 37h3v1h-3zM36 37h1v1h-1zM39 37h1v1h-1zM43 37h1v1h-1zM45 37h1v1h-1zM11 38h1v1h-1zM37 38h1v1h-1zM49 38h1v1h-1zM1 39h1v1h-1zM4 39h1v1h-1zM15 39h1v1h-1zM23 39h1v1h-1zM42 39h1v1h-1zM46 39h1v1h-1z"/><path fill="#cd2626" d="M4 1h1v1h-1zM17 3h1v1h-1zM13 11h1v1h-1zM4 14h1v1h-1zM1 16h3v1h-3zM13 16h1v1h-1zM15 16h1v1h-1zM17 16h1v1h-1zM19 16h1v1h-1zM23 16h1v1h-1zM27 16h1v1h-1zM29 16h1v1h-1zM36 16h1v1h-1zM39 16h2v1h-2zM45 16h3v1h-3zM7 17h1v1h-1zM10 17h1v1h-1zM16 17h3v1h-3zM21 17h1v1h-1zM23 17h1v1h-1zM29 17h2v1h-2zM34 17h1v1h-1zM36 17h2v1h-2zM46 17h1v1h-1zM1 18h1v1h-1zM4 18h1v1h-1zM11 18h1v1h-1zM13 18h1v1h-1zM17 18h1v1h-1zM30 18h1v1h-1zM37 18h1v1h-1zM40 18h1v1h-1zM46 18h1v1h-1zM49 18h1v1h-1zM0 19h1v1h-1zM2 19h1v1h-1zM4 19h2v1h-2zM10 19h1v1h-1zM12 19h2v1h-2zM15 19h1v1h-1zM21 19h1v1h-1zM30 19h1v1h-1zM33 19h1v1h-1zM36 19h2v1h-2zM43 19h1v1h-1zM47 19h1v1h-1zM4 20h1v1h-1zM9 20h3v1h-3zM13 20h1v1h-1zM15 20h1v1h-1zM17 20h2v1h-2zM22 20h1v1h-1zM28 20h1v1h-1zM33 20h1v1h-1zM37 20h1v1h-1zM39 20h2v1h-2zM45 20h1v1h-1zM4 21h1v1h-1zM23 21h1v1h-1zM15 22h1v1h-1zM24 22h1v1h-1zM39 22h1v1h-1zM46 22h1v1h-1zM37 23h1v1h-1zM2 24h1v1h-1zM4 24h1v1h-1zM9 24h2v1h-2zM15 24h1v1h-1zM17 24h1v1h-1zM37 24h1v1h-1zM41 24h1v1h-1zM2 25h1v1h-1zM39 25h1v1h-1zM0 26h1v1h-1zM2 26h1v1h-1zM4 26h1v1h-1zM15 26h1v1h-1zM17 26h1v1h-1zM45 26h2v1h-2zM49 26h1v1h-1zM10 27h1v1h-1zM17 27h1v1h-1zM33 27h1v1h-1zM4 28h1v1h-1zM9 28h1v1h-1zM15 28h1v1h-1zM17 28h1v1h-1zM45 28h2v1h-2zM49 28h1v1h-1zM2 29h1v1h-1zM4 29h1v1h-1zM9 29h1v1h-1zM17 29h1v1h-1zM25 29h1v1h-1zM39 29h1v1h-1zM45 29h1v1h-1zM48 29h2v1h-2zM4 30h1v1h-1zM33 30h1v1h-1zM39 30h1v1h-1zM46 30h1v1h-1zM2 31h1v1h-1zM33 31h1v1h-1zM49 31h1v1h-1zM2 32h1v1h-1zM11 32h1v1h-1zM39 32h1v1h-1zM46 32h1v1h-1zM30 33h1v1h-1zM2 34h1v1h-1zM17 34h1v1h-1zM30 34h1v1h-1zM33 34h1v1h-1zM39 34h1v1h-1zM45 34h2v1h-2zM49 34h1v1h-1zM4 36h1v1h-1zM15 36h1v1h-1zM1 37h1v1h-1zM4 37h1v1h-1zM17 37h1v1h-1zM4 38h1v1h-1z"/></g>
<g transform="translate(249.0 449.65) scale(1.55600 6.14625)"><path fill="#161880" d="M4 1h1v1h-1zM4 9h1v1h-1zM2 14h1v1h-1zM21 14h1v1h-1zM21 15h1v1h-1zM2 16h1v1h-1zM21 16h1v1h-1zM27 16h1v1h-1zM29 16h2v1h-2zM41 16h1v1h-1zM48 16h1v1h-1zM2 17h1v1h-1zM8 17h1v1h-1zM12 17h1v1h-1zM34 17h1v1h-1zM16 18h1v1h-1zM48 18h2v1h-2zM2 19h1v1h-1zM16 19h1v1h-1zM21 19h1v1h-1zM28 19h1v1h-1zM32 19h1v1h-1zM48 19h1v1h-1zM1 20h2v1h-2zM4 20h1v1h-1zM16 20h1v1h-1zM30 20h1v1h-1zM36 20h1v1h-1zM49 20h1v1h-1zM4 21h1v1h-1zM24 21h1v1h-1zM34 21h1v1h-1zM45 21h1v1h-1zM2 22h1v1h-1zM9 22h1v1h-1zM14 22h1v1h-1zM36 22h1v1h-1zM40 22h1v1h-1zM9 23h1v1h-1zM25 23h1v1h-1zM34 23h1v1h-1zM47 23h3v1h-3zM2 24h1v1h-1zM21 24h1v1h-1zM45 24h1v1h-1zM2 25h1v1h-1zM8 25h1v1h-1zM32 25h1v1h-1zM34 25h1v1h-1zM47 25h1v1h-1zM28 26h1v1h-1zM16 27h1v1h-1zM23 27h1v1h-1zM32 27h1v1h-1zM48 27h1v1h-1zM2 28h1v1h-1zM4 28h1v1h-1zM9 28h1v1h-1zM16 28h2v1h-2zM24 28h1v1h-1zM26 28h1v1h-1zM34 28h1v1h-1zM2 29h1v1h-1zM16 29h1v1h-1zM30 29h1v1h-1zM34 29h1v1h-1zM43 29h1v1h-1zM48 29h1v1h-1zM2 31h1v1h-1zM4 31h1v1h-1zM16 31h1v1h-1zM21 31h1v1h-1zM26 31h1v1h-1zM32 31h1v1h-1zM40 31h1v1h-1zM4 32h1v1h-1zM12 32h1v1h-1zM34 32h1v1h-1zM36 32h1v1h-1zM41 32h1v1h-1zM2 33h1v1h-1zM16 33h1v1h-1zM26 33h1v1h-1zM32 33h1v1h-1zM34 33h1v1h-1zM21 34h1v1h-1zM45 34h1v1h-1zM1 35h2v1h-2zM10 35h1v1h-1zM12 35h1v1h-1zM45 35h1v1h-1zM48 35h1v1h-1zM1 36h2v1h-2zM4 36h1v1h-1zM13 36h1v1h-1zM16 36h1v1h-1zM26 36h1v1h-1zM32 36h1v1h-1zM47 36h1v1h-1zM16 37h1v1h-1zM25 37h1v1h-1zM32 37h1v1h-1zM4 38h1v1h-1zM21 38h1v1h-1zM44 38h1v1h-1zM4 39h1v1h-1zM8 39h1v1h-1zM22 39h1v1h-1zM26 39h1v1h-1zM34 39h1v1h-1zM37 39h2v1h-2zM45 39h2v1h-2zM49 39h1v1h-1z"/><path fill="#333590" d="M2 1h1v1h-1zM2 5h1v1h-1zM21 8h1v1h-1zM2 11h1v1h-1zM21 12h1v1h-1zM12 13h1v1h-1zM32 13h1v1h-1zM12 14h1v1h-1zM32 14h1v1h-1zM2 15h1v1h-1zM13 15h1v1h-1zM1 16h1v1h-1zM34 16h1v1h-1zM39 16h1v1h-1zM47 16h1v1h-1zM18 17h1v1h-1zM26 17h1v1h-1zM28 17h1v1h-1zM43 17h1v1h-1zM13 18h1v1h-1zM17 18h1v1h-1zM26 18h1v1h-1zM32 18h1v1h-1zM34 18h1v1h-1zM40 18h2v1h-2zM17 19h1v1h-1zM22 19h1v1h-1zM34 19h1v1h-1zM23 20h1v1h-1zM34 20h1v1h-1zM38 21h1v1h-1zM48 21h2v1h-2zM8 22h1v1h-1zM13 22h1v1h-1zM16 22h1v1h-1zM21 22h1v1h-1zM31 22h1v1h-1zM34 22h1v1h-1zM42 22h2v1h-2zM45 22h1v1h-1zM16 23h1v1h-1zM23 23h1v1h-1zM26 23h1v1h-1zM41 23h1v1h-1zM45 23h1v1h-1zM4 24h1v1h-1zM44 24h1v1h-1zM1 25h1v1h-1zM4 25h1v1h-1zM21 25h1v1h-1zM24 25h1v1h-1zM26 25h1v1h-1zM49 25h1v1h-1zM4 26h1v1h-1zM34 26h1v1h-1zM37 26h1v1h-1zM4 27h1v1h-1zM25 27h1v1h-1zM29 27h1v1h-1zM41 27h2v1h-2zM1 28h1v1h-1zM8 28h1v1h-1zM29 28h1v1h-1zM32 28h1v1h-1zM40 28h1v1h-1zM46 28h1v1h-1zM49 28h1v1h-1zM36 29h1v1h-1zM45 29h1v1h-1zM2 30h1v1h-1zM4 30h1v1h-1zM12 30h1v1h-1zM16 30h1v1h-1zM26 30h1v1h-1zM34 30h1v1h-1zM1 32h1v1h-1zM8 32h1v1h-1zM16 32h2v1h-2zM38 32h1v1h-1zM45 32h1v1h-1zM48 32h1v1h-1zM17 33h1v1h-1zM21 33h1v1h-1zM42 33h1v1h-1zM45 33h1v1h-1zM2 34h1v1h-1zM28 34h1v1h-1zM32 34h1v1h-1zM43 34h1v1h-1zM46 34h2v1h-2zM28 35h1v1h-1zM30 35h1v1h-1zM5 36h1v1h-1zM12 36h1v1h-1zM17 36h1v1h-1zM27 36h1v1h-1zM34 36h1v1h-1zM39 36h1v1h-1zM44 36h1v1h-1zM45 37h1v1h-1zM12 38h1v1h-1zM26 38h1v1h-1zM28 38h1v1h-1zM40 38h1v1h-1zM47 38h1v1h-1zM7 39h1v1h-1zM17 39h1v1h-1zM32 39h1v1h-1zM36 39h1v1h-1zM48 39h1v1h-1z"/><path fill="#5052a0" d="M32 2h1v1h-1zM16 6h1v1h-1zM32 7h1v1h-1zM13 11h1v1h-1zM2 12h1v1h-1zM33 12h1v1h-1zM38 12h1v1h-1zM47 12h1v1h-1zM49 12h1v1h-1zM30 14h1v1h-1zM26 15h1v1h-1zM32 15h1v1h-1zM48 15h1v1h-1zM8 16h2v1h-2zM26 16h1v1h-1zM40 16h1v1h-1zM44 16h2v1h-2zM1 17h1v1h-1zM22 17h1v1h-1zM48 17h1v1h-1zM2 18h1v1h-1zM10 18h1v1h-1zM22 18h1v1h-1zM24 18h2v1h-2zM37 18h2v1h-2zM45 18h1v1h-1zM6 19h1v1h-1zM8 19h2v1h-2zM13 19h1v1h-1zM38 19h1v1h-1zM41 19h1v1h-1zM43 19h2v1h-2zM21 20h2v1h-2zM32 20h1v1h-1zM43 20h1v1h-1zM46 20h1v1h-1zM2 21h1v1h-1zM6 21h1v1h-1zM9 21h1v1h-1zM29 21h1v1h-1zM47 21h1v1h-1zM7 22h1v1h-1zM11 22h1v1h-1zM24 22h2v1h-2zM30 22h1v1h-1zM38 22h1v1h-1zM22 23h1v1h-1zM30 23h1v1h-1zM32 23h1v1h-1zM39 23h1v1h-1zM43 23h1v1h-1zM0 24h1v1h-1zM22 24h1v1h-1zM24 24h2v1h-2zM33 24h1v1h-1zM10 25h1v1h-1zM15 25h1v1h-1zM45 25h1v1h-1zM6 26h1v1h-1zM16 26h1v1h-1zM31 26h1v1h-1zM49 26h1v1h-1zM2 27h1v1h-1zM14 27h1v1h-1zM17 27h1v1h-1zM26 27h1v1h-1zM34 27h1v1h-1zM43 27h1v1h-1zM49 27h1v1h-1zM6 28h1v1h-1zM11 28h1v1h-1zM33 28h1v1h-1zM37 28h1v1h-1zM42 28h1v1h-1zM4 29h1v1h-1zM13 29h1v1h-1zM15 29h1v1h-1zM24 29h1v1h-1zM32 29h1v1h-1zM40 29h3v1h-3zM13 30h1v1h-1zM20 30h1v1h-1zM22 30h1v1h-1zM33 30h1v1h-1zM41 30h1v1h-1zM48 30h2v1h-2zM1 31h1v1h-1zM22 31h2v1h-2zM34 31h1v1h-1zM37 31h2v1h-2zM41 31h1v1h-1zM44 31h1v1h-1zM49 31h1v1h-1zM9 32h1v1h-1zM13 32h1v1h-1zM31 32h1v1h-1zM44 32h1v1h-1zM1 33h1v1h-1zM11 33h1v1h-1zM25 33h1v1h-1zM33 33h1v1h-1zM43 33h1v1h-1zM48 33h1v1h-1zM4 34h1v1h-1zM8 34h2v1h-2zM13 34h1v1h-1zM15 34h1v1h-1zM22 34h1v1h-1zM26 34h1v1h-1zM30 34h1v1h-1zM34 34h1v1h-1zM41 34h1v1h-1zM48 34h2v1h-2zM4 35h1v1h-1zM31 35h1v1h-1zM34 35h1v1h-1zM36 35h1v1h-1zM43 35h2v1h-2zM49 35h1v1h-1zM6 36h1v1h-1zM25 36h1v1h-1zM30 36h1v1h-1zM40 36h1v1h-1zM45 36h1v1h-1zM12 37h1v1h-1zM17 37h1v1h-1zM28 37h2v1h-2zM34 37h1v1h-1zM44 37h1v1h-1zM13 38h1v1h-1zM15 38h2v1h-2zM22 38h1v1h-1zM25 38h1v1h-1zM38 38h1v1h-1zM45 38h1v1h-1zM1 39h2v1h-2zM6 39h1v1h-1zM12 39h1v1h-1zM14 39h1v1h-1zM25 39h1v1h-1z"/><path fill="#6d6fb0" d="M32 0h1v1h-1zM21 1h1v1h-1zM8 2h1v1h-1zM34 3h1v1h-1zM2 4h1v1h-1zM26 7h1v1h-1zM32 8h1v1h-1zM21 10h1v1h-1zM30 12h1v1h-1zM48 12h1v1h-1zM2 13h1v1h-1zM4 13h1v1h-1zM16 13h1v1h-1zM26 13h1v1h-1zM34 13h1v1h-1zM14 14h1v1h-1zM22 14h1v1h-1zM28 14h1v1h-1zM34 14h1v1h-1zM43 14h1v1h-1zM48 14h1v1h-1zM10 15h1v1h-1zM28 15h1v1h-1zM10 16h1v1h-1zM17 16h2v1h-2zM23 16h2v1h-2zM28 16h1v1h-1zM37 16h1v1h-1zM46 16h1v1h-1zM7 17h1v1h-1zM9 17h1v1h-1zM29 17h2v1h-2zM32 17h1v1h-1zM40 17h1v1h-1zM9 18h1v1h-1zM12 18h1v1h-1zM30 18h1v1h-1zM47 18h1v1h-1zM11 19h1v1h-1zM20 19h1v1h-1zM23 19h1v1h-1zM39 19h2v1h-2zM42 19h1v1h-1zM45 19h1v1h-1zM47 19h1v1h-1zM9 20h1v1h-1zM13 20h1v1h-1zM28 20h1v1h-1zM40 20h1v1h-1zM48 20h1v1h-1zM10 21h1v1h-1zM20 21h1v1h-1zM33 21h1v1h-1zM40 21h2v1h-2zM43 21h1v1h-1zM1 22h1v1h-1zM10 22h1v1h-1zM22 22h1v1h-1zM28 22h1v1h-1zM32 22h1v1h-1zM47 22h1v1h-1zM49 22h1v1h-1zM2 23h1v1h-1zM4 23h1v1h-1zM6 23h1v1h-1zM8 23h1v1h-1zM17 23h1v1h-1zM19 23h1v1h-1zM44 23h1v1h-1zM46 23h1v1h-1zM12 24h2v1h-2zM23 24h1v1h-1zM32 24h1v1h-1zM36 24h1v1h-1zM38 24h1v1h-1zM41 24h1v1h-1zM48 24h1v1h-1zM3 25h1v1h-1zM13 25h1v1h-1zM28 25h1v1h-1zM41 25h1v1h-1zM44 25h1v1h-1zM2 26h1v1h-1zM13 26h1v1h-1zM21 26h1v1h-1zM26 26h1v1h-1zM30 26h1v1h-1zM40 26h1v1h-1zM43 26h1v1h-1zM13 27h1v1h-1zM18 27h1v1h-1zM20 27h3v1h-3zM39 27h1v1h-1zM44 27h3v1h-3zM13 28h3v1h-3zM39 28h1v1h-1zM41 28h1v1h-1zM43 28h1v1h-1zM47 28h2v1h-2zM17 29h2v1h-2zM28 29h1v1h-1zM6 30h1v1h-1zM8 30h1v1h-1zM15 30h1v1h-1zM21 30h1v1h-1zM24 30h1v1h-1zM37 30h2v1h-2zM9 31h1v1h-1zM12 31h1v1h-1zM39 31h1v1h-1zM47 31h1v1h-1zM7 32h1v1h-1zM28 32h1v1h-1zM30 32h1v1h-1zM43 32h1v1h-1zM49 32h1v1h-1zM4 33h1v1h-1zM6 33h1v1h-1zM8 33h1v1h-1zM12 33h1v1h-1zM39 33h1v1h-1zM47 33h1v1h-1zM49 33h1v1h-1zM10 34h2v1h-2zM16 34h1v1h-1zM38 34h1v1h-1zM8 35h1v1h-1zM16 35h2v1h-2zM21 35h1v1h-1zM24 35h1v1h-1zM38 35h1v1h-1zM0 36h1v1h-1zM19 36h1v1h-1zM28 36h2v1h-2zM48 36h2v1h-2zM2 37h1v1h-1zM4 37h1v1h-1zM9 37h1v1h-1zM33 37h1v1h-1zM47 37h3v1h-3zM1 38h2v1h-2zM6 38h1v1h-1zM9 38h1v1h-1zM27 38h1v1h-1zM30 38h1v1h-1zM32 38h1v1h-1zM34 38h1v1h-1zM41 38h1v1h-1zM43 38h1v1h-1zM49 38h1v1h-1zM16 39h1v1h-1zM23 39h1v1h-1zM31 39h1v1h-1zM40 39h2v1h-2zM43 39h1v1h-1z"/><path fill="#8a8cc0" d="M16 0h1v1h-1zM1 3h1v1h-1zM26 3h1v1h-1zM43 3h1v1h-1zM4 5h1v1h-1zM34 5h1v1h-1zM4 6h1v1h-1zM38 8h1v1h-1zM47 8h1v1h-1zM2 9h1v1h-1zM13 12h1v1h-1zM16 12h1v1h-1zM26 12h1v1h-1zM24 13h1v1h-1zM37 13h1v1h-1zM48 13h2v1h-2zM4 14h1v1h-1zM7 14h1v1h-1zM16 14h1v1h-1zM26 14h1v1h-1zM38 14h1v1h-1zM9 15h1v1h-1zM11 15h1v1h-1zM16 15h1v1h-1zM44 15h1v1h-1zM47 15h1v1h-1zM4 16h1v1h-1zM22 16h1v1h-1zM31 16h2v1h-2zM36 16h1v1h-1zM38 16h1v1h-1zM43 16h1v1h-1zM3 17h1v1h-1zM11 17h1v1h-1zM17 17h1v1h-1zM24 17h1v1h-1zM44 17h1v1h-1zM4 18h1v1h-1zM6 18h1v1h-1zM11 18h1v1h-1zM28 18h2v1h-2zM36 18h1v1h-1zM39 18h1v1h-1zM4 19h1v1h-1zM14 19h1v1h-1zM30 19h1v1h-1zM37 19h1v1h-1zM49 19h1v1h-1zM11 20h2v1h-2zM38 20h1v1h-1zM41 20h1v1h-1zM47 20h1v1h-1zM12 21h2v1h-2zM23 21h1v1h-1zM28 21h1v1h-1zM30 21h1v1h-1zM32 21h1v1h-1zM39 21h1v1h-1zM44 21h1v1h-1zM46 21h1v1h-1zM12 22h1v1h-1zM23 22h1v1h-1zM26 22h1v1h-1zM35 22h1v1h-1zM39 22h1v1h-1zM46 22h1v1h-1zM0 23h2v1h-2zM14 23h2v1h-2zM21 23h1v1h-1zM7 24h1v1h-1zM14 24h2v1h-2zM26 24h1v1h-1zM34 24h1v1h-1zM0 25h1v1h-1zM14 25h1v1h-1zM17 25h1v1h-1zM22 25h2v1h-2zM25 25h1v1h-1zM33 25h1v1h-1zM37 25h1v1h-1zM1 26h1v1h-1zM9 26h1v1h-1zM17 26h1v1h-1zM41 26h2v1h-2zM47 26h2v1h-2zM8 27h3v1h-3zM36 27h1v1h-1zM38 27h1v1h-1zM40 27h1v1h-1zM21 28h1v1h-1zM45 28h1v1h-1zM7 29h1v1h-1zM22 29h1v1h-1zM26 29h1v1h-1zM10 30h1v1h-1zM17 30h1v1h-1zM32 30h1v1h-1zM39 30h1v1h-1zM45 30h1v1h-1zM13 31h2v1h-2zM24 31h2v1h-2zM14 32h1v1h-1zM18 32h1v1h-1zM32 32h1v1h-1zM10 33h1v1h-1zM1 34h1v1h-1zM7 34h1v1h-1zM19 34h1v1h-1zM29 34h1v1h-1zM31 34h1v1h-1zM37 34h1v1h-1zM42 34h1v1h-1zM11 35h1v1h-1zM29 35h1v1h-1zM8 36h1v1h-1zM20 36h1v1h-1zM23 36h1v1h-1zM36 36h1v1h-1zM43 36h1v1h-1zM21 37h4v1h-4zM38 37h2v1h-2zM43 37h1v1h-1zM8 38h1v1h-1zM18 38h1v1h-1zM31 38h1v1h-1zM19 39h1v1h-1zM30 39h1v1h-1zM47 39h1v1h-1z"/><path fill="#a8a8cf" d="M2 0h1v1h-1zM16 1h1v1h-1zM4 2h1v1h-1zM47 2h1v1h-1zM21 4h2v1h-2zM28 4h1v1h-1zM34 4h1v1h-1zM41 4h1v1h-1zM47 4h1v1h-1zM30 5h1v1h-1zM38 5h1v1h-1zM2 6h1v1h-1zM32 6h1v1h-1zM4 7h1v1h-1zM13 7h1v1h-1zM10 8h1v1h-1zM48 8h1v1h-1zM4 12h1v1h-1zM9 12h1v1h-1zM14 12h1v1h-1zM17 12h1v1h-1zM37 12h1v1h-1zM21 13h1v1h-1zM25 13h1v1h-1zM28 13h1v1h-1zM41 13h1v1h-1zM1 14h1v1h-1zM3 14h1v1h-1zM5 14h2v1h-2zM17 14h1v1h-1zM24 14h2v1h-2zM39 14h1v1h-1zM44 14h3v1h-3zM15 15h1v1h-1zM17 15h1v1h-1zM3 16h1v1h-1zM7 16h1v1h-1zM13 16h1v1h-1zM15 16h2v1h-2zM25 16h1v1h-1zM42 16h1v1h-1zM4 17h1v1h-1zM16 17h1v1h-1zM23 17h1v1h-1zM25 17h1v1h-1zM31 17h1v1h-1zM35 17h1v1h-1zM41 17h1v1h-1zM45 17h1v1h-1zM7 18h2v1h-2zM44 18h1v1h-1zM46 18h1v1h-1zM1 19h1v1h-1zM7 19h1v1h-1zM12 19h1v1h-1zM31 19h1v1h-1zM36 19h1v1h-1zM14 20h1v1h-1zM24 20h1v1h-1zM26 20h1v1h-1zM39 20h1v1h-1zM44 20h2v1h-2zM1 21h1v1h-1zM15 21h1v1h-1zM17 21h1v1h-1zM21 21h1v1h-1zM26 21h1v1h-1zM4 22h1v1h-1zM6 22h1v1h-1zM18 22h1v1h-1zM41 22h1v1h-1zM5 23h1v1h-1zM13 23h1v1h-1zM29 23h1v1h-1zM37 23h1v1h-1zM1 24h1v1h-1zM3 24h1v1h-1zM6 24h1v1h-1zM10 24h1v1h-1zM17 24h1v1h-1zM20 24h1v1h-1zM39 24h2v1h-2zM46 24h2v1h-2zM5 25h1v1h-1zM16 25h1v1h-1zM19 25h1v1h-1zM38 25h1v1h-1zM43 25h1v1h-1zM48 25h1v1h-1zM8 26h1v1h-1zM12 26h1v1h-1zM14 26h1v1h-1zM24 26h1v1h-1zM29 26h1v1h-1zM7 27h1v1h-1zM15 27h1v1h-1zM28 27h1v1h-1zM30 27h2v1h-2zM47 27h1v1h-1zM0 28h1v1h-1zM3 28h1v1h-1zM18 28h1v1h-1zM23 28h1v1h-1zM36 28h1v1h-1zM1 29h1v1h-1zM9 29h1v1h-1zM12 29h1v1h-1zM46 29h1v1h-1zM49 29h1v1h-1zM0 30h1v1h-1zM9 30h1v1h-1zM46 30h1v1h-1zM17 31h1v1h-1zM28 31h1v1h-1zM46 31h1v1h-1zM48 31h1v1h-1zM6 32h1v1h-1zM11 32h1v1h-1zM19 32h1v1h-1zM21 32h1v1h-1zM39 32h1v1h-1zM47 32h1v1h-1zM0 33h1v1h-1zM13 33h1v1h-1zM22 33h1v1h-1zM29 33h1v1h-1zM37 33h1v1h-1zM44 33h1v1h-1zM0 34h1v1h-1zM6 34h1v1h-1zM14 34h1v1h-1zM17 34h1v1h-1zM24 34h1v1h-1zM36 34h1v1h-1zM0 35h1v1h-1zM3 35h1v1h-1zM13 35h1v1h-1zM19 35h2v1h-2zM33 35h1v1h-1zM37 35h1v1h-1zM40 35h1v1h-1zM46 35h1v1h-1zM9 36h1v1h-1zM14 36h1v1h-1zM37 36h2v1h-2zM1 37h1v1h-1zM5 37h1v1h-1zM35 37h1v1h-1zM37 37h1v1h-1zM40 37h1v1h-1zM7 38h1v1h-1zM11 38h1v1h-1zM0 39h1v1h-1zM13 39h1v1h-1zM24 39h1v1h-1zM28 39h1v1h-1zM42 39h1v1h-1zM44 39h1v1h-1z"/><path fill="#c5c5df" d="M25 0h1v1h-1zM48 0h1v1h-1zM23 1h1v1h-1zM34 2h1v1h-1zM16 3h1v1h-1zM46 3h1v1h-1zM48 3h1v1h-1zM8 5h1v1h-1zM31 5h1v1h-1zM13 6h1v1h-1zM30 6h1v1h-1zM34 7h1v1h-1zM34 8h1v1h-1zM32 9h1v1h-1zM12 12h1v1h-1zM22 12h1v1h-1zM40 12h1v1h-1zM43 12h2v1h-2zM46 12h1v1h-1zM6 13h1v1h-1zM9 13h1v1h-1zM13 13h1v1h-1zM22 13h1v1h-1zM40 13h1v1h-1zM42 13h2v1h-2zM1 15h1v1h-1zM33 15h1v1h-1zM38 15h1v1h-1zM43 15h1v1h-1zM45 15h1v1h-1zM49 15h1v1h-1zM6 16h1v1h-1zM20 16h1v1h-1zM36 17h3v1h-3zM46 17h1v1h-1zM18 18h1v1h-1zM23 18h1v1h-1zM3 19h1v1h-1zM29 19h1v1h-1zM11 21h1v1h-1zM22 21h1v1h-1zM42 21h1v1h-1zM20 22h1v1h-1zM11 23h2v1h-2zM38 23h1v1h-1zM30 24h1v1h-1zM42 24h2v1h-2zM6 25h1v1h-1zM30 25h1v1h-1zM11 26h1v1h-1zM18 26h1v1h-1zM22 26h1v1h-1zM1 27h1v1h-1zM6 27h1v1h-1zM37 27h1v1h-1zM5 28h1v1h-1zM10 28h1v1h-1zM12 28h1v1h-1zM19 28h2v1h-2zM27 28h2v1h-2zM38 28h1v1h-1zM5 29h1v1h-1zM11 29h1v1h-1zM21 29h1v1h-1zM29 29h1v1h-1zM7 30h1v1h-1zM28 30h1v1h-1zM30 30h2v1h-2zM43 30h1v1h-1zM8 31h1v1h-1zM11 31h1v1h-1zM20 31h1v1h-1zM0 32h1v1h-1zM22 32h3v1h-3zM26 32h1v1h-1zM29 32h1v1h-1zM42 32h1v1h-1zM3 33h1v1h-1zM7 33h1v1h-1zM9 33h1v1h-1zM40 33h1v1h-1zM5 34h1v1h-1zM18 34h1v1h-1zM33 34h1v1h-1zM44 34h1v1h-1zM26 35h1v1h-1zM47 35h1v1h-1zM21 36h1v1h-1zM24 36h1v1h-1zM3 37h1v1h-1zM10 37h1v1h-1zM14 37h1v1h-1zM19 37h1v1h-1zM26 37h2v1h-2zM42 37h1v1h-1zM17 38h1v1h-1zM23 38h2v1h-2zM33 38h1v1h-1zM35 38h1v1h-1zM11 39h1v1h-1zM21 39h1v1h-1zM39 39h1v1h-1z"/><path fill="#e2e2ef" d="M22 0h1v1h-1zM46 0h1v1h-1zM49 0h1v1h-1zM2 2h1v1h-1zM44 2h1v1h-1zM14 4h1v1h-1zM16 4h1v1h-1zM48 4h1v1h-1zM21 5h1v1h-1zM17 7h1v1h-1zM21 7h2v1h-2zM44 8h1v1h-1zM38 9h1v1h-1zM43 9h1v1h-1zM32 10h1v1h-1zM40 10h1v1h-1zM47 10h1v1h-1zM4 11h1v1h-1zM34 11h1v1h-1zM43 11h1v1h-1zM48 11h1v1h-1zM3 12h1v1h-1zM11 12h1v1h-1zM46 13h1v1h-1zM9 14h1v1h-1zM13 14h1v1h-1zM23 14h1v1h-1zM31 14h1v1h-1zM7 15h1v1h-1zM14 15h1v1h-1zM46 15h1v1h-1zM12 16h1v1h-1zM49 16h1v1h-1zM13 17h1v1h-1zM21 17h1v1h-1zM15 18h1v1h-1zM15 19h1v1h-1zM18 19h1v1h-1zM26 19h1v1h-1zM35 19h1v1h-1zM15 20h1v1h-1zM3 21h1v1h-1zM16 21h1v1h-1zM25 21h1v1h-1zM5 22h1v1h-1zM28 23h1v1h-1zM40 23h1v1h-1zM28 24h1v1h-1zM49 24h1v1h-1zM9 25h1v1h-1zM12 25h1v1h-1zM20 26h1v1h-1zM23 26h1v1h-1zM32 26h1v1h-1zM45 26h1v1h-1zM11 27h1v1h-1zM25 28h1v1h-1zM6 29h1v1h-1zM47 29h1v1h-1zM14 30h1v1h-1zM10 31h1v1h-1zM19 31h1v1h-1zM30 31h1v1h-1zM35 31h1v1h-1zM46 32h1v1h-1zM14 33h1v1h-1zM12 34h1v1h-1zM5 35h1v1h-1zM41 35h1v1h-1zM11 36h1v1h-1zM15 36h1v1h-1zM41 36h1v1h-1zM11 37h1v1h-1zM30 37h1v1h-1zM37 38h1v1h-1zM48 38h1v1h-1zM10 39h1v1h-1zM15 39h1v1h-1zM20 39h1v1h-1z"/><path fill="#ffffff" d="M26 0h1v1h-1zM44 0h1v1h-1zM24 1h1v1h-1zM30 1h1v1h-1zM41 2h1v1h-1zM24 5h1v1h-1zM47 7h1v1h-1zM2 8h1v1h-1zM12 8h1v1h-1zM1 9h1v1h-1zM44 9h1v1h-1zM48 10h1v1h-1zM21 11h1v1h-1zM38 11h1v1h-1zM34 12h1v1h-1zM39 12h1v1h-1zM42 12h1v1h-1zM39 13h1v1h-1zM18 14h1v1h-1zM14 16h1v1h-1zM10 17h1v1h-1zM0 19h1v1h-1zM37 22h1v1h-1zM33 23h1v1h-1zM16 24h1v1h-1zM29 24h1v1h-1zM15 26h1v1h-1zM1 30h1v1h-1zM29 30h1v1h-1zM43 31h1v1h-1zM27 33h1v1h-1zM38 33h1v1h-1zM41 33h1v1h-1zM20 38h1v1h-1z"/><path fill="#f9e4e4" d="M4 0h1v1h-1zM40 0h1v1h-1zM21 3h1v1h-1zM49 4h1v1h-1zM10 5h1v1h-1zM14 5h1v1h-1zM26 5h1v1h-1zM33 6h1v1h-1zM30 7h1v1h-1zM8 8h1v1h-1zM5 9h1v1h-1zM26 9h1v1h-1zM45 9h1v1h-1zM14 10h1v1h-1zM26 10h1v1h-1zM7 11h1v1h-1zM49 11h1v1h-1zM8 13h1v1h-1zM18 13h1v1h-1zM31 13h1v1h-1zM38 13h1v1h-1zM44 13h1v1h-1zM36 14h1v1h-1zM42 14h1v1h-1zM22 15h1v1h-1zM39 15h1v1h-1zM33 17h1v1h-1zM47 17h1v1h-1zM20 18h2v1h-2zM35 18h1v1h-1zM24 19h2v1h-2zM33 19h1v1h-1zM46 19h1v1h-1zM3 20h1v1h-1zM6 20h1v1h-1zM8 20h1v1h-1zM29 20h1v1h-1zM37 20h1v1h-1zM27 22h1v1h-1zM29 22h1v1h-1zM35 23h1v1h-1zM37 24h1v1h-1zM40 25h1v1h-1zM46 25h1v1h-1zM27 26h1v1h-1zM38 26h1v1h-1zM19 27h1v1h-1zM22 28h1v1h-1zM30 28h1v1h-1zM44 28h1v1h-1zM10 29h1v1h-1zM31 29h1v1h-1zM37 29h1v1h-1zM42 30h1v1h-1zM45 31h1v1h-1zM3 32h1v1h-1zM10 32h1v1h-1zM5 33h1v1h-1zM24 33h1v1h-1zM30 33h1v1h-1zM25 34h1v1h-1zM40 34h1v1h-1zM9 35h1v1h-1zM14 35h1v1h-1zM35 35h1v1h-1zM46 36h1v1h-1zM20 37h1v1h-1zM14 38h1v1h-1zM29 38h1v1h-1zM9 39h1v1h-1zM29 39h1v1h-1z"/><path fill="#f2c9c9" d="M12 0h1v1h-1zM34 0h1v1h-1zM47 0h1v1h-1zM0 1h2v1h-2zM20 1h1v1h-1zM43 1h1v1h-1zM49 1h1v1h-1zM9 2h1v1h-1zM14 2h1v1h-1zM22 2h1v1h-1zM49 2h1v1h-1zM49 3h1v1h-1zM4 4h1v1h-1zM8 4h1v1h-1zM15 4h1v1h-1zM24 4h1v1h-1zM26 4h1v1h-1zM30 4h1v1h-1zM32 5h1v1h-1zM45 5h1v1h-1zM19 6h1v1h-1zM22 6h1v1h-1zM26 6h1v1h-1zM28 6h1v1h-1zM40 6h2v1h-2zM8 7h1v1h-1zM43 7h1v1h-1zM49 7h1v1h-1zM11 8h1v1h-1zM14 9h1v1h-1zM41 9h1v1h-1zM2 10h1v1h-1zM4 10h1v1h-1zM41 10h1v1h-1zM11 11h1v1h-1zM26 11h1v1h-1zM31 11h1v1h-1zM37 11h1v1h-1zM45 11h1v1h-1zM47 11h1v1h-1zM19 12h1v1h-1zM32 12h1v1h-1zM41 12h1v1h-1zM45 12h1v1h-1zM10 13h1v1h-1zM14 13h1v1h-1zM19 13h1v1h-1zM45 13h1v1h-1zM8 14h1v1h-1zM11 14h1v1h-1zM41 14h1v1h-1zM3 15h1v1h-1zM6 15h1v1h-1zM8 15h1v1h-1zM25 15h1v1h-1zM42 15h1v1h-1zM33 16h1v1h-1zM0 17h1v1h-1zM6 17h1v1h-1zM14 17h1v1h-1zM39 17h1v1h-1zM42 17h1v1h-1zM1 18h1v1h-1zM33 18h1v1h-1zM42 18h2v1h-2zM5 19h1v1h-1zM0 20h1v1h-1zM7 20h1v1h-1zM19 20h1v1h-1zM7 21h2v1h-2zM14 21h1v1h-1zM17 22h1v1h-1zM18 23h1v1h-1zM36 23h1v1h-1zM5 24h1v1h-1zM11 24h1v1h-1zM31 24h1v1h-1zM27 25h1v1h-1zM42 25h1v1h-1zM7 26h1v1h-1zM10 26h1v1h-1zM25 26h1v1h-1zM35 26h2v1h-2zM46 26h1v1h-1zM0 27h1v1h-1zM33 27h1v1h-1zM14 29h1v1h-1zM20 29h1v1h-1zM25 29h1v1h-1zM33 29h1v1h-1zM38 29h1v1h-1zM3 30h1v1h-1zM11 30h1v1h-1zM18 30h1v1h-1zM40 30h1v1h-1zM44 30h1v1h-1zM0 31h1v1h-1zM27 31h1v1h-1zM29 31h1v1h-1zM42 31h1v1h-1zM40 32h1v1h-1zM15 33h1v1h-1zM19 33h1v1h-1zM18 35h1v1h-1zM23 35h1v1h-1zM32 35h1v1h-1zM10 36h1v1h-1zM22 36h1v1h-1zM36 37h1v1h-1zM41 37h1v1h-1zM36 38h1v1h-1zM18 39h1v1h-1z"/><path fill="#ecaeae" d="M1 0h1v1h-1zM21 0h1v1h-1zM43 0h1v1h-1zM8 1h1v1h-1zM11 1h1v1h-1zM14 1h1v1h-1zM29 1h1v1h-1zM39 1h1v1h-1zM45 1h2v1h-2zM48 1h1v1h-1zM10 2h1v1h-1zM21 2h1v1h-1zM37 2h1v1h-1zM4 3h1v1h-1zM11 3h4v1h-4zM28 3h1v1h-1zM45 3h1v1h-1zM10 4h1v1h-1zM38 4h1v1h-1zM44 4h1v1h-1zM16 5h1v1h-1zM33 5h1v1h-1zM25 6h1v1h-1zM29 6h1v1h-1zM34 6h1v1h-1zM49 6h1v1h-1zM2 7h1v1h-1zM6 7h1v1h-1zM37 7h1v1h-1zM1 8h1v1h-1zM4 8h1v1h-1zM17 8h1v1h-1zM33 8h1v1h-1zM40 8h1v1h-1zM12 9h1v1h-1zM16 9h1v1h-1zM30 9h1v1h-1zM37 9h1v1h-1zM47 9h2v1h-2zM1 10h1v1h-1zM22 10h1v1h-1zM34 10h1v1h-1zM44 10h1v1h-1zM49 10h1v1h-1zM12 11h1v1h-1zM28 11h1v1h-1zM32 11h1v1h-1zM41 11h1v1h-1zM31 12h1v1h-1zM1 13h1v1h-1zM17 13h1v1h-1zM20 13h1v1h-1zM23 13h1v1h-1zM29 13h1v1h-1zM15 14h1v1h-1zM37 14h1v1h-1zM40 14h1v1h-1zM0 15h1v1h-1zM4 15h1v1h-1zM18 15h1v1h-1zM24 15h1v1h-1zM30 15h1v1h-1zM34 15h1v1h-1zM37 15h1v1h-1zM11 16h1v1h-1zM15 17h1v1h-1zM19 17h1v1h-1zM0 18h1v1h-1zM5 18h1v1h-1zM14 18h1v1h-1zM31 18h1v1h-1zM10 19h1v1h-1zM5 20h1v1h-1zM10 20h1v1h-1zM17 20h2v1h-2zM20 20h1v1h-1zM42 20h1v1h-1zM27 21h1v1h-1zM3 22h1v1h-1zM15 22h1v1h-1zM44 22h1v1h-1zM7 23h1v1h-1zM18 24h1v1h-1zM27 24h1v1h-1zM20 25h1v1h-1zM36 25h1v1h-1zM39 25h1v1h-1zM33 26h1v1h-1zM39 26h1v1h-1zM5 27h1v1h-1zM12 27h1v1h-1zM27 27h1v1h-1zM7 28h1v1h-1zM31 28h1v1h-1zM19 29h1v1h-1zM35 29h1v1h-1zM39 29h1v1h-1zM44 29h1v1h-1zM23 30h1v1h-1zM36 30h1v1h-1zM47 30h1v1h-1zM6 31h2v1h-2zM18 31h1v1h-1zM2 32h1v1h-1zM20 32h1v1h-1zM33 32h1v1h-1zM35 32h1v1h-1zM37 32h1v1h-1zM28 33h1v1h-1zM31 33h1v1h-1zM3 34h1v1h-1zM23 34h1v1h-1zM35 34h1v1h-1zM6 35h1v1h-1zM15 35h1v1h-1zM39 35h1v1h-1zM31 36h1v1h-1zM7 37h1v1h-1zM13 37h1v1h-1zM15 37h1v1h-1zM18 37h1v1h-1zM31 37h1v1h-1zM0 38h1v1h-1zM10 38h1v1h-1zM19 38h1v1h-1zM39 38h1v1h-1zM42 38h1v1h-1zM46 38h1v1h-1zM33 39h1v1h-1z"/><path fill="#e69292" d="M8 0h1v1h-1zM15 0h1v1h-1zM28 0h1v1h-1zM30 0h1v1h-1zM36 0h1v1h-1zM13 1h1v1h-1zM34 1h1v1h-1zM44 1h1v1h-1zM47 1h1v1h-1zM13 2h1v1h-1zM29 2h2v1h-2zM45 2h1v1h-1zM8 3h1v1h-1zM10 3h1v1h-1zM15 3h1v1h-1zM32 3h1v1h-1zM37 3h1v1h-1zM41 3h1v1h-1zM9 4h1v1h-1zM11 4h1v1h-1zM31 4h2v1h-2zM40 4h1v1h-1zM43 4h1v1h-1zM1 5h1v1h-1zM11 5h1v1h-1zM13 5h1v1h-1zM17 5h1v1h-1zM28 5h1v1h-1zM37 5h1v1h-1zM40 5h1v1h-1zM43 5h2v1h-2zM47 5h2v1h-2zM11 6h1v1h-1zM18 6h1v1h-1zM23 6h1v1h-1zM36 6h1v1h-1zM45 6h1v1h-1zM47 6h1v1h-1zM1 7h1v1h-1zM10 7h1v1h-1zM16 7h1v1h-1zM28 7h1v1h-1zM38 7h1v1h-1zM41 7h1v1h-1zM44 7h1v1h-1zM48 7h1v1h-1zM6 8h1v1h-1zM16 8h1v1h-1zM29 8h1v1h-1zM37 8h1v1h-1zM42 8h2v1h-2zM11 9h1v1h-1zM13 9h1v1h-1zM15 9h1v1h-1zM21 9h1v1h-1zM28 9h1v1h-1zM36 9h1v1h-1zM39 9h1v1h-1zM7 10h1v1h-1zM10 10h1v1h-1zM13 10h1v1h-1zM16 10h1v1h-1zM18 10h1v1h-1zM20 10h1v1h-1zM36 10h1v1h-1zM38 10h1v1h-1zM45 10h1v1h-1zM1 11h1v1h-1zM10 11h1v1h-1zM17 11h1v1h-1zM6 12h1v1h-1zM24 12h1v1h-1zM28 12h1v1h-1zM36 13h1v1h-1zM47 13h1v1h-1zM35 14h1v1h-1zM47 14h1v1h-1zM5 15h1v1h-1zM12 15h1v1h-1zM20 15h1v1h-1zM23 15h1v1h-1zM0 16h1v1h-1zM35 16h1v1h-1zM3 18h1v1h-1zM19 18h1v1h-1zM27 18h1v1h-1zM33 20h1v1h-1zM35 20h1v1h-1zM18 21h1v1h-1zM31 21h1v1h-1zM35 21h1v1h-1zM37 21h1v1h-1zM19 22h1v1h-1zM48 22h1v1h-1zM10 23h1v1h-1zM24 23h1v1h-1zM31 23h1v1h-1zM42 23h1v1h-1zM8 24h1v1h-1zM35 24h1v1h-1zM29 25h1v1h-1zM31 25h1v1h-1zM35 28h1v1h-1zM8 29h1v1h-1zM23 29h1v1h-1zM19 30h1v1h-1zM25 30h1v1h-1zM3 31h1v1h-1zM15 31h1v1h-1zM31 31h1v1h-1zM36 31h1v1h-1zM5 32h1v1h-1zM15 32h1v1h-1zM25 32h1v1h-1zM27 32h1v1h-1zM36 33h1v1h-1zM46 33h1v1h-1zM20 34h1v1h-1zM7 35h1v1h-1zM22 35h1v1h-1zM42 35h1v1h-1zM7 36h1v1h-1zM18 36h1v1h-1zM42 36h1v1h-1z"/><path fill="#e07777" d="M11 0h1v1h-1zM31 0h1v1h-1zM37 0h1v1h-1zM39 0h1v1h-1zM45 0h1v1h-1zM12 1h1v1h-1zM17 1h1v1h-1zM28 1h1v1h-1zM32 1h1v1h-1zM38 1h1v1h-1zM40 1h1v1h-1zM42 1h1v1h-1zM11 2h2v1h-2zM28 2h1v1h-1zM36 2h1v1h-1zM38 2h1v1h-1zM40 2h1v1h-1zM43 2h1v1h-1zM48 2h1v1h-1zM2 3h1v1h-1zM7 3h1v1h-1zM9 3h1v1h-1zM38 3h1v1h-1zM1 4h1v1h-1zM13 4h1v1h-1zM23 4h1v1h-1zM29 4h1v1h-1zM45 4h1v1h-1zM7 5h1v1h-1zM23 5h1v1h-1zM25 5h1v1h-1zM39 5h1v1h-1zM41 5h1v1h-1zM6 6h1v1h-1zM8 6h1v1h-1zM10 6h1v1h-1zM12 6h1v1h-1zM21 6h1v1h-1zM37 6h3v1h-3zM43 6h1v1h-1zM48 6h1v1h-1zM12 7h1v1h-1zM15 7h1v1h-1zM29 7h1v1h-1zM45 7h1v1h-1zM3 8h1v1h-1zM28 8h1v1h-1zM41 8h1v1h-1zM46 8h1v1h-1zM9 9h2v1h-2zM22 9h1v1h-1zM34 9h1v1h-1zM8 10h1v1h-1zM11 10h1v1h-1zM17 10h1v1h-1zM24 10h2v1h-2zM29 10h2v1h-2zM33 10h1v1h-1zM43 10h1v1h-1zM16 11h1v1h-1zM22 11h1v1h-1zM24 11h2v1h-2zM29 11h1v1h-1zM36 11h1v1h-1zM0 12h2v1h-2zM8 12h1v1h-1zM10 12h1v1h-1zM18 12h1v1h-1zM23 12h1v1h-1zM7 13h1v1h-1zM11 13h1v1h-1zM30 13h1v1h-1zM0 14h1v1h-1zM10 14h1v1h-1zM20 14h1v1h-1zM33 14h1v1h-1zM49 14h1v1h-1zM29 15h1v1h-1zM31 15h1v1h-1zM35 15h2v1h-2zM40 15h2v1h-2zM19 16h1v1h-1zM5 17h1v1h-1zM20 17h1v1h-1zM49 17h1v1h-1zM19 19h1v1h-1zM25 20h1v1h-1zM27 20h1v1h-1zM31 20h1v1h-1zM19 21h1v1h-1zM0 22h1v1h-1zM11 25h1v1h-1zM3 26h1v1h-1zM5 26h1v1h-1zM19 26h1v1h-1zM44 26h1v1h-1zM35 27h1v1h-1zM5 31h1v1h-1zM20 33h1v1h-1zM23 33h1v1h-1zM35 33h1v1h-1zM39 34h1v1h-1zM25 35h1v1h-1zM3 36h1v1h-1zM0 37h1v1h-1zM8 37h1v1h-1zM5 38h1v1h-1zM3 39h1v1h-1zM5 39h1v1h-1zM35 39h1v1h-1z"/><path fill="#da5c5c" d="M0 0h1v1h-1zM5 0h1v1h-1zM7 0h1v1h-1zM9 0h1v1h-1zM13 0h1v1h-1zM18 0h1v1h-1zM20 0h1v1h-1zM23 0h1v1h-1zM38 0h1v1h-1zM3 1h1v1h-1zM7 1h1v1h-1zM9 1h1v1h-1zM19 1h1v1h-1zM22 1h1v1h-1zM26 1h1v1h-1zM36 1h1v1h-1zM41 1h1v1h-1zM1 2h1v1h-1zM3 2h1v1h-1zM7 2h1v1h-1zM16 2h2v1h-2zM25 2h1v1h-1zM33 2h1v1h-1zM35 2h1v1h-1zM39 2h1v1h-1zM42 2h1v1h-1zM6 3h1v1h-1zM18 3h1v1h-1zM22 3h4v1h-4zM29 3h2v1h-2zM35 3h1v1h-1zM39 3h1v1h-1zM42 3h1v1h-1zM44 3h1v1h-1zM47 3h1v1h-1zM3 4h1v1h-1zM12 4h1v1h-1zM17 4h1v1h-1zM42 4h1v1h-1zM6 5h1v1h-1zM9 5h1v1h-1zM12 5h1v1h-1zM15 5h1v1h-1zM22 5h1v1h-1zM29 5h1v1h-1zM36 5h1v1h-1zM42 5h1v1h-1zM46 5h1v1h-1zM7 6h1v1h-1zM0 7h1v1h-1zM3 7h1v1h-1zM9 7h1v1h-1zM18 7h1v1h-1zM23 7h1v1h-1zM36 7h1v1h-1zM39 7h1v1h-1zM42 7h1v1h-1zM0 8h1v1h-1zM14 8h1v1h-1zM24 8h1v1h-1zM26 8h1v1h-1zM30 8h1v1h-1zM8 9h1v1h-1zM17 9h2v1h-2zM24 9h2v1h-2zM33 9h1v1h-1zM40 9h1v1h-1zM9 10h1v1h-1zM28 10h1v1h-1zM37 10h1v1h-1zM6 11h1v1h-1zM18 11h1v1h-1zM23 11h1v1h-1zM33 11h1v1h-1zM42 11h1v1h-1zM44 11h1v1h-1zM7 12h1v1h-1zM35 12h1v1h-1zM5 13h1v1h-1zM15 13h1v1h-1zM33 13h1v1h-1zM19 14h1v1h-1zM27 14h1v1h-1zM29 14h1v1h-1zM27 15h1v1h-1zM0 21h1v1h-1zM5 21h1v1h-1zM36 21h1v1h-1zM33 22h1v1h-1zM3 23h1v1h-1zM20 23h1v1h-1zM9 24h1v1h-1zM19 24h1v1h-1zM7 25h1v1h-1zM18 25h1v1h-1zM35 25h1v1h-1zM24 27h1v1h-1zM0 29h1v1h-1zM35 30h1v1h-1zM33 31h1v1h-1zM18 33h1v1h-1zM27 34h1v1h-1zM27 35h1v1h-1zM33 36h1v1h-1zM35 36h1v1h-1zM6 37h1v1h-1zM46 37h1v1h-1zM3 38h1v1h-1zM27 39h1v1h-1z"/><path fill="#d34141" d="M6 0h1v1h-1zM10 0h1v1h-1zM14 0h1v1h-1zM17 0h1v1h-1zM27 0h1v1h-1zM33 0h1v1h-1zM41 0h1v1h-1zM10 1h1v1h-1zM15 1h1v1h-1zM18 1h1v1h-1zM31 1h1v1h-1zM37 1h1v1h-1zM18 2h3v1h-3zM26 2h1v1h-1zM0 3h1v1h-1zM31 3h1v1h-1zM5 4h1v1h-1zM19 4h1v1h-1zM0 5h1v1h-1zM20 5h1v1h-1zM5 6h1v1h-1zM17 6h1v1h-1zM44 6h1v1h-1zM46 6h1v1h-1zM14 7h1v1h-1zM20 7h1v1h-1zM25 7h1v1h-1zM33 7h1v1h-1zM40 7h1v1h-1zM7 8h1v1h-1zM20 8h1v1h-1zM22 8h1v1h-1zM25 8h1v1h-1zM31 8h1v1h-1zM39 8h1v1h-1zM45 8h1v1h-1zM49 8h1v1h-1zM0 9h1v1h-1zM6 9h1v1h-1zM19 9h2v1h-2zM23 9h1v1h-1zM31 9h1v1h-1zM15 10h1v1h-1zM19 10h1v1h-1zM31 10h1v1h-1zM39 10h1v1h-1zM42 10h1v1h-1zM46 10h1v1h-1zM5 11h1v1h-1zM8 11h2v1h-2zM15 11h1v1h-1zM19 11h1v1h-1zM39 11h2v1h-2zM46 11h1v1h-1zM5 12h1v1h-1zM15 12h1v1h-1zM25 12h1v1h-1zM27 12h1v1h-1zM29 12h1v1h-1zM36 12h1v1h-1zM0 13h1v1h-1zM35 13h1v1h-1zM19 15h1v1h-1zM5 16h1v1h-1zM27 17h1v1h-1zM27 19h1v1h-1zM27 23h1v1h-1zM0 26h1v1h-1zM3 27h1v1h-1zM3 29h1v1h-1zM27 29h1v1h-1zM5 30h1v1h-1zM27 30h1v1h-1z"/><path fill="#cd2626" d="M3 0h1v1h-1zM19 0h1v1h-1zM24 0h1v1h-1zM29 0h1v1h-1zM35 0h1v1h-1zM42 0h1v1h-1zM5 1h2v1h-2zM25 1h1v1h-1zM27 1h1v1h-1zM33 1h1v1h-1zM35 1h1v1h-1zM0 2h1v1h-1zM5 2h2v1h-2zM15 2h1v1h-1zM23 2h2v1h-2zM27 2h1v1h-1zM31 2h1v1h-1zM46 2h1v1h-1zM3 3h1v1h-1zM5 3h1v1h-1zM17 3h1v1h-1zM19 3h2v1h-2zM27 3h1v1h-1zM33 3h1v1h-1zM36 3h1v1h-1zM40 3h1v1h-1zM0 4h1v1h-1zM6 4h2v1h-2zM18 4h1v1h-1zM20 4h1v1h-1zM25 4h1v1h-1zM27 4h1v1h-1zM33 4h1v1h-1zM35 4h3v1h-3zM39 4h1v1h-1zM46 4h1v1h-1zM3 5h1v1h-1zM5 5h1v1h-1zM18 5h2v1h-2zM27 5h1v1h-1zM35 5h1v1h-1zM49 5h1v1h-1zM0 6h2v1h-2zM3 6h1v1h-1zM9 6h1v1h-1zM14 6h2v1h-2zM20 6h1v1h-1zM24 6h1v1h-1zM27 6h1v1h-1zM31 6h1v1h-1zM35 6h1v1h-1zM42 6h1v1h-1zM5 7h1v1h-1zM7 7h1v1h-1zM11 7h1v1h-1zM19 7h1v1h-1zM24 7h1v1h-1zM27 7h1v1h-1zM31 7h1v1h-1zM35 7h1v1h-1zM46 7h1v1h-1zM5 8h1v1h-1zM9 8h1v1h-1zM13 8h1v1h-1zM15 8h1v1h-1zM18 8h2v1h-2zM23 8h1v1h-1zM27 8h1v1h-1zM35 8h2v1h-2zM3 9h1v1h-1zM7 9h1v1h-1zM27 9h1v1h-1zM29 9h1v1h-1zM35 9h1v1h-1zM42 9h1v1h-1zM46 9h1v1h-1zM49 9h1v1h-1zM0 10h1v1h-1zM3 10h1v1h-1zM5 10h2v1h-2zM12 10h1v1h-1zM23 10h1v1h-1zM27 10h1v1h-1zM35 10h1v1h-1zM0 11h1v1h-1zM3 11h1v1h-1zM14 11h1v1h-1zM20 11h1v1h-1zM27 11h1v1h-1zM30 11h1v1h-1zM35 11h1v1h-1zM20 12h1v1h-1zM3 13h1v1h-1zM27 13h1v1h-1z"/></g>
<rect x="44" y="392" width="121" height="6.7" fill="#1f4a8a"/>
<rect x="168.4" y="392" width="77.8" height="6.7" fill="#e5312b"/>
<rect x="249" y="392" width="77.8" height="6.7" fill="#43ab4f"/>
<rect x="44" y="400.1" width="33.3" height="6.7" fill="#df8ac4"/>
<rect x="77.3" y="400.1" width="22.5" height="6.7" fill="#4cc0e6"/>
<rect x="99.8" y="400.1" width="33.5" height="6.7" fill="#df8ac4"/>
<rect x="133.3" y="400.1" width="31.7" height="6.7" fill="#4cc0e6"/>
<rect x="168.4" y="400.1" width="22.6" height="6.7" fill="#df8ac4"/>
<rect x="191" y="400.1" width="18.8" height="6.7" fill="#4cc0e6"/>
<rect x="209.8" y="400.1" width="14.2" height="6.7" fill="#df8ac4"/>
<rect x="224" y="400.1" width="22.2" height="6.7" fill="#4cc0e6"/>
<rect x="249" y="400.1" width="31" height="6.7" fill="#df8ac4"/>
<rect x="280" y="400.1" width="17" height="6.7" fill="#4cc0e6"/>
<rect x="297" y="400.1" width="16" height="6.7" fill="#df8ac4"/>
<rect x="313" y="400.1" width="13.8" height="6.7" fill="#4cc0e6"/>
<rect x="44" y="432.4" width="55.8" height="6.7" fill="#f28b82"/>
<rect x="99.8" y="432.4" width="65.2" height="6.7" fill="#4cb466"/>
<rect x="168.4" y="432.4" width="41.4" height="6.7" fill="#f28b82"/>
<rect x="209.8" y="432.4" width="36.4" height="6.7" fill="#4cb466"/>
<rect x="249" y="432.4" width="48" height="6.7" fill="#f28b82"/>
<rect x="297" y="432.4" width="29.8" height="6.7" fill="#4cb466"/>
<rect x="44" y="408.1" width="22" height="6.7" fill="#c896cc"/>
<rect x="66" y="408.1" width="11" height="6.7" fill="#c9b52a"/>
<rect x="77" y="408.1" width="3" height="6.7" fill="#c896cc"/>
<rect x="80" y="408.1" width="20" height="6.7" fill="#c9b52a"/>
<rect x="100" y="408.1" width="14" height="6.7" fill="#c896cc"/>
<rect x="114" y="408.1" width="51" height="6.7" fill="#c9b52a"/>
<rect x="168.4" y="408.1" width="7.6" height="6.7" fill="#c896cc"/>
<rect x="176" y="408.1" width="24" height="6.7" fill="#c9b52a"/>
<rect x="200" y="408.1" width="6" height="6.7" fill="#c896cc"/>
<rect x="206" y="408.1" width="40.2" height="6.7" fill="#c9b52a"/>
<rect x="249" y="408.1" width="19" height="6.7" fill="#c896cc"/>
<rect x="268" y="408.1" width="22" height="6.7" fill="#c9b52a"/>
<rect x="290" y="408.1" width="6" height="6.7" fill="#45b8b0"/>
<rect x="296" y="408.1" width="30.8" height="6.7" fill="#c9b52a"/>
<rect x="91" y="408.1" width="1.5" height="6.7" fill="#45b8b0"/>
<rect x="96" y="408.1" width="2" height="6.7" fill="#e9a528"/>
<rect x="145" y="408.1" width="2" height="6.7" fill="#45b8b0"/>
<rect x="155" y="408.1" width="2" height="6.7" fill="#c896cc"/>
<rect x="160" y="408.1" width="2" height="6.7" fill="#e9a528"/>
<rect x="186" y="408.1" width="2" height="6.7" fill="#45b8b0"/>
<rect x="193" y="408.1" width="2" height="6.7" fill="#c896cc"/>
<rect x="228" y="408.1" width="2" height="6.7" fill="#c896cc"/>
<rect x="238" y="408.1" width="2" height="6.7" fill="#45b8b0"/>
<rect x="300" y="408.1" width="2" height="6.7" fill="#c896cc"/>
<rect x="310" y="408.1" width="2" height="6.7" fill="#e9a528"/>
<rect x="318" y="408.1" width="2" height="6.7" fill="#c896cc"/>
<rect x="44" y="416.2" width="121" height="6.7" fill="#c896cc"/>
<rect x="168.4" y="416.2" width="77.8" height="6.7" fill="#c896cc"/>
<rect x="249" y="416.2" width="77.8" height="6.7" fill="#c896cc"/>
<rect x="93.8" y="416.2" width="1.2" height="6.7" fill="#df8ac4"/>
<rect x="97" y="416.2" width="2.8" height="6.7" fill="#df8ac4"/>
<rect x="147.7" y="416.2" width="13" height="6.7" fill="#df8ac4"/>
<rect x="186" y="416.2" width="6" height="6.7" fill="#df8ac4"/>
<rect x="205" y="416.2" width="3" height="6.7" fill="#df8ac4"/>
<rect x="230" y="416.2" width="6" height="6.7" fill="#df8ac4"/>
<rect x="290" y="416.2" width="6" height="6.7" fill="#df8ac4"/>
<rect x="318" y="416.2" width="4" height="6.7" fill="#df8ac4"/>
<rect x="68" y="416.2" width="1" height="6.7" fill="#4db8a6"/>
<rect x="80" y="416.2" width="1" height="6.7" fill="#4db8a6"/>
<rect x="183" y="416.2" width="1" height="6.7" fill="#4db8a6"/>
<rect x="264" y="416.2" width="1" height="6.7" fill="#4db8a6"/>
<rect x="44" y="424.3" width="15" height="6.7" fill="#e9a528"/>
<rect x="59" y="424.3" width="7" height="6.7" fill="#7cc242"/>
<rect x="66" y="424.3" width="6" height="6.7" fill="#e9a528"/>
<rect x="72" y="424.3" width="5" height="6.7" fill="#7cc242"/>
<rect x="77" y="424.3" width="11" height="6.7" fill="#e9a528"/>
<rect x="88" y="424.3" width="12" height="6.7" fill="#7cc242"/>
<rect x="100" y="424.3" width="10" height="6.7" fill="#e9a528"/>
<rect x="110" y="424.3" width="4" height="6.7" fill="#7cc242"/>
<rect x="114" y="424.3" width="12" height="6.7" fill="#e9a528"/>
<rect x="126" y="424.3" width="7" height="6.7" fill="#7cc242"/>
<rect x="133" y="424.3" width="10" height="6.7" fill="#e9a528"/>
<rect x="143" y="424.3" width="3" height="6.7" fill="#7cc242"/>
<rect x="146" y="424.3" width="9" height="6.7" fill="#e9a528"/>
<rect x="155" y="424.3" width="3" height="6.7" fill="#7cc242"/>
<rect x="158" y="424.3" width="3" height="6.7" fill="#e9a528"/>
<rect x="161" y="424.3" width="4" height="6.7" fill="#4db8a6"/>
<rect x="168.4" y="424.3" width="3.6" height="6.7" fill="#e9a528"/>
<rect x="172" y="424.3" width="4" height="6.7" fill="#7cc242"/>
<rect x="176" y="424.3" width="16" height="6.7" fill="#e9a528"/>
<rect x="192" y="424.3" width="6" height="6.7" fill="#7cc242"/>
<rect x="198" y="424.3" width="8" height="6.7" fill="#e9a528"/>
<rect x="206" y="424.3" width="6" height="6.7" fill="#4db8a6"/>
<rect x="212" y="424.3" width="10" height="6.7" fill="#e9a528"/>
<rect x="222" y="424.3" width="6" height="6.7" fill="#7cc242"/>
<rect x="228" y="424.3" width="10" height="6.7" fill="#e9a528"/>
<rect x="238" y="424.3" width="4" height="6.7" fill="#7cc242"/>
<rect x="242" y="424.3" width="4.2" height="6.7" fill="#e9a528"/>
<rect x="249" y="424.3" width="8" height="6.7" fill="#e9a528"/>
<rect x="257" y="424.3" width="15" height="6.7" fill="#7cc242"/>
<rect x="272" y="424.3" width="14" height="6.7" fill="#e9a528"/>
<rect x="286" y="424.3" width="10" height="6.7" fill="#7cc242"/>
<rect x="296" y="424.3" width="10" height="6.7" fill="#e9a528"/>
<rect x="306" y="424.3" width="6" height="6.7" fill="#7cc242"/>
<rect x="312" y="424.3" width="8" height="6.7" fill="#e9a528"/>
<rect x="320" y="424.3" width="6.8" height="6.7" fill="#7cc242"/>
<rect x="44" y="440.4" width="121" height="6.7" fill="#56bd92"/>
<rect x="45.1" y="440.4" width="1.0" height="6.7" fill="#d4efe3"/><rect x="49.7" y="440.4" width="1.2" height="6.7" fill="#b9e4d2"/><rect x="53.3" y="440.4" width="0.8" height="6.7" fill="#e6f6ee"/><rect x="57.1" y="440.4" width="1.2" height="6.7" fill="#b9e4d2"/><rect x="59.5" y="440.4" width="1.0" height="6.7" fill="#d4efe3"/><rect x="64.1" y="440.4" width="0.8" height="6.7" fill="#d4efe3"/><rect x="66.1" y="440.4" width="0.8" height="6.7" fill="#e6f6ee"/><rect x="69.3" y="440.4" width="1.2" height="6.7" fill="#d4efe3"/><rect x="73.5" y="440.4" width="0.8" height="6.7" fill="#b9e4d2"/><rect x="77.9" y="440.4" width="1.2" height="6.7" fill="#9fd9c0"/><rect x="82.1" y="440.4" width="1.2" height="6.7" fill="#d4efe3"/><rect x="85.7" y="440.4" width="1.2" height="6.7" fill="#d4efe3"/><rect x="90.5" y="440.4" width="1.0" height="6.7" fill="#9fd9c0"/><rect x="93.3" y="440.4" width="1.0" height="6.7" fill="#9fd9c0"/><rect x="96.7" y="440.4" width="1.2" height="6.7" fill="#d4efe3"/><rect x="99.7" y="440.4" width="0.8" height="6.7" fill="#9fd9c0"/><rect x="101.7" y="440.4" width="0.8" height="6.7" fill="#e6f6ee"/><rect x="106.1" y="440.4" width="1.0" height="6.7" fill="#b9e4d2"/><rect x="110.7" y="440.4" width="1.2" height="6.7" fill="#b9e4d2"/><rect x="114.9" y="440.4" width="1.2" height="6.7" fill="#9fd9c0"/><rect x="119.7" y="440.4" width="1.0" height="6.7" fill="#9fd9c0"/><rect x="124.3" y="440.4" width="1.0" height="6.7" fill="#d4efe3"/><rect x="126.5" y="440.4" width="1.2" height="6.7" fill="#d4efe3"/><rect x="130.7" y="440.4" width="1.0" height="6.7" fill="#9fd9c0"/><rect x="134.7" y="440.4" width="1.0" height="6.7" fill="#9fd9c0"/><rect x="137.5" y="440.4" width="1.2" height="6.7" fill="#b9e4d2"/><rect x="140.5" y="440.4" width="1.2" height="6.7" fill="#9fd9c0"/><rect x="144.7" y="440.4" width="1.2" height="6.7" fill="#b9e4d2"/><rect x="147.7" y="440.4" width="1.0" height="6.7" fill="#9fd9c0"/><rect x="151.7" y="440.4" width="1.2" height="6.7" fill="#9fd9c0"/><rect x="156.5" y="440.4" width="1.0" height="6.7" fill="#e6f6ee"/><rect x="159.9" y="440.4" width="1.2" height="6.7" fill="#e6f6ee"/><rect x="163.5" y="440.4" width="1.0" height="6.7" fill="#b9e4d2"/>
<rect x="168.4" y="440.4" width="77.8" height="6.7" fill="#56bd92"/>
<rect x="168.4" y="440.4" width="0.8" height="6.7" fill="#e6f6ee"/><rect x="171" y="440.4" width="1.2" height="6.7" fill="#d4efe3"/><rect x="174" y="440.4" width="0.8" height="6.7" fill="#b9e4d2"/><rect x="176.6" y="440.4" width="0.8" height="6.7" fill="#d4efe3"/><rect x="178.6" y="440.4" width="0.8" height="6.7" fill="#b9e4d2"/><rect x="183" y="440.4" width="1.2" height="6.7" fill="#e6f6ee"/><rect x="187.8" y="440.4" width="1.0" height="6.7" fill="#b9e4d2"/><rect x="192.4" y="440.4" width="0.8" height="6.7" fill="#d4efe3"/><rect x="194.4" y="440.4" width="1.0" height="6.7" fill="#9fd9c0"/><rect x="197.2" y="440.4" width="0.8" height="6.7" fill="#9fd9c0"/><rect x="201" y="440.4" width="1.0" height="6.7" fill="#b9e4d2"/><rect x="203.8" y="440.4" width="1.2" height="6.7" fill="#b9e4d2"/><rect x="208" y="440.4" width="1.2" height="6.7" fill="#d4efe3"/><rect x="210.4" y="440.4" width="0.8" height="6.7" fill="#9fd9c0"/><rect x="213" y="440.4" width="0.8" height="6.7" fill="#b9e4d2"/><rect x="216.8" y="440.4" width="0.8" height="6.7" fill="#d4efe3"/><rect x="221.2" y="440.4" width="1.0" height="6.7" fill="#b9e4d2"/><rect x="224" y="440.4" width="1.0" height="6.7" fill="#9fd9c0"/><rect x="226.8" y="440.4" width="1.0" height="6.7" fill="#b9e4d2"/><rect x="230.8" y="440.4" width="0.8" height="6.7" fill="#9fd9c0"/><rect x="234" y="440.4" width="1.0" height="6.7" fill="#9fd9c0"/><rect x="238.6" y="440.4" width="1.0" height="6.7" fill="#e6f6ee"/><rect x="242" y="440.4" width="0.8" height="6.7" fill="#d4efe3"/><rect x="245.2" y="440.4" width="0.8" height="6.7" fill="#9fd9c0"/>
<rect x="249" y="440.4" width="77.8" height="6.7" fill="#56bd92"/>
<rect x="249.2" y="440.4" width="0.8" height="6.7" fill="#b9e4d2"/><rect x="252.4" y="440.4" width="1.2" height="6.7" fill="#b9e4d2"/><rect x="256.6" y="440.4" width="0.8" height="6.7" fill="#d4efe3"/><rect x="258.6" y="440.4" width="1.0" height="6.7" fill="#9fd9c0"/><rect x="260.8" y="440.4" width="1.2" height="6.7" fill="#e6f6ee"/><rect x="264.4" y="440.4" width="1.2" height="6.7" fill="#d4efe3"/><rect x="269.2" y="440.4" width="0.8" height="6.7" fill="#d4efe3"/><rect x="273" y="440.4" width="1.2" height="6.7" fill="#b9e4d2"/><rect x="276.6" y="440.4" width="0.8" height="6.7" fill="#e6f6ee"/><rect x="278.6" y="440.4" width="1.0" height="6.7" fill="#d4efe3"/><rect x="280.8" y="440.4" width="1.2" height="6.7" fill="#d4efe3"/><rect x="283.8" y="440.4" width="1.0" height="6.7" fill="#d4efe3"/><rect x="287.8" y="440.4" width="0.8" height="6.7" fill="#d4efe3"/><rect x="292.2" y="440.4" width="1.0" height="6.7" fill="#b9e4d2"/><rect x="295" y="440.4" width="1.0" height="6.7" fill="#9fd9c0"/><rect x="299" y="440.4" width="0.8" height="6.7" fill="#9fd9c0"/><rect x="303.4" y="440.4" width="1.2" height="6.7" fill="#d4efe3"/><rect x="305.8" y="440.4" width="1.2" height="6.7" fill="#9fd9c0"/><rect x="308.8" y="440.4" width="1.0" height="6.7" fill="#9fd9c0"/><rect x="311" y="440.4" width="0.8" height="6.7" fill="#e6f6ee"/><rect x="314.2" y="440.4" width="1.0" height="6.7" fill="#d4efe3"/><rect x="318.2" y="440.4" width="0.8" height="6.7" fill="#b9e4d2"/><rect x="322" y="440.4" width="0.8" height="6.7" fill="#d4efe3"/><rect x="324" y="440.4" width="0.8" height="6.7" fill="#9fd9c0"/><rect x="326" y="440.4" width="1.2" height="6.7" fill="#9fd9c0"/>
<text x="329.5" y="398.3" font-size="8.1" text-anchor="start" fill="#111" stroke="#111" stroke-width="0.08" >Cluster</text>
<text x="329.5" y="406.4" font-size="8.1" text-anchor="start" fill="#111" stroke="#111" stroke-width="0.08" >Stage</text>
<text x="329.5" y="414.4" font-size="8.1" text-anchor="start" fill="#111" stroke="#111" stroke-width="0.08" >T stage</text>
<text x="329.5" y="422.5" font-size="8.1" text-anchor="start" fill="#111" stroke="#111" stroke-width="0.08" >N stage</text>
<text x="329.5" y="430.6" font-size="8.1" text-anchor="start" fill="#111" stroke="#111" stroke-width="0.08" >M stage</text>
<text x="329.5" y="438.7" font-size="8.1" text-anchor="start" fill="#111" stroke="#111" stroke-width="0.08" >Gender</text>
<text x="329.5" y="446.7" font-size="8.1" text-anchor="start" fill="#111" stroke="#111" stroke-width="0.08" >Age</text>
<linearGradient id="cbar" x1="0" y1="0" x2="0" y2="1"><stop offset="0" stop-color="#cd2626"/><stop offset="0.5" stop-color="#ffffff"/><stop offset="1" stop-color="#000080"/></linearGradient>
<rect x="334" y="449.7" width="6.6" height="101.3" fill="url(#cbar)"/>
<text x="343" y="466" font-size="6.8" text-anchor="start" fill="#222" stroke="#222" stroke-width="0.08" >1</text>
<text x="343" y="484.3" font-size="6.8" text-anchor="start" fill="#222" stroke="#222" stroke-width="0.08" >0.5</text>
<text x="343" y="502.5" font-size="6.8" text-anchor="start" fill="#222" stroke="#222" stroke-width="0.08" >0</text>
<text x="343" y="521.2" font-size="6.8" text-anchor="start" fill="#222" stroke="#222" stroke-width="0.08" >−0.5</text>
<text x="343" y="539.5" font-size="6.8" text-anchor="start" fill="#222" stroke="#222" stroke-width="0.08" >−1</text>
<text x="368.6" y="453.1" font-size="7.6" text-anchor="start" fill="#111" stroke="#111" stroke-width="0.08" >Cluster</text>
<rect x="368.6" y="455.6" width="9.3" height="9.53" fill="#174a8c"/>
<text x="380.1" y="462.8" font-size="6.8" text-anchor="start" fill="#222" stroke="#222" stroke-width="0.08" >C1</text>
<rect x="368.6" y="465.1" width="9.3" height="9.53" fill="#e5161d"/>
<text x="380.1" y="472.4" font-size="6.8" text-anchor="start" fill="#222" stroke="#222" stroke-width="0.08" >C2</text>
<rect x="368.6" y="474.7" width="9.3" height="9.53" fill="#3aaa3e"/>
<text x="380.1" y="481.9" font-size="6.8" text-anchor="start" fill="#222" stroke="#222" stroke-width="0.08" >C3</text>
<text x="368.6" y="498.8" font-size="7.6" text-anchor="start" fill="#111" stroke="#111" stroke-width="0.08" >Stage</text>
<rect x="368.6" y="501.3" width="9.3" height="9.5" fill="#e08ac6"/>
<text x="380.1" y="508.5" font-size="6.8" text-anchor="start" fill="#222" stroke="#222" stroke-width="0.08" >I</text>
<rect x="368.6" y="510.8" width="9.3" height="9.5" fill="#3dbed0"/>
<text x="380.1" y="518" font-size="6.8" text-anchor="start" fill="#222" stroke="#222" stroke-width="0.08" >II</text>
<rect x="368.6" y="520.3" width="9.3" height="9.5" fill="#3cc0e2"/>
<text x="380.1" y="527.5" font-size="6.8" text-anchor="start" fill="#222" stroke="#222" stroke-width="0.08" >III</text>
<rect x="368.6" y="529.8" width="9.3" height="9.5" fill="#2db7ea"/>
<text x="380.1" y="537" font-size="6.8" text-anchor="start" fill="#222" stroke="#222" stroke-width="0.08" >IV</text>
<rect x="368.6" y="539.3" width="9.3" height="9.5" fill="#b392d6"/>
<text x="380.1" y="546.5" font-size="6.8" text-anchor="start" fill="#222" stroke="#222" stroke-width="0.08" >X</text>
<text x="333.9" y="562.5" font-size="7.6" text-anchor="start" fill="#111" stroke="#111" stroke-width="0.08" >N stage</text>
<rect x="333.9" y="565" width="9.3" height="9.7" fill="#c384c2"/>
<text x="345.4" y="572.3" font-size="6.8" text-anchor="start" fill="#222" stroke="#222" stroke-width="0.08" >N0</text>
<rect x="333.9" y="574.7" width="9.3" height="9.7" fill="#c384c2"/>
<text x="345.4" y="582" font-size="6.8" text-anchor="start" fill="#222" stroke="#222" stroke-width="0.08" >N1</text>
<rect x="333.9" y="584.4" width="9.3" height="9.7" fill="#eb7aa4"/>
<text x="345.4" y="591.7" font-size="6.8" text-anchor="start" fill="#222" stroke="#222" stroke-width="0.08" >N2</text>
<rect x="333.9" y="594.1" width="9.3" height="9.7" fill="#5eaee2"/>
<text x="345.4" y="601.4" font-size="6.8" text-anchor="start" fill="#222" stroke="#222" stroke-width="0.08" >N3</text>
<rect x="333.9" y="603.8" width="9.3" height="9.7" fill="#4bb486"/>
<text x="345.4" y="611.1" font-size="6.8" text-anchor="start" fill="#222" stroke="#222" stroke-width="0.08" >NX</text>
<text x="368.6" y="562.5" font-size="7.6" text-anchor="start" fill="#111" stroke="#111" stroke-width="0.08" >T stage</text>
<rect x="368.6" y="565" width="9.3" height="9.7" fill="#c476bd"/>
<text x="380.1" y="572.3" font-size="6.8" text-anchor="start" fill="#222" stroke="#222" stroke-width="0.08" >T1</text>
<rect x="368.6" y="574.7" width="9.3" height="9.7" fill="#c4b225"/>
<text x="380.1" y="582" font-size="6.8" text-anchor="start" fill="#222" stroke="#222" stroke-width="0.08" >T2</text>
<rect x="368.6" y="584.4" width="9.3" height="9.7" fill="#3fbab4"/>
<text x="380.1" y="591.7" font-size="6.8" text-anchor="start" fill="#222" stroke="#222" stroke-width="0.08" >T3</text>
<rect x="368.6" y="594.1" width="9.3" height="9.7" fill="#f3a433"/>
<text x="380.1" y="601.4" font-size="6.8" text-anchor="start" fill="#222" stroke="#222" stroke-width="0.08" >T4</text>
<rect x="368.6" y="603.8" width="9.3" height="9.7" fill="#aaa4da"/>
<text x="380.1" y="611.1" font-size="6.8" text-anchor="start" fill="#222" stroke="#222" stroke-width="0.08" >TX</text>
<text x="333.9" y="625" font-size="7.6" text-anchor="start" fill="#111" stroke="#111" stroke-width="0.08" >M stage</text>
<rect x="333.9" y="627.5" width="9.3" height="9.7" fill="#e2aa22"/>
<text x="345.4" y="634.8" font-size="6.8" text-anchor="start" fill="#222" stroke="#222" stroke-width="0.08" >M0</text>
<rect x="333.9" y="637.2" width="9.3" height="9.7" fill="#3fb8a2"/>
<text x="345.4" y="644.5" font-size="6.8" text-anchor="start" fill="#222" stroke="#222" stroke-width="0.08" >M1</text>
<rect x="333.9" y="646.9" width="9.3" height="9.7" fill="#82c432"/>
<text x="345.4" y="654.2" font-size="6.8" text-anchor="start" fill="#222" stroke="#222" stroke-width="0.08" >MX</text>
<text x="368.6" y="625" font-size="7.6" text-anchor="start" fill="#111" stroke="#111" stroke-width="0.08" >Age</text>
<rect x="368.6" y="627.5" width="9.3" height="9.8" fill="#3a9a62"/>
<rect x="368.6" y="637.3" width="9.3" height="9.8" fill="#62ba9a"/>
<rect x="368.6" y="647.1" width="9.3" height="9.8" fill="#acd9da"/>
<rect x="368.6" y="656.9" width="9.3" height="9.8" fill="#e9f1f5"/>
<text x="379.8" y="635.2" font-size="6.8" text-anchor="start" fill="#222" stroke="#222" stroke-width="0.08" >80</text>
<text x="379.8" y="664.1" font-size="6.8" text-anchor="start" fill="#222" stroke="#222" stroke-width="0.08" >40</text>
<text x="333.9" y="669.4" font-size="7.6" text-anchor="start" fill="#111" stroke="#111" stroke-width="0.08" >Gender</text>
<rect x="333.9" y="671.9" width="9.3" height="9.7" fill="#f28a82"/>
<text x="345.4" y="679.2" font-size="6.8" text-anchor="start" fill="#222" stroke="#222" stroke-width="0.08" >Female</text>
<rect x="333.9" y="681.6" width="9.3" height="9.7" fill="#4ab272"/>
<text x="345.4" y="688.9" font-size="6.8" text-anchor="start" fill="#222" stroke="#222" stroke-width="0.08" >Male</text>
<path d="M465 398.6V682.3M453.6 670.8H735.0M551.2 398.6V682.3M453.6 584.4H735.0M637.4 398.6V682.3M453.6 498H735.0M723.6 398.6V682.3M453.6 411.6H735.0" stroke="#f0f0f0" stroke-width="0.7" fill="none"/>
<path d="M508.1 398.6V682.3M453.6 627.6H735.0M594.3 398.6V682.3M453.6 541.2H735.0M680.5 398.6V682.3M453.6 454.8H735.0" stroke="#e6e6e6" stroke-width="1.1" fill="none"/>
<g fill="#5a8fd5"><circle cx="528.4" cy="485.2" r="2.4"/><circle cx="533.9" cy="508.7" r="2.4"/><circle cx="548.1" cy="517.8" r="2.4"/><circle cx="549" cy="521.8" r="2.4"/><circle cx="540.1" cy="525.5" r="2.4"/><circle cx="546.1" cy="528.4" r="2.4"/><circle cx="548" cy="517.8" r="2.4"/><circle cx="563.3" cy="521.8" r="2.4"/><circle cx="566.6" cy="523.7" r="2.4"/><circle cx="581.9" cy="521.5" r="2.4"/><circle cx="576.6" cy="526.4" r="2.4"/><circle cx="541.3" cy="525.7" r="2.4"/><circle cx="565.3" cy="511.1" r="2.4"/><circle cx="482.3" cy="539.3" r="2.4"/><circle cx="474.5" cy="548.6" r="2.4"/><circle cx="466.3" cy="555.6" r="2.4"/><circle cx="481.3" cy="563.9" r="2.4"/><circle cx="496.6" cy="547.3" r="2.4"/><circle cx="509.3" cy="541.5" r="2.4"/><circle cx="516.8" cy="549" r="2.4"/><circle cx="507.1" cy="556.8" r="2.4"/><circle cx="500.6" cy="560.2" r="2.4"/><circle cx="504.6" cy="561.5" r="2.4"/><circle cx="496.9" cy="566.1" r="2.4"/><circle cx="509.5" cy="568.1" r="2.4"/><circle cx="513.9" cy="557.2" r="2.4"/><circle cx="517.5" cy="558.8" r="2.4"/><circle cx="523.5" cy="559.6" r="2.4"/><circle cx="517.5" cy="564.9" r="2.4"/><circle cx="525.5" cy="539.5" r="2.4"/><circle cx="528.8" cy="534.9" r="2.4"/><circle cx="531.5" cy="535.6" r="2.4"/><circle cx="530.5" cy="542.9" r="2.4"/><circle cx="532.8" cy="546.6" r="2.4"/><circle cx="535.5" cy="551.3" r="2.4"/><circle cx="539.7" cy="549.9" r="2.4"/><circle cx="536.8" cy="537.3" r="2.4"/><circle cx="542.1" cy="535.3" r="2.4"/><circle cx="546.1" cy="536.6" r="2.4"/><circle cx="540.1" cy="526" r="2.4"/><circle cx="535.5" cy="561.5" r="2.4"/><circle cx="541.2" cy="560.2" r="2.4"/><circle cx="535.5" cy="567.5" r="2.4"/><circle cx="547.4" cy="566.5" r="2.4"/><circle cx="552.1" cy="566.5" r="2.4"/><circle cx="531.5" cy="574.1" r="2.4"/><circle cx="531.9" cy="579.4" r="2.4"/><circle cx="533.2" cy="581.8" r="2.4"/><circle cx="546.1" cy="577.8" r="2.4"/><circle cx="552.1" cy="576.5" r="2.4"/><circle cx="525.5" cy="588.5" r="2.4"/><circle cx="526.8" cy="591.8" r="2.4"/><circle cx="524.4" cy="594.7" r="2.4"/><circle cx="532.5" cy="595.8" r="2.4"/><circle cx="539.4" cy="593.1" r="2.4"/><circle cx="554.7" cy="588.5" r="2.4"/><circle cx="548" cy="517" r="2.4"/><circle cx="562.6" cy="521.6" r="2.4"/><circle cx="566.6" cy="523.6" r="2.4"/><circle cx="581.9" cy="521" r="2.4"/><circle cx="577.2" cy="527" r="2.4"/><circle cx="542" cy="535" r="2.4"/><circle cx="546" cy="536.3" r="2.4"/><circle cx="540.7" cy="550.2" r="2.4"/><circle cx="541.3" cy="560.2" r="2.4"/><circle cx="565.9" cy="553.6" r="2.4"/><circle cx="571.2" cy="556.2" r="2.4"/><circle cx="583.2" cy="557.6" r="2.4"/><circle cx="588.5" cy="559.5" r="2.4"/><circle cx="548" cy="566.2" r="2.4"/><circle cx="553.3" cy="566.2" r="2.4"/><circle cx="558.6" cy="564.9" r="2.4"/><circle cx="581.2" cy="565.5" r="2.4"/><circle cx="560.6" cy="571.5" r="2.4"/><circle cx="564.6" cy="574.8" r="2.4"/><circle cx="569.9" cy="576.2" r="2.4"/><circle cx="581.2" cy="572.2" r="2.4"/><circle cx="582.6" cy="577.5" r="2.4"/><circle cx="587.2" cy="578.2" r="2.4"/><circle cx="546" cy="577.5" r="2.4"/><circle cx="552" cy="576.2" r="2.4"/><circle cx="555.3" cy="577.5" r="2.4"/><circle cx="556.6" cy="584.1" r="2.4"/><circle cx="556" cy="588.1" r="2.4"/><circle cx="563.3" cy="590.1" r="2.4"/><circle cx="564.6" cy="586.1" r="2.4"/><circle cx="571.2" cy="585.5" r="2.4"/><circle cx="573.2" cy="582.8" r="2.4"/><circle cx="578.6" cy="586.8" r="2.4"/><circle cx="588.5" cy="588.8" r="2.4"/><circle cx="590.5" cy="592.1" r="2.4"/><circle cx="565.9" cy="596.1" r="2.4"/><circle cx="567.3" cy="601.4" r="2.4"/><circle cx="572.6" cy="598.1" r="2.4"/><circle cx="579.9" cy="601.4" r="2.4"/><circle cx="583.2" cy="599.4" r="2.4"/><circle cx="578.6" cy="608.1" r="2.4"/><circle cx="588.5" cy="612.1" r="2.4"/><circle cx="597.8" cy="606.1" r="2.4"/><circle cx="601.8" cy="608.8" r="2.4"/><circle cx="603.2" cy="575.5" r="2.4"/><circle cx="602.5" cy="594.8" r="2.4"/><circle cx="607.8" cy="596.1" r="2.4"/><circle cx="609.8" cy="591.5" r="2.4"/><circle cx="612.5" cy="590.1" r="2.4"/><circle cx="540.7" cy="593.5" r="2.4"/><circle cx="632.1" cy="623.4" r="2.4"/><circle cx="524.3" cy="595" r="2.4"/><circle cx="532.3" cy="596" r="2.4"/><circle cx="565.4" cy="597" r="2.4"/><circle cx="572.8" cy="598.6" r="2.4"/><circle cx="566.8" cy="601.4" r="2.4"/><circle cx="579.8" cy="601.4" r="2.4"/><circle cx="583.4" cy="600" r="2.4"/><circle cx="578.4" cy="608.4" r="2.4"/><circle cx="588.8" cy="613" r="2.4"/><circle cx="597.3" cy="606.4" r="2.4"/><circle cx="602.1" cy="609" r="2.4"/><circle cx="596.3" cy="615" r="2.4"/><circle cx="602.7" cy="596" r="2.4"/><circle cx="607.7" cy="596.6" r="2.4"/><circle cx="532.9" cy="621.5" r="2.4"/><circle cx="554.9" cy="620.5" r="2.4"/><circle cx="559.4" cy="621.9" r="2.4"/><circle cx="563.8" cy="616.9" r="2.4"/><circle cx="577.8" cy="624.5" r="2.4"/><circle cx="584.2" cy="622.5" r="2.4"/><circle cx="598.7" cy="623.3" r="2.4"/><circle cx="601.7" cy="633.5" r="2.4"/><circle cx="612.7" cy="630.5" r="2.4"/><circle cx="614.1" cy="635.9" r="2.4"/><circle cx="618.7" cy="636.5" r="2.4"/><circle cx="618.1" cy="623.9" r="2.4"/><circle cx="619.7" cy="622.9" r="2.4"/><circle cx="626.7" cy="619" r="2.4"/><circle cx="624.1" cy="630.5" r="2.4"/><circle cx="628.7" cy="630.9" r="2.4"/><circle cx="632.1" cy="623.5" r="2.4"/><circle cx="624.7" cy="640.5" r="2.4"/><circle cx="568.2" cy="669.4" r="2.4"/></g>
<g fill="#e8675e"><circle cx="493.6" cy="440.6" r="2.4"/><circle cx="545" cy="450.9" r="2.4"/><circle cx="549.4" cy="462.2" r="2.4"/><circle cx="530.5" cy="465.5" r="2.4"/><circle cx="552.7" cy="483.2" r="2.4"/><circle cx="550.1" cy="485.2" r="2.4"/><circle cx="550.5" cy="491.4" r="2.4"/><circle cx="539.8" cy="493.4" r="2.4"/><circle cx="543.8" cy="501.5" r="2.4"/><circle cx="552.3" cy="500.2" r="2.4"/><circle cx="544.4" cy="511.1" r="2.4"/><circle cx="541.4" cy="515.1" r="2.4"/><circle cx="548.8" cy="513.5" r="2.4"/><circle cx="553.4" cy="513.1" r="2.4"/><circle cx="542.1" cy="518" r="2.4"/><circle cx="552.1" cy="520.4" r="2.4"/><circle cx="543" cy="526.8" r="2.4"/><circle cx="546.8" cy="525.7" r="2.4"/><circle cx="574.2" cy="446.2" r="2.4"/><circle cx="582.8" cy="455.5" r="2.4"/><circle cx="585" cy="459.3" r="2.4"/><circle cx="596.1" cy="466.6" r="2.4"/><circle cx="625.1" cy="472.3" r="2.4"/><circle cx="568.6" cy="479.9" r="2.4"/><circle cx="571.9" cy="477.9" r="2.4"/><circle cx="579.6" cy="476.5" r="2.4"/><circle cx="582.3" cy="479.5" r="2.4"/><circle cx="595.6" cy="482.1" r="2.4"/><circle cx="601.4" cy="484.5" r="2.4"/><circle cx="628.4" cy="485.6" r="2.4"/><circle cx="585.9" cy="487.2" r="2.4"/><circle cx="591.9" cy="487.8" r="2.4"/><circle cx="579.2" cy="488.8" r="2.4"/><circle cx="570.6" cy="490.9" r="2.4"/><circle cx="583.9" cy="491.8" r="2.4"/><circle cx="570.3" cy="492.5" r="2.4"/><circle cx="575.9" cy="496.1" r="2.4"/><circle cx="585.5" cy="501.1" r="2.4"/><circle cx="613.8" cy="492.5" r="2.4"/><circle cx="615.1" cy="497.6" r="2.4"/><circle cx="624.4" cy="497.4" r="2.4"/><circle cx="561.9" cy="505.8" r="2.4"/><circle cx="564.6" cy="509.5" r="2.4"/><circle cx="569.9" cy="509.1" r="2.4"/><circle cx="578.6" cy="507.1" r="2.4"/><circle cx="575.9" cy="510.5" r="2.4"/><circle cx="554" cy="512.7" r="2.4"/><circle cx="558.6" cy="515.1" r="2.4"/><circle cx="563.9" cy="513.1" r="2.4"/><circle cx="579.2" cy="515.1" r="2.4"/><circle cx="589.9" cy="513.1" r="2.4"/><circle cx="596.5" cy="509.8" r="2.4"/><circle cx="613.8" cy="510.5" r="2.4"/><circle cx="613.1" cy="513.1" r="2.4"/><circle cx="597.8" cy="516.4" r="2.4"/><circle cx="589.2" cy="517.1" r="2.4"/><circle cx="572.6" cy="517.8" r="2.4"/><circle cx="564.6" cy="520.4" r="2.4"/><circle cx="571.9" cy="522.4" r="2.4"/><circle cx="585.9" cy="525.1" r="2.4"/><circle cx="592.5" cy="523.1" r="2.4"/><circle cx="598.5" cy="521.1" r="2.4"/><circle cx="603.2" cy="521.8" r="2.4"/><circle cx="610.5" cy="517.1" r="2.4"/><circle cx="620.5" cy="521.5" r="2.4"/><circle cx="561.3" cy="525.7" r="2.4"/><circle cx="569.9" cy="527.7" r="2.4"/><circle cx="593.2" cy="528.4" r="2.4"/><circle cx="602.5" cy="528.4" r="2.4"/><circle cx="631.8" cy="526.4" r="2.4"/><circle cx="543.4" cy="526.6" r="2.4"/><circle cx="549.4" cy="536.6" r="2.4"/><circle cx="553.4" cy="534" r="2.4"/><circle cx="548.7" cy="553.2" r="2.4"/><circle cx="553.4" cy="549.9" r="2.4"/><circle cx="557.3" cy="516.3" r="2.4"/><circle cx="560.6" cy="515.7" r="2.4"/><circle cx="579.2" cy="516.3" r="2.4"/><circle cx="598.5" cy="517" r="2.4"/><circle cx="609.1" cy="517" r="2.4"/><circle cx="544" cy="526.3" r="2.4"/><circle cx="547.3" cy="525" r="2.4"/><circle cx="553.3" cy="533.6" r="2.4"/><circle cx="560" cy="525.6" r="2.4"/><circle cx="573.2" cy="522.3" r="2.4"/><circle cx="591.9" cy="523" r="2.4"/><circle cx="595.9" cy="527.6" r="2.4"/><circle cx="601.8" cy="524.3" r="2.4"/><circle cx="571.2" cy="531" r="2.4"/><circle cx="578.6" cy="532.3" r="2.4"/><circle cx="586.5" cy="529" r="2.4"/><circle cx="592.5" cy="529.6" r="2.4"/><circle cx="598.5" cy="531" r="2.4"/><circle cx="605.2" cy="529.6" r="2.4"/><circle cx="609.1" cy="523" r="2.4"/><circle cx="563.3" cy="536.9" r="2.4"/><circle cx="566.6" cy="538.9" r="2.4"/><circle cx="575.2" cy="536.3" r="2.4"/><circle cx="582.6" cy="539.6" r="2.4"/><circle cx="589.2" cy="536.3" r="2.4"/><circle cx="595.2" cy="538.3" r="2.4"/><circle cx="601.8" cy="535" r="2.4"/><circle cx="607.8" cy="538.3" r="2.4"/><circle cx="565.3" cy="543.6" r="2.4"/><circle cx="570.6" cy="545.6" r="2.4"/><circle cx="577.2" cy="543.6" r="2.4"/><circle cx="583.9" cy="541.6" r="2.4"/><circle cx="589.2" cy="543.6" r="2.4"/><circle cx="595.9" cy="544.9" r="2.4"/><circle cx="601.2" cy="541.6" r="2.4"/><circle cx="607.8" cy="545.6" r="2.4"/><circle cx="571.9" cy="550.2" r="2.4"/><circle cx="579.9" cy="550.9" r="2.4"/><circle cx="585.2" cy="553.6" r="2.4"/><circle cx="591.9" cy="550.2" r="2.4"/><circle cx="597.2" cy="548.2" r="2.4"/><circle cx="605.2" cy="552.2" r="2.4"/><circle cx="613.1" cy="548.2" r="2.4"/><circle cx="549.3" cy="553.6" r="2.4"/><circle cx="554.6" cy="548.9" r="2.4"/><circle cx="557.3" cy="551.6" r="2.4"/><circle cx="561.3" cy="562.2" r="2.4"/><circle cx="593.2" cy="557.6" r="2.4"/><circle cx="605.2" cy="556.2" r="2.4"/><circle cx="591.9" cy="569.5" r="2.4"/><circle cx="585.2" cy="567.5" r="2.4"/><circle cx="607.2" cy="576.8" r="2.4"/><circle cx="621.1" cy="580.2" r="2.4"/><circle cx="605.8" cy="587.5" r="2.4"/><circle cx="634.4" cy="584.8" r="2.4"/><circle cx="624.4" cy="595.5" r="2.4"/><circle cx="620.5" cy="603.4" r="2.4"/><circle cx="625.8" cy="604.8" r="2.4"/><circle cx="618.5" cy="613.4" r="2.4"/><circle cx="621.1" cy="521" r="2.4"/><circle cx="632.4" cy="527" r="2.4"/><circle cx="619.8" cy="539.6" r="2.4"/><circle cx="625.1" cy="540.9" r="2.4"/><circle cx="620.5" cy="550.2" r="2.4"/><circle cx="625.1" cy="550.2" r="2.4"/><circle cx="633.1" cy="549.6" r="2.4"/><circle cx="629.1" cy="568.9" r="2.4"/><circle cx="635.7" cy="566.9" r="2.4"/><circle cx="639.1" cy="558.9" r="2.4"/><circle cx="632.1" cy="527.1" r="2.4"/><circle cx="633.5" cy="550.1" r="2.4"/><circle cx="639.1" cy="559.2" r="2.4"/><circle cx="634.9" cy="566.9" r="2.4"/><circle cx="637.7" cy="569" r="2.4"/><circle cx="647.9" cy="565.8" r="2.4"/><circle cx="631.4" cy="570.4" r="2.4"/><circle cx="634.2" cy="585" r="2.4"/><circle cx="624.1" cy="596" r="2.4"/><circle cx="619.7" cy="603.4" r="2.4"/><circle cx="625.3" cy="604.4" r="2.4"/><circle cx="618.1" cy="613.4" r="2.4"/><circle cx="616.1" cy="616.9" r="2.4"/><circle cx="594.2" cy="631.5" r="2.4"/><circle cx="631.1" cy="637.3" r="2.4"/><circle cx="598.5" cy="530.5" r="2.4"/><circle cx="570.3" cy="540.4" r="2.4"/><circle cx="587" cy="547.4" r="2.4"/><circle cx="583.1" cy="506.8" r="2.4"/><circle cx="583.4" cy="549.3" r="2.4"/><circle cx="573.2" cy="498.1" r="2.4"/><circle cx="602.4" cy="572.4" r="2.4"/><circle cx="578.4" cy="551.5" r="2.4"/><circle cx="574.4" cy="498.6" r="2.4"/><circle cx="582.7" cy="539.6" r="2.4"/><circle cx="590.3" cy="558.4" r="2.4"/><circle cx="584.4" cy="518.5" r="2.4"/><circle cx="585.3" cy="534.2" r="2.4"/><circle cx="578.9" cy="542.1" r="2.4"/><circle cx="571.1" cy="509.2" r="2.4"/><circle cx="592.1" cy="561.8" r="2.4"/><circle cx="602.2" cy="555.7" r="2.4"/><circle cx="606.8" cy="519.6" r="2.4"/><circle cx="588.8" cy="547.9" r="2.4"/><circle cx="591.3" cy="558.9" r="2.4"/><circle cx="585.6" cy="522" r="2.4"/><circle cx="569.7" cy="506.2" r="2.4"/><circle cx="586" cy="521.4" r="2.4"/><circle cx="591.7" cy="534.5" r="2.4"/><circle cx="621.8" cy="543.9" r="2.4"/><circle cx="612.2" cy="519" r="2.4"/><circle cx="584.1" cy="518.1" r="2.4"/><circle cx="572.9" cy="505" r="2.4"/><circle cx="598.6" cy="527.3" r="2.4"/><circle cx="590.8" cy="533.7" r="2.4"/><circle cx="585.8" cy="525.4" r="2.4"/><circle cx="550.2" cy="510" r="2.4"/><circle cx="584.8" cy="574.2" r="2.4"/><circle cx="606.2" cy="546.6" r="2.4"/><circle cx="592.2" cy="549.1" r="2.4"/><circle cx="591" cy="525.5" r="2.4"/><circle cx="582.8" cy="529.8" r="2.4"/><circle cx="615.8" cy="541.5" r="2.4"/><circle cx="606.9" cy="550.5" r="2.4"/><circle cx="587.2" cy="524" r="2.4"/><circle cx="573.3" cy="503.5" r="2.4"/><circle cx="590.4" cy="529.1" r="2.4"/><circle cx="591" cy="537.1" r="2.4"/><circle cx="593.6" cy="536.1" r="2.4"/><circle cx="574.1" cy="519.1" r="2.4"/></g>
<g fill="#22a33a"><circle cx="584.5" cy="437.3" r="2.4"/><circle cx="602.1" cy="455.5" r="2.4"/><circle cx="610.7" cy="452.9" r="2.4"/><circle cx="608.5" cy="459.3" r="2.4"/><circle cx="630.2" cy="459.3" r="2.4"/><circle cx="635.1" cy="455.3" r="2.4"/><circle cx="624.8" cy="467.5" r="2.4"/><circle cx="599.4" cy="473.2" r="2.4"/><circle cx="600.1" cy="484.8" r="2.4"/><circle cx="597.2" cy="489.8" r="2.4"/><circle cx="586.5" cy="496.5" r="2.4"/><circle cx="605.2" cy="501.5" r="2.4"/><circle cx="616.1" cy="481.2" r="2.4"/><circle cx="622.2" cy="484.3" r="2.4"/><circle cx="630.2" cy="479.9" r="2.4"/><circle cx="621.4" cy="494.8" r="2.4"/><circle cx="630.4" cy="496.5" r="2.4"/><circle cx="631.5" cy="499.1" r="2.4"/><circle cx="626.4" cy="499.8" r="2.4"/><circle cx="630.2" cy="508.5" r="2.4"/><circle cx="633.1" cy="513.1" r="2.4"/><circle cx="600.1" cy="507.1" r="2.4"/><circle cx="600.1" cy="512.4" r="2.4"/><circle cx="593.2" cy="512.7" r="2.4"/><circle cx="625.1" cy="521.8" r="2.4"/><circle cx="635.7" cy="521.5" r="2.4"/><circle cx="632.4" cy="524.4" r="2.4"/><circle cx="613.8" cy="488.5" r="2.4"/><circle cx="639.7" cy="515.1" r="2.4"/><circle cx="682.4" cy="445.4" r="2.4"/><circle cx="661.4" cy="466.6" r="2.4"/><circle cx="660" cy="478.2" r="2.4"/><circle cx="661" cy="485.4" r="2.4"/><circle cx="692.4" cy="486.3" r="2.4"/><circle cx="665.3" cy="493.1" r="2.4"/><circle cx="672.9" cy="491.4" r="2.4"/><circle cx="687.9" cy="497.7" r="2.4"/><circle cx="681" cy="506.1" r="2.4"/><circle cx="651.6" cy="493.5" r="2.4"/><circle cx="649.5" cy="497" r="2.4"/><circle cx="648.2" cy="499.8" r="2.4"/><circle cx="631.4" cy="498.4" r="2.4"/><circle cx="642.6" cy="506.1" r="2.4"/><circle cx="641.2" cy="509.6" r="2.4"/><circle cx="632.8" cy="513.5" r="2.4"/><circle cx="641.2" cy="516.8" r="2.4"/><circle cx="652.1" cy="518.7" r="2.4"/><circle cx="635.6" cy="521.5" r="2.4"/><circle cx="670.5" cy="521.5" r="2.4"/><circle cx="671.9" cy="520.5" r="2.4"/><circle cx="687.9" cy="524.2" r="2.4"/><circle cx="691.4" cy="522.2" r="2.4"/><circle cx="704" cy="524.2" r="2.4"/><circle cx="665.2" cy="526.1" r="2.4"/><circle cx="650.2" cy="527.5" r="2.4"/><circle cx="643.3" cy="528.4" r="2.4"/><circle cx="638.4" cy="529.4" r="2.4"/><circle cx="632.8" cy="530.3" r="2.4"/><circle cx="660" cy="530.8" r="2.4"/><circle cx="676.5" cy="530.8" r="2.4"/><circle cx="605.2" cy="535.6" r="2.4"/><circle cx="610.5" cy="540.3" r="2.4"/><circle cx="612.5" cy="544.9" r="2.4"/><circle cx="609.1" cy="549.6" r="2.4"/><circle cx="602.5" cy="550.9" r="2.4"/><circle cx="606.5" cy="515" r="2.4"/><circle cx="616.5" cy="561.5" r="2.4"/><circle cx="614.5" cy="573.5" r="2.4"/><circle cx="621.8" cy="533" r="2.4"/><circle cx="625.1" cy="522.3" r="2.4"/><circle cx="631.8" cy="523.6" r="2.4"/><circle cx="635.7" cy="521" r="2.4"/><circle cx="630.4" cy="536.3" r="2.4"/><circle cx="635.7" cy="536.3" r="2.4"/><circle cx="621.8" cy="544.9" r="2.4"/><circle cx="625.1" cy="545.6" r="2.4"/><circle cx="631.8" cy="543.6" r="2.4"/><circle cx="634.4" cy="545.6" r="2.4"/><circle cx="635.7" cy="552.9" r="2.4"/><circle cx="638.4" cy="529.6" r="2.4"/><circle cx="627.1" cy="561.5" r="2.4"/><circle cx="633.1" cy="570.9" r="2.4"/><circle cx="635.1" cy="590.1" r="2.4"/><circle cx="634.4" cy="612.1" r="2.4"/><circle cx="638.4" cy="529.2" r="2.4"/><circle cx="643.3" cy="528.5" r="2.4"/><circle cx="665.6" cy="526.1" r="2.4"/><circle cx="660.4" cy="531.3" r="2.4"/><circle cx="630.7" cy="536.9" r="2.4"/><circle cx="636.3" cy="536.2" r="2.4"/><circle cx="648.8" cy="536.9" r="2.4"/><circle cx="652.3" cy="538.3" r="2.4"/><circle cx="641.9" cy="541.1" r="2.4"/><circle cx="644" cy="541.8" r="2.4"/><circle cx="646.8" cy="544.5" r="2.4"/><circle cx="634.2" cy="542.5" r="2.4"/><circle cx="631.4" cy="544.5" r="2.4"/><circle cx="644" cy="547.6" r="2.4"/><circle cx="635.6" cy="547.3" r="2.4"/><circle cx="635.6" cy="552.9" r="2.4"/><circle cx="655.1" cy="552.2" r="2.4"/><circle cx="660.4" cy="553.6" r="2.4"/><circle cx="669.1" cy="549.9" r="2.4"/><circle cx="685.9" cy="539" r="2.4"/><circle cx="708.9" cy="539" r="2.4"/><circle cx="714.9" cy="541.1" r="2.4"/><circle cx="682.4" cy="554.3" r="2.4"/><circle cx="653" cy="558.5" r="2.4"/><circle cx="656.5" cy="558.5" r="2.4"/><circle cx="655.8" cy="560.6" r="2.4"/><circle cx="648.2" cy="568.6" r="2.4"/><circle cx="632.8" cy="570.4" r="2.4"/><circle cx="664.9" cy="571.8" r="2.4"/><circle cx="674.7" cy="569.4" r="2.4"/><circle cx="653.7" cy="576" r="2.4"/><circle cx="663.5" cy="581.5" r="2.4"/><circle cx="669.4" cy="580.2" r="2.4"/><circle cx="662.1" cy="586.4" r="2.4"/><circle cx="674" cy="585.7" r="2.4"/><circle cx="635.3" cy="589.9" r="2.4"/><circle cx="648.2" cy="606.3" r="2.4"/><circle cx="653.7" cy="605.3" r="2.4"/><circle cx="650.9" cy="608.8" r="2.4"/><circle cx="657.9" cy="608.8" r="2.4"/><circle cx="633.5" cy="613" r="2.4"/><circle cx="635.6" cy="612.3" r="2.4"/><circle cx="646.1" cy="626.9" r="2.4"/><circle cx="633.7" cy="613" r="2.4"/><circle cx="635.7" cy="612.6" r="2.4"/><circle cx="647.6" cy="606.6" r="2.4"/><circle cx="646" cy="626.9" r="2.4"/><circle cx="646.8" cy="534.1" r="2.4"/><circle cx="619.8" cy="532.7" r="2.4"/><circle cx="640" cy="538.9" r="2.4"/><circle cx="652.6" cy="576.4" r="2.4"/><circle cx="627.6" cy="535.1" r="2.4"/><circle cx="604" cy="497.5" r="2.4"/><circle cx="652.7" cy="516.6" r="2.4"/><circle cx="634" cy="513.4" r="2.4"/><circle cx="646.2" cy="531" r="2.4"/><circle cx="642.4" cy="514.3" r="2.4"/><circle cx="626.5" cy="529.1" r="2.4"/><circle cx="629.4" cy="542.5" r="2.4"/><circle cx="640.3" cy="531.7" r="2.4"/><circle cx="638.1" cy="534.5" r="2.4"/><circle cx="655.2" cy="540.8" r="2.4"/></g>
<ellipse cx="586.0" cy="527.2" rx="48" ry="28" transform="rotate(65 586.0 527.2)" fill="none" stroke="#e8675e" stroke-width="1.3"/>
<ellipse cx="640.5" cy="527.5" rx="50" ry="30" transform="rotate(70 640.5 527.5)" fill="none" stroke="#22a33a" stroke-width="1.3"/>
<ellipse cx="558.5" cy="575.0" rx="52" ry="25" transform="rotate(40 558.5 575.0)" fill="none" stroke="#5a8fd5" stroke-width="1.3"/>
<rect x="453.6" y="398.6" width="281.4" height="283.7" fill="none" stroke="#333" stroke-width="1.1"/>
<path d="M447.3 627.6H453.6M508.1 682.3V688.3M447.3 541.2H453.6M594.3 682.3V688.3M447.3 454.8H453.6M680.5 682.3V688.3" stroke="#333" stroke-width="1.1" fill="none"/>
<text x="443.3" y="459.2" font-size="12" text-anchor="end" fill="#1a1a1a" stroke="#1a1a1a" stroke-width="0.2" >2</text>
<text x="443.3" y="545.6" font-size="12" text-anchor="end" fill="#1a1a1a" stroke="#1a1a1a" stroke-width="0.2" >0</text>
<text x="443.3" y="632" font-size="12" text-anchor="end" fill="#1a1a1a" stroke="#1a1a1a" stroke-width="0.2" >−2</text>
<text x="508.1" y="706.3" font-size="12" text-anchor="middle" fill="#1a1a1a" stroke="#1a1a1a" stroke-width="0.2" >−2</text>
<text x="594.3" y="706.3" font-size="12" text-anchor="middle" fill="#1a1a1a" stroke="#1a1a1a" stroke-width="0.2" >0</text>
<text x="680.5" y="706.3" font-size="12" text-anchor="middle" fill="#1a1a1a" stroke="#1a1a1a" stroke-width="0.2" >2</text>
<text x="592.6" y="725.3" font-size="12.5" text-anchor="middle" fill="#1a1a1a" stroke="#1a1a1a" stroke-width="0.2" >Standardized PC1 (21.3% explained var.)</text>
<text transform="translate(421.3 546.7) rotate(-90)" font-size="12.5" text-anchor="middle" fill="#1a1a1a" stroke="#1a1a1a" stroke-width="0.22">Standardized PC2 (11.5% explained var.)</text>
<text x="521.8" y="386.8" font-size="10.2" text-anchor="start" fill="#1a1a1a" stroke="#1a1a1a" stroke-width="0.2" >Cluster</text>
<path d="M559.3 383.1H572.2" stroke="#e8675e" stroke-width="1.3"/>
<circle cx="565.8" cy="383.1" r="2.2" fill="#e8675e"/>
<text x="577.4" y="386.7" font-size="10" text-anchor="start" fill="#1a1a1a" stroke="#1a1a1a" stroke-width="0.2" >C1</text>
<path d="M597.7 383.1H610.6" stroke="#22a33a" stroke-width="1.3"/>
<circle cx="604.2" cy="383.1" r="2.2" fill="#22a33a"/>
<text x="616.9" y="386.7" font-size="10" text-anchor="start" fill="#1a1a1a" stroke="#1a1a1a" stroke-width="0.2" >C2</text>
<path d="M637.7 383.1H652" stroke="#5a8fd5" stroke-width="1.3"/>
<circle cx="644.9" cy="383.1" r="2.2" fill="#5a8fd5"/>
<text x="659.6" y="386.7" font-size="10" text-anchor="start" fill="#1a1a1a" stroke="#1a1a1a" stroke-width="0.2" >C3</text>
<path d="M48.6 1005.8H360.6M48.6 953.2H360.6M48.6 900.8H360.6M48.6 848.2H360.6M48.6 795.8H360.6" stroke="#eeeeee" stroke-width="0.8" fill="none"/>
<path d="M48.6 979.5H360.6M48.6 927H360.6M48.6 874.5H360.6M48.6 822H360.6M48.6 769.5H360.6M106.5 768.0V1025.2M204.2 768.0V1025.2M302.3 768.0V1025.2" stroke="#e6e6e6" stroke-width="1.1" fill="none"/>
<path d="M106.9 850.8C107.2 851.0 108.1 851.5 108.4 852.2C108.8 853.0 108.8 853.6 109.0 855.3C109.2 857.0 109.4 859.6 109.8 862.2C110.2 864.8 110.9 867.9 111.6 870.8C112.3 873.7 113.2 876.8 114.1 879.4C115.0 882.0 115.3 884.2 117.2 886.2C119.1 888.2 122.5 889.7 125.3 891.4C128.1 893.1 131.3 894.5 133.9 896.5C136.5 898.5 138.7 900.8 140.8 903.4C143.0 906.0 145.2 908.9 146.8 912.0C148.4 915.1 149.6 920.0 150.2 922.3C150.8 924.6 151.1 923.8 150.4 925.8C149.7 927.8 147.9 931.4 145.9 934.3C143.9 937.1 141.1 940.0 138.2 942.9C135.3 945.8 131.9 948.9 128.7 951.5C125.6 954.1 121.7 956.1 119.3 958.4C116.9 960.7 115.5 962.4 114.1 965.3C112.7 968.2 111.6 971.3 110.7 975.6C109.8 979.9 109.0 985.6 108.5 991.0C108.0 996.4 107.9 1004.5 107.8 1008.2C107.8 1012.0 108.4 1012.3 108.2 1013.5C108.0 1014.7 107.1 1015.2 106.9 1015.5L105.9 1015.5C105.7 1015.2 104.8 1014.7 104.6 1013.5C104.5 1012.3 105.0 1012.0 105.0 1008.2C105.0 1004.5 104.8 996.4 104.3 991.0C103.8 985.6 103.0 979.9 102.1 975.6C101.2 971.3 100.1 968.2 98.7 965.3C97.3 962.4 95.9 960.7 93.5 958.4C91.1 956.1 87.2 954.1 84.1 951.5C81.0 948.9 77.5 945.8 74.6 942.9C71.7 940.0 68.9 937.1 66.9 934.3C64.9 931.4 63.1 927.8 62.4 925.8C61.7 923.8 62.0 924.6 62.6 922.3C63.2 920.0 64.4 915.1 66.0 912.0C67.6 908.9 69.8 906.0 72.0 903.4C74.2 900.8 76.3 898.5 78.9 896.5C81.5 894.5 84.7 893.1 87.5 891.4C90.3 889.7 93.7 888.2 95.6 886.2C97.5 884.2 97.8 882.0 98.7 879.4C99.6 876.8 100.5 873.7 101.2 870.8C101.9 867.9 102.6 864.8 103.0 862.2C103.4 859.6 103.6 857.0 103.8 855.3C104.0 853.6 104.1 853.0 104.4 852.2C104.8 851.5 105.7 851.0 105.9 850.8Z" fill="#0b4a8f" stroke="#333" stroke-width="1.1" stroke-linejoin="round"/>
<path d="M106.4 851.5V1014.5" stroke="#333" stroke-width="1.1"/>
<rect x="101.5" y="908.6" width="9.8" height="30" fill="#fff" stroke="#333" stroke-width="1.1"/>
<path d="M101.5 924H111.3" stroke="#333" stroke-width="2"/>
<circle cx="106.4" cy="853" r="2.2" fill="#333"/><circle cx="106.4" cy="1014" r="2.2" fill="#333"/><rect x="104.8" y="853" width="3.2" height="10" fill="#333"/>
<path d="M213 852.6C214.1 853.4 217.3 855.5 219.4 857.6C221.5 859.7 224.2 862.7 225.7 865.2C227.2 867.7 226.9 870.3 228.2 872.8C229.4 875.3 231.3 877.9 233.2 880.4C235.1 882.9 238.1 885.1 239.6 888.0C241.1 890.9 242.1 895.1 242.1 898.0C242.1 900.9 241.3 902.2 239.6 905.6C237.9 909.0 234.3 914.1 232.0 918.3C229.7 922.5 228.2 926.7 225.7 930.9C223.2 935.1 219.5 939.7 216.8 943.5C214.0 947.3 211.0 950.6 209.2 953.6C207.4 956.6 206.8 957.4 206.2 961.2C205.6 965.0 205.6 971.9 205.5 976.4C205.4 980.9 205.8 986.1 205.7 988.5C205.6 990.9 204.9 990.6 204.7 991.0L203.7 991C203.5 990.6 202.8 990.9 202.7 988.5C202.6 986.1 203.0 980.9 202.9 976.4C202.8 971.9 202.8 965.0 202.2 961.2C201.6 957.4 201.0 956.6 199.2 953.6C197.4 950.6 194.3 947.3 191.6 943.5C188.8 939.7 185.2 935.1 182.7 930.9C180.2 926.7 178.7 922.5 176.4 918.3C174.1 914.1 170.5 909.0 168.8 905.6C167.1 902.2 166.3 900.9 166.3 898.0C166.3 895.1 167.3 890.9 168.8 888.0C170.3 885.1 173.3 882.9 175.2 880.4C177.1 877.9 178.9 875.3 180.2 872.8C181.4 870.3 181.2 867.7 182.7 865.2C184.2 862.7 186.9 859.7 189.0 857.6C191.1 855.5 194.3 853.4 195.4 852.6Z" fill="#e2171c" stroke="#333" stroke-width="1.1" stroke-linejoin="round"/>
<path d="M204.2 852.6V990" stroke="#333" stroke-width="1.1"/>
<rect x="199.2" y="880.4" width="10.6" height="36.1" fill="#fff" stroke="#333" stroke-width="1.1"/>
<path d="M199.2 898H209.8" stroke="#333" stroke-width="2"/>
<circle cx="204.2" cy="990" r="2.2" fill="#333"/><rect x="203.1" y="958" width="2.2" height="30" fill="#333"/>
<path d="M312.7 855.1C312.9 856.4 313.7 860.2 314.1 862.7C314.5 865.2 314.0 867.8 315.3 870.3C316.6 872.8 319.0 874.4 321.7 877.8C324.4 881.2 329.0 886.3 331.7 890.5C334.4 894.7 336.5 898.5 338.1 903.1C339.7 907.7 341.1 913.7 341.1 918.3C341.1 922.9 340.1 927.1 338.1 930.9C336.1 934.7 332.8 937.6 329.2 941.0C325.6 944.4 320.1 948.1 316.6 951.1C313.1 954.1 310.1 956.2 308.3 958.7C306.5 961.2 306.1 965.0 305.7 966.3L299.7 966.3C299.3 965.0 298.9 961.2 297.1 958.7C295.3 956.2 292.3 954.1 288.8 951.1C285.3 948.1 279.8 944.4 276.2 941.0C272.6 937.6 269.3 934.7 267.3 930.9C265.3 927.1 264.3 922.9 264.3 918.3C264.3 913.7 265.7 907.7 267.3 903.1C268.9 898.5 271.0 894.7 273.7 890.5C276.4 886.3 281.0 881.2 283.7 877.8C286.4 874.4 288.8 872.8 290.1 870.3C291.4 867.8 290.9 865.2 291.3 862.7C291.7 860.2 292.5 856.4 292.7 855.1Z" fill="#41ad3e" stroke="#333" stroke-width="1.1" stroke-linejoin="round"/>
<path d="M302.7 855.1V966.3" stroke="#333" stroke-width="1.1"/>
<rect x="297.7" y="895" width="9.6" height="35.9" fill="#fff" stroke="#333" stroke-width="1.1"/>
<path d="M297.7 913.7H307.3" stroke="#333" stroke-width="2"/>
<rect x="48.6" y="768.0" width="312" height="257.2" fill="none" stroke="#333" stroke-width="1.1"/>
<path d="M43.0 979.5H48.6M43.0 927H48.6M43.0 874.5H48.6M43.0 822H48.6M43.0 769.5H48.6M106.5 1025.2V1031M204.2 1025.2V1031M302.3 1025.2V1031" stroke="#333" stroke-width="1.1" fill="none"/>
<text x="37.5" y="983.9" font-size="12" text-anchor="end" fill="#1a1a1a" stroke="#1a1a1a" stroke-width="0.2" >0.4</text>
<text x="37.5" y="931.4" font-size="12" text-anchor="end" fill="#1a1a1a" stroke="#1a1a1a" stroke-width="0.2" >0.5</text>
<text x="37.5" y="878.9" font-size="12" text-anchor="end" fill="#1a1a1a" stroke="#1a1a1a" stroke-width="0.2" >0.6</text>
<text x="37.5" y="826.4" font-size="12" text-anchor="end" fill="#1a1a1a" stroke="#1a1a1a" stroke-width="0.2" >0.7</text>
<text x="37.5" y="773.9" font-size="12" text-anchor="end" fill="#1a1a1a" stroke="#1a1a1a" stroke-width="0.2" >0.8</text>
<text x="106.5" y="1048" font-size="11.5" text-anchor="middle" fill="#1a1a1a" stroke="#1a1a1a" stroke-width="0.2" >C1</text>
<text x="204.2" y="1048" font-size="11.5" text-anchor="middle" fill="#1a1a1a" stroke="#1a1a1a" stroke-width="0.2" >C2</text>
<text x="302.3" y="1048" font-size="11.5" text-anchor="middle" fill="#1a1a1a" stroke="#1a1a1a" stroke-width="0.2" >C3</text>
<text transform="translate(10.2 898.6) rotate(-90)" font-size="12.8" text-anchor="middle" fill="#1a1a1a" stroke="#1a1a1a" stroke-width="0.22">Methy level</text>
<path d="M204.2 784.6V779.9H302.3V784.6" stroke="#111" stroke-width="1.5" fill="none"/>
<text x="256.5" y="780.9" font-size="12.5" text-anchor="middle" fill="#111" stroke="#111" stroke-width="0.2" >***</text>
<path d="M106.5 817.3V812.2H302.3V817.3" stroke="#111" stroke-width="1.5" fill="none"/>
<text x="207.4" y="813.1" font-size="12.5" text-anchor="middle" fill="#111" stroke="#111" stroke-width="0.2" >***</text>
<path d="M106.5 849V844.3H204.2V849" stroke="#111" stroke-width="1.5" fill="none"/>
<text x="158.4" y="844.9" font-size="12.5" text-anchor="middle" fill="#111" stroke="#111" stroke-width="0.2" >***</text>
<text x="139.7" y="749.1" font-size="10.3" text-anchor="start" fill="#1a1a1a" stroke="#1a1a1a" stroke-width="0.2" >Cluster</text>
<rect x="174.7" y="737.3" width="14.3" height="15.3" fill="#0b4a8f" stroke="#333" stroke-width="1"/>
<text x="189.9" y="749.1" font-size="10.3" text-anchor="start" fill="#1a1a1a" stroke="#1a1a1a" stroke-width="0.2" >C1</text>
<rect x="206.7" y="737.3" width="13.9" height="15.3" fill="#e2171c" stroke="#333" stroke-width="1"/>
<text x="223.4" y="749.1" font-size="10.3" text-anchor="start" fill="#1a1a1a" stroke="#1a1a1a" stroke-width="0.2" >C2</text>
<rect x="237.8" y="737.3" width="14.5" height="15.3" fill="#41ad3e" stroke="#333" stroke-width="1"/>
<text x="257.9" y="749.1" font-size="10.3" text-anchor="start" fill="#1a1a1a" stroke="#1a1a1a" stroke-width="0.2" >C3</text>
<path d="M425.4 971.4H737.6M425.4 917.1H737.6M425.4 862.8H737.6M425.4 808.5H737.6" stroke="#eeeeee" stroke-width="0.8" fill="none"/>
<path d="M425.4 998.6H737.6M425.4 944.3H737.6M425.4 890H737.6M425.4 835.7H737.6M425.4 781.4H737.6M483.5 767.6V1024.3M581 767.6V1024.3M679.1 767.6V1024.3" stroke="#e6e6e6" stroke-width="1.1" fill="none"/>
<path d="M484.5 851.3C484.7 853.2 484.6 859.5 485.5 862.7C486.4 865.9 487.6 867.8 489.8 870.3C492.0 872.8 496.0 874.8 498.7 877.8C501.4 880.8 503.9 884.2 506.2 888.0C508.5 891.8 510.8 896.8 512.5 900.6C514.2 904.4 515.2 907.8 516.3 910.7C517.4 913.7 518.7 915.8 518.9 918.3C519.1 920.8 518.5 923.3 517.6 925.8C516.8 928.3 514.6 930.9 513.8 933.4C512.9 935.9 513.5 938.0 512.5 941.0C511.4 944.0 509.8 947.3 507.5 951.1C505.2 954.9 501.4 959.5 498.7 963.7C496.0 967.9 493.1 972.2 491.1 976.4C489.1 980.6 487.6 984.8 486.5 989.0C485.4 993.2 485.0 998.0 484.8 1001.6C484.6 1005.2 485.2 1008.7 485.1 1010.5C485.0 1012.3 484.2 1012.2 484.0 1012.5L483 1012.5C482.8 1012.2 482.0 1012.3 481.9 1010.5C481.8 1008.7 482.4 1005.2 482.2 1001.6C482.0 998.0 481.6 993.2 480.5 989.0C479.4 984.8 477.9 980.6 475.9 976.4C473.9 972.2 471.0 967.9 468.3 963.7C465.6 959.5 461.8 954.9 459.5 951.1C457.2 947.3 455.6 944.0 454.5 941.0C453.4 938.0 454.1 935.9 453.2 933.4C452.3 930.9 450.2 928.3 449.4 925.8C448.5 923.3 447.9 920.8 448.1 918.3C448.3 915.8 449.6 913.7 450.7 910.7C451.8 907.8 452.8 904.4 454.5 900.6C456.2 896.8 458.5 891.8 460.8 888.0C463.1 884.2 465.6 880.8 468.3 877.8C471.0 874.8 475.0 872.8 477.2 870.3C479.4 867.8 480.6 865.9 481.5 862.7C482.4 859.5 482.3 853.2 482.5 851.3Z" fill="#0b4a8f" stroke="#333" stroke-width="1.1" stroke-linejoin="round"/>
<path d="M483.5 851.3V1011.5" stroke="#333" stroke-width="1.1"/>
<rect x="478.4" y="903.6" width="10.1" height="37.9" fill="#fff" stroke="#333" stroke-width="1.1"/>
<path d="M478.4 920.3H488.5" stroke="#333" stroke-width="2"/>
<circle cx="483.5" cy="1011.5" r="2.2" fill="#333"/><rect x="482" y="851" width="3" height="12" fill="#333"/>
<path d="M584 885.4C585.2 886.7 588.1 890.0 591.0 893.0C593.9 896.0 597.8 899.3 601.2 903.1C604.6 906.9 608.6 911.5 611.3 915.7C614.0 919.9 616.3 925.0 617.6 928.4C618.9 931.8 619.3 933.0 618.9 936.0C618.5 939.0 617.2 942.3 615.1 946.1C613.0 949.9 609.2 954.5 606.3 958.7C603.3 962.9 600.1 967.1 597.4 971.3C594.6 975.5 592.0 979.8 589.8 984.0C587.6 988.2 585.2 992.4 584.0 996.6C582.8 1000.8 583.2 1006.6 582.8 1009.0C582.4 1011.4 581.7 1010.7 581.5 1011.0L580.5 1011C580.3 1010.7 579.6 1011.4 579.2 1009.0C578.8 1006.6 579.2 1000.8 578.0 996.6C576.8 992.4 574.4 988.2 572.2 984.0C570.0 979.8 567.4 975.5 564.6 971.3C561.9 967.1 558.7 962.9 555.7 958.7C552.8 954.5 549.0 949.9 546.9 946.1C544.8 942.3 543.5 939.0 543.1 936.0C542.7 933.0 543.1 931.8 544.4 928.4C545.7 925.0 548.0 919.9 550.7 915.7C553.4 911.5 557.4 906.9 560.8 903.1C564.2 899.3 568.1 896.0 571.0 893.0C573.9 890.0 576.8 886.7 578.0 885.4Z" fill="#e2171c" stroke="#333" stroke-width="1.1" stroke-linejoin="round"/>
<path d="M581.0 885.4V1010.5" stroke="#333" stroke-width="1.1"/>
<rect x="576.4" y="920.3" width="9.6" height="33.8" fill="#fff" stroke="#333" stroke-width="1.1"/>
<path d="M576.4 937.2H586" stroke="#333" stroke-width="2"/>
<circle cx="581" cy="1010.5" r="2.2" fill="#333"/>
<path d="M682 861.4C682.4 862.4 682.7 865.4 684.2 867.6C685.7 869.9 688.2 872.5 690.8 874.9C693.4 877.3 697.0 879.8 699.6 882.2C702.2 884.6 703.8 886.8 706.2 889.5C708.6 892.2 711.8 895.6 714.2 898.3C716.6 901.0 719.3 903.2 720.8 905.6C722.3 908.0 723.4 910.7 723.3 912.9C723.2 915.1 722.2 916.8 720.1 918.8C718.0 920.8 713.9 922.4 710.6 924.6C707.3 926.8 703.0 929.2 700.3 931.9C697.6 934.6 696.3 937.8 694.5 940.7C692.7 943.6 690.3 946.6 689.3 949.5C688.3 952.4 688.7 955.3 688.6 958.2C688.5 961.1 689.1 964.3 688.6 967.0C688.1 969.7 686.6 971.6 685.7 974.3C684.9 977.0 683.9 981.9 683.5 983.4L674.7 983.4C674.3 981.9 673.4 977.0 672.5 974.3C671.6 971.6 670.1 969.7 669.6 967.0C669.1 964.3 669.7 961.1 669.6 958.2C669.5 955.3 669.9 952.4 668.9 949.5C667.9 946.6 665.5 943.6 663.7 940.7C661.9 937.8 660.6 934.6 657.9 931.9C655.2 929.2 650.9 926.8 647.6 924.6C644.3 922.4 640.2 920.8 638.1 918.8C636.0 916.8 635.0 915.1 634.9 912.9C634.8 910.7 635.9 908.0 637.4 905.6C638.9 903.2 641.6 901.0 644.0 898.3C646.4 895.6 649.6 892.2 652.0 889.5C654.4 886.8 656.0 884.6 658.6 882.2C661.2 879.8 664.8 877.3 667.4 874.9C670.0 872.5 672.5 869.9 674.0 867.6C675.5 865.4 675.8 862.4 676.2 861.4Z" fill="#41ad3e" stroke="#333" stroke-width="1.1" stroke-linejoin="round"/>
<path d="M679.1 861.4V966" stroke="#333" stroke-width="1.1"/>
<rect x="673.7" y="899.4" width="10.5" height="27.7" fill="#fff" stroke="#333" stroke-width="1.1"/>
<path d="M673.7 913.3H684.2" stroke="#333" stroke-width="2"/>
<rect x="676.9" y="968.5" width="4.4" height="6" rx="2" fill="#333"/><rect x="676.9" y="977" width="4.4" height="6.4" rx="2" fill="#333"/>
<rect x="425.4" y="767.6" width="312.2" height="256.7" fill="none" stroke="#333" stroke-width="1.1"/>
<path d="M419.2 998.6H425.4M419.2 944.3H425.4M419.2 890H425.4M419.2 835.7H425.4M419.2 781.4H425.4M483.5 1024.3V1030.1M581 1024.3V1030.1M679.1 1024.3V1030.1" stroke="#333" stroke-width="1.1" fill="none"/>
<text x="414" y="1003" font-size="12" text-anchor="end" fill="#1a1a1a" stroke="#1a1a1a" stroke-width="0.2" >2</text>
<text x="414" y="948.7" font-size="12" text-anchor="end" fill="#1a1a1a" stroke="#1a1a1a" stroke-width="0.2" >3</text>
<text x="414" y="894.4" font-size="12" text-anchor="end" fill="#1a1a1a" stroke="#1a1a1a" stroke-width="0.2" >4</text>
<text x="414" y="840.1" font-size="12" text-anchor="end" fill="#1a1a1a" stroke="#1a1a1a" stroke-width="0.2" >5</text>
<text x="414" y="785.8" font-size="12" text-anchor="end" fill="#1a1a1a" stroke="#1a1a1a" stroke-width="0.2" >6</text>
<text x="483.5" y="1048" font-size="11.5" text-anchor="middle" fill="#1a1a1a" stroke="#1a1a1a" stroke-width="0.2" >C1</text>
<text x="581" y="1048" font-size="11.5" text-anchor="middle" fill="#1a1a1a" stroke="#1a1a1a" stroke-width="0.2" >C2</text>
<text x="679.1" y="1048" font-size="11.5" text-anchor="middle" fill="#1a1a1a" stroke="#1a1a1a" stroke-width="0.2" >C3</text>
<text transform="translate(398.2 902.3) rotate(-90)" font-size="12.3" text-anchor="middle" fill="#1a1a1a" stroke="#1a1a1a" stroke-width="0.22">Gene level</text>
<path d="M581 783.9V779.1H679.1V783.9" stroke="#111" stroke-width="1.5" fill="none"/>
<rect x="623.2" y="768.9" width="20.5" height="7" fill="#fff"/>
<text x="633.5" y="779.5" font-size="12.5" text-anchor="middle" fill="#111" stroke="#111" stroke-width="0.2" >***</text>
<path d="M483.5 816.2V811H679.1V816.2" stroke="#111" stroke-width="1.5" fill="none"/>
<rect x="578" y="801.3" width="9.5" height="7" fill="#fff"/>
<text x="582.7" y="811.9" font-size="12.5" text-anchor="middle" fill="#111" stroke="#111" stroke-width="0.2" >*</text>
<path d="M483.5 848.6V843.8H581V848.6" stroke="#111" stroke-width="1.5" fill="none"/>
<rect x="525" y="832.5" width="20.5" height="7" fill="#fff"/>
<text x="535.2" y="843.1" font-size="12.5" text-anchor="middle" fill="#111" stroke="#111" stroke-width="0.2" >***</text>
<text x="521" y="749.1" font-size="10.3" text-anchor="start" fill="#1a1a1a" stroke="#1a1a1a" stroke-width="0.2" >Cluster</text>
<rect x="556.3" y="737" width="14.2" height="14.4" fill="#0b4a8f" stroke="#333" stroke-width="1"/>
<text x="571.2" y="749.1" font-size="10.3" text-anchor="start" fill="#1a1a1a" stroke="#1a1a1a" stroke-width="0.2" >C1</text>
<rect x="588.5" y="737" width="13.6" height="14.4" fill="#e2171c" stroke="#333" stroke-width="1"/>
<text x="604.7" y="749.1" font-size="10.3" text-anchor="start" fill="#1a1a1a" stroke="#1a1a1a" stroke-width="0.2" >C2</text>
<rect x="620.2" y="737" width="14" height="14.4" fill="#41ad3e" stroke="#333" stroke-width="1"/>
<text x="638.3" y="749.1" font-size="10.3" text-anchor="start" fill="#1a1a1a" stroke="#1a1a1a" stroke-width="0.2" >C3</text>
</svg></body></html>
